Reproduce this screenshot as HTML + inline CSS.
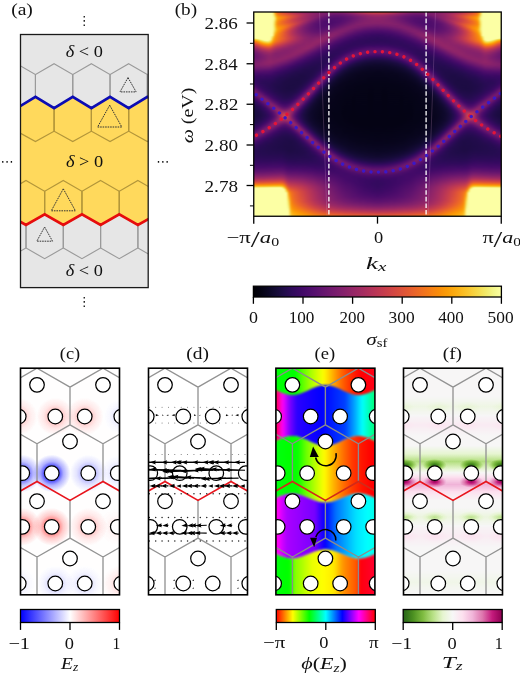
<!DOCTYPE html>
<html><head><meta charset="utf-8"><title>figure</title>
<style>
html,body{margin:0;padding:0;background:#fff;overflow:hidden;}
svg{display:block;}
text{font-family:"Liberation Serif",serif;fill:#111;font-kerning:none;}
</style></head><body>
<svg width="520" height="675" viewBox="0 0 520 675">
<rect width="520" height="675" fill="#fff"/>
<defs>
<radialGradient id="gW"><stop offset="0" stop-color="#fff" stop-opacity="1"/><stop offset="0.36" stop-color="#fff" stop-opacity="1"/><stop offset="0.62" stop-color="#fff" stop-opacity="0.42"/><stop offset="1" stop-color="#fff" stop-opacity="0"/></radialGradient>
<radialGradient id="gK"><stop offset="0" stop-color="#000" stop-opacity="1"/><stop offset="0.36" stop-color="#000" stop-opacity="1"/><stop offset="0.62" stop-color="#000" stop-opacity="0.42"/><stop offset="1" stop-color="#000" stop-opacity="0"/></radialGradient>
<radialGradient id="sW"><stop offset="0" stop-color="#fff" stop-opacity="1"/><stop offset="0.5" stop-color="#fff" stop-opacity="0.5"/><stop offset="1" stop-color="#fff" stop-opacity="0"/></radialGradient>
<radialGradient id="sK"><stop offset="0" stop-color="#000" stop-opacity="1"/><stop offset="0.5" stop-color="#000" stop-opacity="0.5"/><stop offset="1" stop-color="#000" stop-opacity="0"/></radialGradient>
<filter id="fbwr" x="0" y="0" width="1" height="1" color-interpolation-filters="sRGB"><feComponentTransfer><feFuncR type="table" tableValues="0 1 1"/><feFuncG type="table" tableValues="0 1 0"/><feFuncB type="table" tableValues="1 1 0"/></feComponentTransfer></filter>
<filter id="fpiyg" x="0" y="0" width="1" height="1" color-interpolation-filters="sRGB"><feComponentTransfer><feFuncR type="table" tableValues="0.153 0.223 0.299 0.398 0.498 0.612 0.717 0.810 0.902 0.936 0.969 0.980 0.992 0.968 0.944 0.906 0.871 0.821 0.768 0.658 0.557"/><feFuncG type="table" tableValues="0.392 0.477 0.569 0.653 0.737 0.811 0.880 0.921 0.961 0.965 0.967 0.924 0.878 0.794 0.709 0.583 0.467 0.283 0.104 0.052 0.004"/><feFuncB type="table" tableValues="0.098 0.113 0.129 0.191 0.255 0.393 0.520 0.668 0.816 0.894 0.968 0.953 0.937 0.895 0.852 0.764 0.682 0.584 0.487 0.401 0.322"/></feComponentTransfer></filter>
<linearGradient id="h0" x1="0" y1="0" x2="0" y2="1"><stop offset="0.0024" stop-color="#fcffa4"/><stop offset="0.1244" stop-color="#fcffa4"/><stop offset="0.1293" stop-color="#f4f88e"/><stop offset="0.1341" stop-color="#f8cd37"/><stop offset="0.1390" stop-color="#fca50a"/><stop offset="0.1439" stop-color="#f78410"/><stop offset="0.1488" stop-color="#ed6925"/><stop offset="0.1537" stop-color="#e05536"/><stop offset="0.1585" stop-color="#d04545"/><stop offset="0.1683" stop-color="#b1325a"/><stop offset="0.1780" stop-color="#952667"/><stop offset="0.1927" stop-color="#781c6d"/><stop offset="0.2073" stop-color="#6a176e"/><stop offset="0.2220" stop-color="#69166e"/><stop offset="0.2561" stop-color="#7f1e6c"/><stop offset="0.2707" stop-color="#751b6e"/><stop offset="0.2951" stop-color="#4f0d6c"/><stop offset="0.3146" stop-color="#3b0964"/><stop offset="0.3293" stop-color="#360961"/><stop offset="0.3488" stop-color="#390963"/><stop offset="0.3634" stop-color="#490b6a"/><stop offset="0.3732" stop-color="#59106e"/><stop offset="0.3829" stop-color="#6c186e"/><stop offset="0.3878" stop-color="#721a6e"/><stop offset="0.3927" stop-color="#741a6e"/><stop offset="0.3976" stop-color="#71196e"/><stop offset="0.4171" stop-color="#4c0c6b"/><stop offset="0.4268" stop-color="#3b0964"/><stop offset="0.4415" stop-color="#2b0b57"/><stop offset="0.4610" stop-color="#210c4a"/><stop offset="0.4854" stop-color="#1b0c41"/><stop offset="0.5098" stop-color="#190c3e"/><stop offset="0.5390" stop-color="#1f0c48"/><stop offset="0.5683" stop-color="#340a5f"/><stop offset="0.5780" stop-color="#420a68"/><stop offset="0.5927" stop-color="#5f136e"/><stop offset="0.6024" stop-color="#71196e"/><stop offset="0.6122" stop-color="#71196e"/><stop offset="0.6317" stop-color="#4d0d6c"/><stop offset="0.6463" stop-color="#390963"/><stop offset="0.6659" stop-color="#2b0b57"/><stop offset="0.6951" stop-color="#280b53"/><stop offset="0.7244" stop-color="#2f0a5b"/><stop offset="0.7537" stop-color="#400a67"/><stop offset="0.7829" stop-color="#61136e"/><stop offset="0.8024" stop-color="#82206c"/><stop offset="0.8171" stop-color="#a62d60"/><stop offset="0.8268" stop-color="#c33b4f"/><stop offset="0.8366" stop-color="#e15635"/><stop offset="0.8415" stop-color="#ef6c23"/><stop offset="0.8463" stop-color="#f8870e"/><stop offset="0.8512" stop-color="#fca80d"/><stop offset="0.8561" stop-color="#f7d13d"/><stop offset="0.8610" stop-color="#f5f992"/><stop offset="0.8659" stop-color="#fcffa4"/><stop offset="0.9976" stop-color="#fcffa4"/></linearGradient>
<linearGradient id="h1" x1="0" y1="0" x2="0" y2="1"><stop offset="0.0024" stop-color="#fcffa4"/><stop offset="0.1293" stop-color="#fcffa4"/><stop offset="0.1341" stop-color="#f5db4c"/><stop offset="0.1390" stop-color="#fbb61a"/><stop offset="0.1439" stop-color="#fa9407"/><stop offset="0.1488" stop-color="#f47918"/><stop offset="0.1585" stop-color="#db503b"/><stop offset="0.1683" stop-color="#bc3754"/><stop offset="0.1780" stop-color="#9f2a63"/><stop offset="0.1878" stop-color="#88226a"/><stop offset="0.1976" stop-color="#781c6d"/><stop offset="0.2073" stop-color="#6f196e"/><stop offset="0.2220" stop-color="#6c186e"/><stop offset="0.2415" stop-color="#781c6d"/><stop offset="0.2512" stop-color="#7f1e6c"/><stop offset="0.2610" stop-color="#7f1e6c"/><stop offset="0.2707" stop-color="#751b6e"/><stop offset="0.2951" stop-color="#4f0d6c"/><stop offset="0.3146" stop-color="#390963"/><stop offset="0.3341" stop-color="#320a5e"/><stop offset="0.3537" stop-color="#360961"/><stop offset="0.3683" stop-color="#440a68"/><stop offset="0.3878" stop-color="#67166e"/><stop offset="0.3976" stop-color="#741a6e"/><stop offset="0.4024" stop-color="#741a6e"/><stop offset="0.4073" stop-color="#6f196e"/><stop offset="0.4268" stop-color="#490b6a"/><stop offset="0.4415" stop-color="#340a5f"/><stop offset="0.4659" stop-color="#230c4c"/><stop offset="0.4902" stop-color="#1c0c43"/><stop offset="0.5098" stop-color="#1b0c41"/><stop offset="0.5439" stop-color="#240c4f"/><stop offset="0.5634" stop-color="#360961"/><stop offset="0.5732" stop-color="#440a68"/><stop offset="0.5927" stop-color="#6a176e"/><stop offset="0.6024" stop-color="#741a6e"/><stop offset="0.6122" stop-color="#6a176e"/><stop offset="0.6317" stop-color="#450a69"/><stop offset="0.6512" stop-color="#310a5c"/><stop offset="0.6805" stop-color="#260c51"/><stop offset="0.7098" stop-color="#290b55"/><stop offset="0.7439" stop-color="#390963"/><stop offset="0.7683" stop-color="#4f0d6c"/><stop offset="0.7878" stop-color="#69166e"/><stop offset="0.8073" stop-color="#8f2469"/><stop offset="0.8171" stop-color="#a62d60"/><stop offset="0.8268" stop-color="#c43c4e"/><stop offset="0.8317" stop-color="#d34743"/><stop offset="0.8366" stop-color="#e25734"/><stop offset="0.8415" stop-color="#ef6c23"/><stop offset="0.8463" stop-color="#f8870e"/><stop offset="0.8512" stop-color="#fcaa0f"/><stop offset="0.8561" stop-color="#f7d13d"/><stop offset="0.8610" stop-color="#f6fa96"/><stop offset="0.8659" stop-color="#fcffa4"/><stop offset="0.9976" stop-color="#fcffa4"/></linearGradient>
<linearGradient id="h2" x1="0" y1="0" x2="0" y2="1"><stop offset="0.0024" stop-color="#fcffa4"/><stop offset="0.1293" stop-color="#fcffa4"/><stop offset="0.1341" stop-color="#f1ed71"/><stop offset="0.1390" stop-color="#f9cb35"/><stop offset="0.1439" stop-color="#fcaa0f"/><stop offset="0.1488" stop-color="#fa9008"/><stop offset="0.1537" stop-color="#f3761b"/><stop offset="0.1585" stop-color="#e8602d"/><stop offset="0.1683" stop-color="#ca404a"/><stop offset="0.1780" stop-color="#ab2f5e"/><stop offset="0.1878" stop-color="#922568"/><stop offset="0.2024" stop-color="#7a1d6d"/><stop offset="0.2171" stop-color="#71196e"/><stop offset="0.2317" stop-color="#751b6e"/><stop offset="0.2512" stop-color="#82206c"/><stop offset="0.2610" stop-color="#801f6c"/><stop offset="0.2756" stop-color="#6d186e"/><stop offset="0.3000" stop-color="#490b6a"/><stop offset="0.3146" stop-color="#390963"/><stop offset="0.3390" stop-color="#310a5c"/><stop offset="0.3585" stop-color="#340a5f"/><stop offset="0.3732" stop-color="#400a67"/><stop offset="0.3878" stop-color="#59106e"/><stop offset="0.4024" stop-color="#741a6e"/><stop offset="0.4122" stop-color="#741a6e"/><stop offset="0.4317" stop-color="#4f0d6c"/><stop offset="0.4415" stop-color="#3e0966"/><stop offset="0.4610" stop-color="#290b55"/><stop offset="0.4854" stop-color="#1f0c48"/><stop offset="0.5049" stop-color="#1c0c43"/><stop offset="0.5390" stop-color="#260c51"/><stop offset="0.5537" stop-color="#310a5c"/><stop offset="0.5683" stop-color="#450a69"/><stop offset="0.5829" stop-color="#62146e"/><stop offset="0.5927" stop-color="#741a6e"/><stop offset="0.5976" stop-color="#751b6e"/><stop offset="0.6024" stop-color="#721a6e"/><stop offset="0.6220" stop-color="#4d0d6c"/><stop offset="0.6366" stop-color="#390963"/><stop offset="0.6561" stop-color="#2b0b57"/><stop offset="0.6756" stop-color="#260c51"/><stop offset="0.7049" stop-color="#280b53"/><stop offset="0.7390" stop-color="#360961"/><stop offset="0.7634" stop-color="#4a0c6b"/><stop offset="0.7829" stop-color="#61136e"/><stop offset="0.8024" stop-color="#84206b"/><stop offset="0.8171" stop-color="#a82e5f"/><stop offset="0.8268" stop-color="#c63d4d"/><stop offset="0.8317" stop-color="#d44842"/><stop offset="0.8366" stop-color="#e35933"/><stop offset="0.8415" stop-color="#ef6e21"/><stop offset="0.8463" stop-color="#f8890c"/><stop offset="0.8512" stop-color="#fcaa0f"/><stop offset="0.8561" stop-color="#f7d340"/><stop offset="0.8610" stop-color="#f6fa96"/><stop offset="0.8659" stop-color="#fcffa4"/><stop offset="0.9976" stop-color="#fcffa4"/></linearGradient>
<linearGradient id="h3" x1="0" y1="0" x2="0" y2="1"><stop offset="0.0024" stop-color="#fcffa4"/><stop offset="0.1293" stop-color="#fcffa4"/><stop offset="0.1341" stop-color="#f9fc9d"/><stop offset="0.1390" stop-color="#f4e156"/><stop offset="0.1439" stop-color="#fac42a"/><stop offset="0.1488" stop-color="#fca60c"/><stop offset="0.1537" stop-color="#f98c0a"/><stop offset="0.1585" stop-color="#f1731d"/><stop offset="0.1634" stop-color="#e65d2f"/><stop offset="0.1732" stop-color="#c73e4c"/><stop offset="0.1829" stop-color="#a92e5e"/><stop offset="0.1976" stop-color="#88226a"/><stop offset="0.2073" stop-color="#7c1d6d"/><stop offset="0.2220" stop-color="#771c6d"/><stop offset="0.2317" stop-color="#7a1d6d"/><stop offset="0.2512" stop-color="#84206b"/><stop offset="0.2610" stop-color="#82206c"/><stop offset="0.2756" stop-color="#6f196e"/><stop offset="0.2951" stop-color="#4f0d6c"/><stop offset="0.3098" stop-color="#3d0965"/><stop offset="0.3293" stop-color="#310a5c"/><stop offset="0.3488" stop-color="#2d0b59"/><stop offset="0.3683" stop-color="#340a5f"/><stop offset="0.3829" stop-color="#440a68"/><stop offset="0.3976" stop-color="#5d126e"/><stop offset="0.4073" stop-color="#71196e"/><stop offset="0.4122" stop-color="#771c6d"/><stop offset="0.4171" stop-color="#771c6d"/><stop offset="0.4268" stop-color="#6a176e"/><stop offset="0.4463" stop-color="#440a68"/><stop offset="0.4610" stop-color="#310a5c"/><stop offset="0.4902" stop-color="#210c4a"/><stop offset="0.5098" stop-color="#1f0c48"/><stop offset="0.5244" stop-color="#230c4c"/><stop offset="0.5488" stop-color="#320a5e"/><stop offset="0.5634" stop-color="#470b6a"/><stop offset="0.5829" stop-color="#6f196e"/><stop offset="0.5878" stop-color="#751b6e"/><stop offset="0.5927" stop-color="#771c6d"/><stop offset="0.5976" stop-color="#741a6e"/><stop offset="0.6171" stop-color="#4d0d6c"/><stop offset="0.6317" stop-color="#390963"/><stop offset="0.6561" stop-color="#280b53"/><stop offset="0.6854" stop-color="#240c4f"/><stop offset="0.7146" stop-color="#2b0b57"/><stop offset="0.7390" stop-color="#360961"/><stop offset="0.7634" stop-color="#4a0c6b"/><stop offset="0.7829" stop-color="#62146e"/><stop offset="0.7976" stop-color="#7a1d6d"/><stop offset="0.8122" stop-color="#9b2964"/><stop offset="0.8268" stop-color="#c63d4d"/><stop offset="0.8366" stop-color="#e35933"/><stop offset="0.8415" stop-color="#f06f20"/><stop offset="0.8463" stop-color="#f98b0b"/><stop offset="0.8512" stop-color="#fcac11"/><stop offset="0.8561" stop-color="#f7d340"/><stop offset="0.8610" stop-color="#f8fb9a"/><stop offset="0.8659" stop-color="#fcffa4"/><stop offset="0.9976" stop-color="#fcffa4"/></linearGradient>
<linearGradient id="h4" x1="0" y1="0" x2="0" y2="1"><stop offset="0.0024" stop-color="#fcffa4"/><stop offset="0.1341" stop-color="#fcffa4"/><stop offset="0.1390" stop-color="#f2f482"/><stop offset="0.1439" stop-color="#f5d949"/><stop offset="0.1488" stop-color="#fbbc21"/><stop offset="0.1537" stop-color="#fca108"/><stop offset="0.1585" stop-color="#f8850f"/><stop offset="0.1634" stop-color="#ef6c23"/><stop offset="0.1683" stop-color="#e25734"/><stop offset="0.1732" stop-color="#d34743"/><stop offset="0.1829" stop-color="#b3325a"/><stop offset="0.1976" stop-color="#902568"/><stop offset="0.2073" stop-color="#82206c"/><stop offset="0.2171" stop-color="#7c1d6d"/><stop offset="0.2268" stop-color="#7c1d6d"/><stop offset="0.2463" stop-color="#87216b"/><stop offset="0.2561" stop-color="#87216b"/><stop offset="0.2659" stop-color="#7d1e6d"/><stop offset="0.2902" stop-color="#550f6d"/><stop offset="0.3049" stop-color="#420a68"/><stop offset="0.3293" stop-color="#310a5c"/><stop offset="0.3488" stop-color="#2b0b57"/><stop offset="0.3780" stop-color="#360961"/><stop offset="0.3878" stop-color="#400a67"/><stop offset="0.4073" stop-color="#64156e"/><stop offset="0.4122" stop-color="#6f196e"/><stop offset="0.4220" stop-color="#7a1d6d"/><stop offset="0.4317" stop-color="#71196e"/><stop offset="0.4512" stop-color="#490b6a"/><stop offset="0.4707" stop-color="#310a5c"/><stop offset="0.4902" stop-color="#260c51"/><stop offset="0.5049" stop-color="#230c4c"/><stop offset="0.5293" stop-color="#290b55"/><stop offset="0.5488" stop-color="#3b0964"/><stop offset="0.5634" stop-color="#540f6d"/><stop offset="0.5780" stop-color="#721a6e"/><stop offset="0.5829" stop-color="#781c6d"/><stop offset="0.5878" stop-color="#781c6d"/><stop offset="0.5976" stop-color="#6c186e"/><stop offset="0.6171" stop-color="#450a69"/><stop offset="0.6268" stop-color="#380962"/><stop offset="0.6512" stop-color="#280b53"/><stop offset="0.6756" stop-color="#240c4f"/><stop offset="0.7000" stop-color="#260c51"/><stop offset="0.7293" stop-color="#310a5c"/><stop offset="0.7585" stop-color="#450a69"/><stop offset="0.7829" stop-color="#62146e"/><stop offset="0.8024" stop-color="#85216b"/><stop offset="0.8171" stop-color="#a92e5e"/><stop offset="0.8268" stop-color="#c73e4c"/><stop offset="0.8317" stop-color="#d54a41"/><stop offset="0.8366" stop-color="#e45a31"/><stop offset="0.8415" stop-color="#f06f20"/><stop offset="0.8463" stop-color="#f98b0b"/><stop offset="0.8512" stop-color="#fcac11"/><stop offset="0.8561" stop-color="#f6d543"/><stop offset="0.8610" stop-color="#f8fb9a"/><stop offset="0.8659" stop-color="#fcffa4"/><stop offset="0.9976" stop-color="#fcffa4"/></linearGradient>
<linearGradient id="h5" x1="0" y1="0" x2="0" y2="1"><stop offset="0.0024" stop-color="#fcffa4"/><stop offset="0.1341" stop-color="#fcffa4"/><stop offset="0.1390" stop-color="#fafda1"/><stop offset="0.1439" stop-color="#f2e865"/><stop offset="0.1488" stop-color="#f9cb35"/><stop offset="0.1537" stop-color="#fcae12"/><stop offset="0.1585" stop-color="#fa9207"/><stop offset="0.1634" stop-color="#f37819"/><stop offset="0.1683" stop-color="#e8602d"/><stop offset="0.1780" stop-color="#ca404a"/><stop offset="0.1878" stop-color="#ad305d"/><stop offset="0.1976" stop-color="#972766"/><stop offset="0.2122" stop-color="#84206b"/><stop offset="0.2268" stop-color="#801f6c"/><stop offset="0.2463" stop-color="#8a226a"/><stop offset="0.2561" stop-color="#88226a"/><stop offset="0.2707" stop-color="#771c6d"/><stop offset="0.2902" stop-color="#540f6d"/><stop offset="0.3146" stop-color="#380962"/><stop offset="0.3390" stop-color="#2b0b57"/><stop offset="0.3683" stop-color="#2d0b59"/><stop offset="0.3829" stop-color="#340a5f"/><stop offset="0.4024" stop-color="#4c0c6b"/><stop offset="0.4220" stop-color="#741a6e"/><stop offset="0.4268" stop-color="#7a1d6d"/><stop offset="0.4317" stop-color="#7c1d6d"/><stop offset="0.4366" stop-color="#771c6d"/><stop offset="0.4561" stop-color="#4f0d6c"/><stop offset="0.4707" stop-color="#390963"/><stop offset="0.4902" stop-color="#2b0b57"/><stop offset="0.5098" stop-color="#260c51"/><stop offset="0.5293" stop-color="#2f0a5b"/><stop offset="0.5439" stop-color="#3e0966"/><stop offset="0.5585" stop-color="#57106e"/><stop offset="0.5732" stop-color="#751b6e"/><stop offset="0.5780" stop-color="#7a1d6d"/><stop offset="0.5829" stop-color="#7a1d6d"/><stop offset="0.5878" stop-color="#751b6e"/><stop offset="0.6073" stop-color="#4d0d6c"/><stop offset="0.6220" stop-color="#380962"/><stop offset="0.6415" stop-color="#290b55"/><stop offset="0.6659" stop-color="#240c4f"/><stop offset="0.7000" stop-color="#260c51"/><stop offset="0.7293" stop-color="#310a5c"/><stop offset="0.7585" stop-color="#450a69"/><stop offset="0.7829" stop-color="#62146e"/><stop offset="0.7976" stop-color="#7c1d6d"/><stop offset="0.8122" stop-color="#9d2964"/><stop offset="0.8220" stop-color="#b93556"/><stop offset="0.8317" stop-color="#d74b3f"/><stop offset="0.8366" stop-color="#e55c30"/><stop offset="0.8415" stop-color="#f1711f"/><stop offset="0.8463" stop-color="#f98c0a"/><stop offset="0.8512" stop-color="#fcae12"/><stop offset="0.8561" stop-color="#f6d543"/><stop offset="0.8610" stop-color="#f9fc9d"/><stop offset="0.8659" stop-color="#fcffa4"/><stop offset="0.9976" stop-color="#fcffa4"/></linearGradient>
<linearGradient id="h6" x1="0" y1="0" x2="0" y2="1"><stop offset="0.0024" stop-color="#fcffa4"/><stop offset="0.1390" stop-color="#fcffa4"/><stop offset="0.1439" stop-color="#f1f179"/><stop offset="0.1488" stop-color="#f6d543"/><stop offset="0.1537" stop-color="#fbb81d"/><stop offset="0.1585" stop-color="#fb9b06"/><stop offset="0.1634" stop-color="#f68013"/><stop offset="0.1683" stop-color="#ec6726"/><stop offset="0.1732" stop-color="#df5337"/><stop offset="0.1780" stop-color="#cf4446"/><stop offset="0.1878" stop-color="#b3325a"/><stop offset="0.1976" stop-color="#9b2964"/><stop offset="0.2122" stop-color="#88226a"/><stop offset="0.2268" stop-color="#85216b"/><stop offset="0.2463" stop-color="#8d2369"/><stop offset="0.2561" stop-color="#8a226a"/><stop offset="0.2659" stop-color="#7d1e6d"/><stop offset="0.2902" stop-color="#540f6d"/><stop offset="0.3098" stop-color="#3b0964"/><stop offset="0.3293" stop-color="#2f0a5b"/><stop offset="0.3488" stop-color="#290b55"/><stop offset="0.3780" stop-color="#2d0b59"/><stop offset="0.3927" stop-color="#380962"/><stop offset="0.4024" stop-color="#420a68"/><stop offset="0.4171" stop-color="#5c126e"/><stop offset="0.4268" stop-color="#721a6e"/><stop offset="0.4317" stop-color="#7a1d6d"/><stop offset="0.4366" stop-color="#7d1e6d"/><stop offset="0.4415" stop-color="#7c1d6d"/><stop offset="0.4512" stop-color="#6c186e"/><stop offset="0.4707" stop-color="#450a69"/><stop offset="0.4854" stop-color="#360961"/><stop offset="0.5000" stop-color="#2d0b59"/><stop offset="0.5146" stop-color="#2d0b59"/><stop offset="0.5341" stop-color="#3b0964"/><stop offset="0.5488" stop-color="#510e6c"/><stop offset="0.5634" stop-color="#71196e"/><stop offset="0.5732" stop-color="#7d1e6d"/><stop offset="0.5780" stop-color="#7c1d6d"/><stop offset="0.5878" stop-color="#6c186e"/><stop offset="0.6024" stop-color="#4c0c6b"/><stop offset="0.6171" stop-color="#380962"/><stop offset="0.6366" stop-color="#290b55"/><stop offset="0.6561" stop-color="#240c4f"/><stop offset="0.6805" stop-color="#230c4c"/><stop offset="0.7195" stop-color="#2b0b57"/><stop offset="0.7488" stop-color="#3d0965"/><stop offset="0.7732" stop-color="#550f6d"/><stop offset="0.7976" stop-color="#7d1e6d"/><stop offset="0.8122" stop-color="#9f2a63"/><stop offset="0.8268" stop-color="#c83f4b"/><stop offset="0.8317" stop-color="#d84c3e"/><stop offset="0.8366" stop-color="#e65d2f"/><stop offset="0.8415" stop-color="#f1731d"/><stop offset="0.8463" stop-color="#f98e09"/><stop offset="0.8512" stop-color="#fcb014"/><stop offset="0.8561" stop-color="#f6d746"/><stop offset="0.8610" stop-color="#f9fc9d"/><stop offset="0.8659" stop-color="#fcffa4"/><stop offset="0.9976" stop-color="#fcffa4"/></linearGradient>
<linearGradient id="h7" x1="0" y1="0" x2="0" y2="1"><stop offset="0.0024" stop-color="#fcffa4"/><stop offset="0.1390" stop-color="#fcffa4"/><stop offset="0.1439" stop-color="#f1f179"/><stop offset="0.1488" stop-color="#f6d746"/><stop offset="0.1537" stop-color="#fbba1f"/><stop offset="0.1585" stop-color="#fb9d07"/><stop offset="0.1634" stop-color="#f78212"/><stop offset="0.1683" stop-color="#ed6925"/><stop offset="0.1732" stop-color="#e05536"/><stop offset="0.1829" stop-color="#c33b4f"/><stop offset="0.1976" stop-color="#9f2a63"/><stop offset="0.2073" stop-color="#902568"/><stop offset="0.2171" stop-color="#8a226a"/><stop offset="0.2463" stop-color="#8f2469"/><stop offset="0.2561" stop-color="#8a226a"/><stop offset="0.2659" stop-color="#7d1e6d"/><stop offset="0.2902" stop-color="#520e6d"/><stop offset="0.3098" stop-color="#3b0964"/><stop offset="0.3293" stop-color="#2f0a5b"/><stop offset="0.3585" stop-color="#280b53"/><stop offset="0.3780" stop-color="#2b0b57"/><stop offset="0.3976" stop-color="#360961"/><stop offset="0.4073" stop-color="#400a67"/><stop offset="0.4220" stop-color="#59106e"/><stop offset="0.4366" stop-color="#781c6d"/><stop offset="0.4415" stop-color="#7f1e6c"/><stop offset="0.4463" stop-color="#801f6c"/><stop offset="0.4561" stop-color="#741a6e"/><stop offset="0.4756" stop-color="#4d0d6c"/><stop offset="0.4854" stop-color="#400a67"/><stop offset="0.5000" stop-color="#360961"/><stop offset="0.5098" stop-color="#320a5e"/><stop offset="0.5293" stop-color="#400a67"/><stop offset="0.5390" stop-color="#4d0d6c"/><stop offset="0.5585" stop-color="#751b6e"/><stop offset="0.5634" stop-color="#7d1e6d"/><stop offset="0.5683" stop-color="#801f6c"/><stop offset="0.5732" stop-color="#7d1e6d"/><stop offset="0.5829" stop-color="#6a176e"/><stop offset="0.6024" stop-color="#440a68"/><stop offset="0.6220" stop-color="#2f0a5b"/><stop offset="0.6561" stop-color="#230c4c"/><stop offset="0.6951" stop-color="#240c4f"/><stop offset="0.7293" stop-color="#310a5c"/><stop offset="0.7537" stop-color="#420a68"/><stop offset="0.7780" stop-color="#5d126e"/><stop offset="0.7976" stop-color="#7d1e6d"/><stop offset="0.8122" stop-color="#a02a63"/><stop offset="0.8220" stop-color="#bc3754"/><stop offset="0.8268" stop-color="#ca404a"/><stop offset="0.8366" stop-color="#e65d2f"/><stop offset="0.8415" stop-color="#f2741c"/><stop offset="0.8463" stop-color="#f98e09"/><stop offset="0.8512" stop-color="#fcb014"/><stop offset="0.8561" stop-color="#f5d949"/><stop offset="0.8610" stop-color="#fafda1"/><stop offset="0.8707" stop-color="#fcffa4"/><stop offset="0.9976" stop-color="#fcffa4"/></linearGradient>
<linearGradient id="h8" x1="0" y1="0" x2="0" y2="1"><stop offset="0.0024" stop-color="#fcffa4"/><stop offset="0.1293" stop-color="#fcffa4"/><stop offset="0.1341" stop-color="#fafda1"/><stop offset="0.1390" stop-color="#f1ed71"/><stop offset="0.1439" stop-color="#f6d746"/><stop offset="0.1488" stop-color="#fac026"/><stop offset="0.1537" stop-color="#fca60c"/><stop offset="0.1585" stop-color="#f98c0a"/><stop offset="0.1634" stop-color="#f3761b"/><stop offset="0.1683" stop-color="#e8602d"/><stop offset="0.1780" stop-color="#cc4248"/><stop offset="0.1878" stop-color="#b1325a"/><stop offset="0.2024" stop-color="#952667"/><stop offset="0.2171" stop-color="#8c2369"/><stop offset="0.2268" stop-color="#8c2369"/><stop offset="0.2415" stop-color="#902568"/><stop offset="0.2512" stop-color="#8d2369"/><stop offset="0.2659" stop-color="#7a1d6d"/><stop offset="0.2902" stop-color="#4f0d6c"/><stop offset="0.3146" stop-color="#360961"/><stop offset="0.3341" stop-color="#2b0b57"/><stop offset="0.3634" stop-color="#260c51"/><stop offset="0.3927" stop-color="#2d0b59"/><stop offset="0.4122" stop-color="#3d0965"/><stop offset="0.4268" stop-color="#540f6d"/><stop offset="0.4463" stop-color="#7f1e6c"/><stop offset="0.4512" stop-color="#84206b"/><stop offset="0.4561" stop-color="#82206c"/><stop offset="0.4659" stop-color="#721a6e"/><stop offset="0.4805" stop-color="#540f6d"/><stop offset="0.4951" stop-color="#420a68"/><stop offset="0.5098" stop-color="#3d0965"/><stop offset="0.5244" stop-color="#450a69"/><stop offset="0.5390" stop-color="#5c126e"/><stop offset="0.5537" stop-color="#7c1d6d"/><stop offset="0.5585" stop-color="#82206c"/><stop offset="0.5634" stop-color="#82206c"/><stop offset="0.5732" stop-color="#751b6e"/><stop offset="0.5878" stop-color="#540f6d"/><stop offset="0.5976" stop-color="#440a68"/><stop offset="0.6171" stop-color="#2f0a5b"/><stop offset="0.6512" stop-color="#230c4c"/><stop offset="0.6951" stop-color="#240c4f"/><stop offset="0.7293" stop-color="#310a5c"/><stop offset="0.7537" stop-color="#420a68"/><stop offset="0.7780" stop-color="#5d126e"/><stop offset="0.7976" stop-color="#7f1e6c"/><stop offset="0.8122" stop-color="#a22b62"/><stop offset="0.8220" stop-color="#bd3853"/><stop offset="0.8317" stop-color="#d94d3d"/><stop offset="0.8366" stop-color="#e75e2e"/><stop offset="0.8415" stop-color="#f2741c"/><stop offset="0.8463" stop-color="#fa9008"/><stop offset="0.8512" stop-color="#fcb216"/><stop offset="0.8561" stop-color="#f5d949"/><stop offset="0.8610" stop-color="#fcffa4"/><stop offset="0.9976" stop-color="#fcffa4"/></linearGradient>
<linearGradient id="h9" x1="0" y1="0" x2="0" y2="1"><stop offset="0.0024" stop-color="#fcffa4"/><stop offset="0.1098" stop-color="#fcffa4"/><stop offset="0.1146" stop-color="#fafda1"/><stop offset="0.1195" stop-color="#f1ed71"/><stop offset="0.1244" stop-color="#f5db4c"/><stop offset="0.1293" stop-color="#f9c932"/><stop offset="0.1341" stop-color="#fbbc21"/><stop offset="0.1439" stop-color="#fca108"/><stop offset="0.1488" stop-color="#fa9207"/><stop offset="0.1585" stop-color="#ef6e21"/><stop offset="0.1683" stop-color="#d94d3d"/><stop offset="0.1780" stop-color="#bf3952"/><stop offset="0.1878" stop-color="#a62d60"/><stop offset="0.2024" stop-color="#8f2469"/><stop offset="0.2122" stop-color="#88226a"/><stop offset="0.2220" stop-color="#88226a"/><stop offset="0.2463" stop-color="#8d2369"/><stop offset="0.2561" stop-color="#84206b"/><stop offset="0.2805" stop-color="#5a116e"/><stop offset="0.3000" stop-color="#400a67"/><stop offset="0.3146" stop-color="#320a5e"/><stop offset="0.3537" stop-color="#240c4f"/><stop offset="0.3829" stop-color="#260c51"/><stop offset="0.4024" stop-color="#2f0a5b"/><stop offset="0.4220" stop-color="#400a67"/><stop offset="0.4366" stop-color="#5a116e"/><stop offset="0.4512" stop-color="#7c1d6d"/><stop offset="0.4561" stop-color="#84206b"/><stop offset="0.4610" stop-color="#87216b"/><stop offset="0.4659" stop-color="#84206b"/><stop offset="0.4902" stop-color="#550f6d"/><stop offset="0.5000" stop-color="#4c0c6b"/><stop offset="0.5098" stop-color="#490b6a"/><stop offset="0.5195" stop-color="#4d0d6c"/><stop offset="0.5293" stop-color="#5a116e"/><stop offset="0.5488" stop-color="#82206c"/><stop offset="0.5585" stop-color="#85216b"/><stop offset="0.5683" stop-color="#741a6e"/><stop offset="0.5829" stop-color="#520e6d"/><stop offset="0.5976" stop-color="#3b0964"/><stop offset="0.6220" stop-color="#290b55"/><stop offset="0.6463" stop-color="#230c4c"/><stop offset="0.6756" stop-color="#210c4a"/><stop offset="0.7195" stop-color="#2b0b57"/><stop offset="0.7585" stop-color="#470b6a"/><stop offset="0.7780" stop-color="#5d126e"/><stop offset="0.8024" stop-color="#8a226a"/><stop offset="0.8171" stop-color="#b0315b"/><stop offset="0.8268" stop-color="#cc4248"/><stop offset="0.8317" stop-color="#da4e3c"/><stop offset="0.8366" stop-color="#e8602d"/><stop offset="0.8415" stop-color="#f3761b"/><stop offset="0.8463" stop-color="#fa9207"/><stop offset="0.8512" stop-color="#fcb418"/><stop offset="0.8561" stop-color="#f5db4c"/><stop offset="0.8610" stop-color="#fcffa4"/><stop offset="0.9976" stop-color="#fcffa4"/></linearGradient>
<linearGradient id="h10" x1="0" y1="0" x2="0" y2="1"><stop offset="0.0024" stop-color="#fcb216"/><stop offset="0.0073" stop-color="#fbbe23"/><stop offset="0.0171" stop-color="#f5d949"/><stop offset="0.0220" stop-color="#f2e661"/><stop offset="0.0268" stop-color="#f1ef75"/><stop offset="0.0317" stop-color="#f2f482"/><stop offset="0.0366" stop-color="#f2f27d"/><stop offset="0.0463" stop-color="#f2e661"/><stop offset="0.0512" stop-color="#f4e156"/><stop offset="0.0610" stop-color="#f5db4c"/><stop offset="0.0707" stop-color="#f4e156"/><stop offset="0.0805" stop-color="#f2e661"/><stop offset="0.0854" stop-color="#f2e661"/><stop offset="0.0951" stop-color="#f5d949"/><stop offset="0.1049" stop-color="#fac228"/><stop offset="0.1146" stop-color="#fcac11"/><stop offset="0.1195" stop-color="#fca309"/><stop offset="0.1293" stop-color="#fb9606"/><stop offset="0.1390" stop-color="#f8890c"/><stop offset="0.1488" stop-color="#f2741c"/><stop offset="0.1585" stop-color="#e35933"/><stop offset="0.1732" stop-color="#bd3853"/><stop offset="0.1878" stop-color="#9b2964"/><stop offset="0.2024" stop-color="#88226a"/><stop offset="0.2122" stop-color="#85216b"/><stop offset="0.2415" stop-color="#8c2369"/><stop offset="0.2512" stop-color="#85216b"/><stop offset="0.2756" stop-color="#5d126e"/><stop offset="0.2951" stop-color="#400a67"/><stop offset="0.3244" stop-color="#2b0b57"/><stop offset="0.3537" stop-color="#230c4c"/><stop offset="0.3878" stop-color="#240c4f"/><stop offset="0.4073" stop-color="#2d0b59"/><stop offset="0.4220" stop-color="#380962"/><stop offset="0.4366" stop-color="#4c0c6b"/><stop offset="0.4512" stop-color="#6d186e"/><stop offset="0.4610" stop-color="#84206b"/><stop offset="0.4659" stop-color="#8a226a"/><stop offset="0.4707" stop-color="#8a226a"/><stop offset="0.4756" stop-color="#85216b"/><stop offset="0.4951" stop-color="#61136e"/><stop offset="0.5098" stop-color="#57106e"/><stop offset="0.5195" stop-color="#5d126e"/><stop offset="0.5293" stop-color="#6d186e"/><stop offset="0.5390" stop-color="#82206c"/><stop offset="0.5439" stop-color="#88226a"/><stop offset="0.5488" stop-color="#8a226a"/><stop offset="0.5537" stop-color="#87216b"/><stop offset="0.5732" stop-color="#5a116e"/><stop offset="0.5878" stop-color="#400a67"/><stop offset="0.6073" stop-color="#2d0b59"/><stop offset="0.6268" stop-color="#240c4f"/><stop offset="0.6610" stop-color="#210c4a"/><stop offset="0.6951" stop-color="#240c4f"/><stop offset="0.7293" stop-color="#310a5c"/><stop offset="0.7585" stop-color="#470b6a"/><stop offset="0.7878" stop-color="#6d186e"/><stop offset="0.8073" stop-color="#972766"/><stop offset="0.8171" stop-color="#b0315b"/><stop offset="0.8268" stop-color="#cc4248"/><stop offset="0.8317" stop-color="#db503b"/><stop offset="0.8366" stop-color="#e9612b"/><stop offset="0.8415" stop-color="#f37819"/><stop offset="0.8463" stop-color="#fa9407"/><stop offset="0.8512" stop-color="#fbb61a"/><stop offset="0.8561" stop-color="#f4dd4f"/><stop offset="0.8610" stop-color="#fcffa4"/><stop offset="0.9976" stop-color="#fcffa4"/></linearGradient>
<linearGradient id="h11" x1="0" y1="0" x2="0" y2="1"><stop offset="0.0024" stop-color="#f1731d"/><stop offset="0.0122" stop-color="#f8850f"/><stop offset="0.0171" stop-color="#fa9407"/><stop offset="0.0220" stop-color="#fca108"/><stop offset="0.0268" stop-color="#fcaa0f"/><stop offset="0.0317" stop-color="#fcae12"/><stop offset="0.0366" stop-color="#fcac11"/><stop offset="0.0463" stop-color="#fb9d07"/><stop offset="0.0512" stop-color="#fb9606"/><stop offset="0.0610" stop-color="#fa9407"/><stop offset="0.0707" stop-color="#fc9f07"/><stop offset="0.0854" stop-color="#fcb014"/><stop offset="0.1000" stop-color="#fc9f07"/><stop offset="0.1146" stop-color="#f98c0a"/><stop offset="0.1341" stop-color="#f67e14"/><stop offset="0.1439" stop-color="#f1711f"/><stop offset="0.1537" stop-color="#e45a31"/><stop offset="0.1683" stop-color="#c13a50"/><stop offset="0.1780" stop-color="#a82e5f"/><stop offset="0.1878" stop-color="#952667"/><stop offset="0.2024" stop-color="#85216b"/><stop offset="0.2171" stop-color="#85216b"/><stop offset="0.2366" stop-color="#8c2369"/><stop offset="0.2463" stop-color="#87216b"/><stop offset="0.2610" stop-color="#721a6e"/><stop offset="0.2756" stop-color="#57106e"/><stop offset="0.2951" stop-color="#3d0965"/><stop offset="0.3195" stop-color="#2b0b57"/><stop offset="0.3293" stop-color="#260c51"/><stop offset="0.3634" stop-color="#210c4a"/><stop offset="0.3878" stop-color="#230c4c"/><stop offset="0.4171" stop-color="#2f0a5b"/><stop offset="0.4317" stop-color="#3b0964"/><stop offset="0.4512" stop-color="#5c126e"/><stop offset="0.4659" stop-color="#82206c"/><stop offset="0.4707" stop-color="#8c2369"/><stop offset="0.4756" stop-color="#902568"/><stop offset="0.4805" stop-color="#8f2469"/><stop offset="0.5000" stop-color="#721a6e"/><stop offset="0.5049" stop-color="#6d186e"/><stop offset="0.5146" stop-color="#6f196e"/><stop offset="0.5244" stop-color="#7c1d6d"/><stop offset="0.5341" stop-color="#8c2369"/><stop offset="0.5390" stop-color="#902568"/><stop offset="0.5439" stop-color="#8f2469"/><stop offset="0.5537" stop-color="#7c1d6d"/><stop offset="0.5683" stop-color="#59106e"/><stop offset="0.5829" stop-color="#400a67"/><stop offset="0.5976" stop-color="#310a5c"/><stop offset="0.6220" stop-color="#240c4f"/><stop offset="0.6463" stop-color="#210c4a"/><stop offset="0.6805" stop-color="#210c4a"/><stop offset="0.7195" stop-color="#2b0b57"/><stop offset="0.7585" stop-color="#470b6a"/><stop offset="0.7829" stop-color="#67166e"/><stop offset="0.7927" stop-color="#771c6d"/><stop offset="0.8073" stop-color="#972766"/><stop offset="0.8171" stop-color="#b1325a"/><stop offset="0.8268" stop-color="#ce4347"/><stop offset="0.8366" stop-color="#e9612b"/><stop offset="0.8415" stop-color="#f37819"/><stop offset="0.8463" stop-color="#fa9407"/><stop offset="0.8512" stop-color="#fbb61a"/><stop offset="0.8561" stop-color="#f4dd4f"/><stop offset="0.8610" stop-color="#fcffa4"/><stop offset="0.9976" stop-color="#fcffa4"/></linearGradient>
<linearGradient id="h12" x1="0" y1="0" x2="0" y2="1"><stop offset="0.0024" stop-color="#e8602d"/><stop offset="0.0122" stop-color="#f1731d"/><stop offset="0.0220" stop-color="#f98c0a"/><stop offset="0.0268" stop-color="#fb9606"/><stop offset="0.0317" stop-color="#fb9706"/><stop offset="0.0415" stop-color="#f98c0a"/><stop offset="0.0463" stop-color="#f78410"/><stop offset="0.0561" stop-color="#f67e14"/><stop offset="0.0610" stop-color="#f68013"/><stop offset="0.0756" stop-color="#fb9706"/><stop offset="0.0854" stop-color="#fb9b06"/><stop offset="0.0951" stop-color="#fa9008"/><stop offset="0.1049" stop-color="#f78212"/><stop offset="0.1341" stop-color="#f1731d"/><stop offset="0.1439" stop-color="#eb6628"/><stop offset="0.1537" stop-color="#dd513a"/><stop offset="0.1683" stop-color="#b93556"/><stop offset="0.1829" stop-color="#982766"/><stop offset="0.1927" stop-color="#8c2369"/><stop offset="0.2024" stop-color="#85216b"/><stop offset="0.2171" stop-color="#85216b"/><stop offset="0.2317" stop-color="#8c2369"/><stop offset="0.2415" stop-color="#88226a"/><stop offset="0.2561" stop-color="#751b6e"/><stop offset="0.2756" stop-color="#520e6d"/><stop offset="0.2951" stop-color="#390963"/><stop offset="0.3146" stop-color="#2b0b57"/><stop offset="0.3293" stop-color="#240c4f"/><stop offset="0.3683" stop-color="#1f0c48"/><stop offset="0.4024" stop-color="#240c4f"/><stop offset="0.4268" stop-color="#310a5c"/><stop offset="0.4415" stop-color="#400a67"/><stop offset="0.4561" stop-color="#59106e"/><stop offset="0.4707" stop-color="#7f1e6c"/><stop offset="0.4805" stop-color="#952667"/><stop offset="0.4854" stop-color="#9a2865"/><stop offset="0.4951" stop-color="#932667"/><stop offset="0.5049" stop-color="#8a226a"/><stop offset="0.5146" stop-color="#8a226a"/><stop offset="0.5293" stop-color="#982766"/><stop offset="0.5341" stop-color="#982766"/><stop offset="0.5390" stop-color="#932667"/><stop offset="0.5537" stop-color="#6f196e"/><stop offset="0.5683" stop-color="#4d0d6c"/><stop offset="0.5829" stop-color="#390963"/><stop offset="0.6073" stop-color="#280b53"/><stop offset="0.6317" stop-color="#210c4a"/><stop offset="0.6659" stop-color="#1f0c48"/><stop offset="0.7098" stop-color="#280b53"/><stop offset="0.7390" stop-color="#380962"/><stop offset="0.7585" stop-color="#470b6a"/><stop offset="0.7829" stop-color="#67166e"/><stop offset="0.8024" stop-color="#8d2369"/><stop offset="0.8171" stop-color="#b3325a"/><stop offset="0.8268" stop-color="#cf4446"/><stop offset="0.8317" stop-color="#dd513a"/><stop offset="0.8366" stop-color="#ea632a"/><stop offset="0.8415" stop-color="#f47918"/><stop offset="0.8463" stop-color="#fb9606"/><stop offset="0.8512" stop-color="#fbb61a"/><stop offset="0.8561" stop-color="#f4df53"/><stop offset="0.8610" stop-color="#fcffa4"/><stop offset="0.9976" stop-color="#fcffa4"/></linearGradient>
<linearGradient id="h13" x1="0" y1="0" x2="0" y2="1"><stop offset="0.0024" stop-color="#e15635"/><stop offset="0.0122" stop-color="#ed6925"/><stop offset="0.0220" stop-color="#f78212"/><stop offset="0.0268" stop-color="#f98b0b"/><stop offset="0.0317" stop-color="#f98b0b"/><stop offset="0.0463" stop-color="#f3761b"/><stop offset="0.0561" stop-color="#f1731d"/><stop offset="0.0707" stop-color="#f8870e"/><stop offset="0.0756" stop-color="#f98e09"/><stop offset="0.0805" stop-color="#fa9008"/><stop offset="0.0902" stop-color="#f8850f"/><stop offset="0.1049" stop-color="#f1711f"/><stop offset="0.1341" stop-color="#ec6726"/><stop offset="0.1439" stop-color="#e55c30"/><stop offset="0.1585" stop-color="#ca404a"/><stop offset="0.1732" stop-color="#a62d60"/><stop offset="0.1829" stop-color="#932667"/><stop offset="0.1976" stop-color="#85216b"/><stop offset="0.2122" stop-color="#85216b"/><stop offset="0.2317" stop-color="#8c2369"/><stop offset="0.2415" stop-color="#85216b"/><stop offset="0.2659" stop-color="#5d126e"/><stop offset="0.2854" stop-color="#400a67"/><stop offset="0.3098" stop-color="#2b0b57"/><stop offset="0.3244" stop-color="#240c4f"/><stop offset="0.3585" stop-color="#1f0c48"/><stop offset="0.3878" stop-color="#1f0c48"/><stop offset="0.4268" stop-color="#2d0b59"/><stop offset="0.4463" stop-color="#3e0966"/><stop offset="0.4610" stop-color="#57106e"/><stop offset="0.4756" stop-color="#7f1e6c"/><stop offset="0.4854" stop-color="#9b2964"/><stop offset="0.4902" stop-color="#a62d60"/><stop offset="0.5000" stop-color="#ad305d"/><stop offset="0.5244" stop-color="#ab2f5e"/><stop offset="0.5293" stop-color="#a52c60"/><stop offset="0.5390" stop-color="#8c2369"/><stop offset="0.5537" stop-color="#62146e"/><stop offset="0.5683" stop-color="#450a69"/><stop offset="0.5878" stop-color="#310a5c"/><stop offset="0.6171" stop-color="#230c4c"/><stop offset="0.6561" stop-color="#1f0c48"/><stop offset="0.6902" stop-color="#230c4c"/><stop offset="0.7293" stop-color="#310a5c"/><stop offset="0.7537" stop-color="#420a68"/><stop offset="0.7780" stop-color="#5f136e"/><stop offset="0.7976" stop-color="#82206c"/><stop offset="0.8122" stop-color="#a52c60"/><stop offset="0.8220" stop-color="#c03a51"/><stop offset="0.8317" stop-color="#dd513a"/><stop offset="0.8366" stop-color="#ea632a"/><stop offset="0.8415" stop-color="#f47918"/><stop offset="0.8463" stop-color="#fa9407"/><stop offset="0.8512" stop-color="#fbb61a"/><stop offset="0.8561" stop-color="#f5db4c"/><stop offset="0.8610" stop-color="#fcffa4"/><stop offset="0.9976" stop-color="#fcffa4"/></linearGradient>
<linearGradient id="h14" x1="0" y1="0" x2="0" y2="1"><stop offset="0.0024" stop-color="#da4e3c"/><stop offset="0.0122" stop-color="#e9612b"/><stop offset="0.0220" stop-color="#f47918"/><stop offset="0.0268" stop-color="#f68013"/><stop offset="0.0317" stop-color="#f67e14"/><stop offset="0.0463" stop-color="#ee6a24"/><stop offset="0.0561" stop-color="#ee6a24"/><stop offset="0.0659" stop-color="#f37819"/><stop offset="0.0707" stop-color="#f68013"/><stop offset="0.0805" stop-color="#f78410"/><stop offset="0.1000" stop-color="#eb6628"/><stop offset="0.1146" stop-color="#e9612b"/><stop offset="0.1293" stop-color="#e8602d"/><stop offset="0.1390" stop-color="#e35933"/><stop offset="0.1488" stop-color="#d54a41"/><stop offset="0.1634" stop-color="#b63458"/><stop offset="0.1780" stop-color="#972766"/><stop offset="0.1878" stop-color="#8a226a"/><stop offset="0.2024" stop-color="#85216b"/><stop offset="0.2268" stop-color="#8c2369"/><stop offset="0.2366" stop-color="#87216b"/><stop offset="0.2512" stop-color="#721a6e"/><stop offset="0.2707" stop-color="#4f0d6c"/><stop offset="0.2951" stop-color="#320a5e"/><stop offset="0.3244" stop-color="#240c4f"/><stop offset="0.3439" stop-color="#1f0c48"/><stop offset="0.3780" stop-color="#1e0c45"/><stop offset="0.4122" stop-color="#240c4f"/><stop offset="0.4317" stop-color="#2d0b59"/><stop offset="0.4463" stop-color="#390963"/><stop offset="0.4610" stop-color="#4f0d6c"/><stop offset="0.4707" stop-color="#65156e"/><stop offset="0.4805" stop-color="#84206b"/><stop offset="0.4902" stop-color="#a82e5f"/><stop offset="0.4951" stop-color="#b73557"/><stop offset="0.5000" stop-color="#c13a50"/><stop offset="0.5098" stop-color="#ca404a"/><stop offset="0.5195" stop-color="#c13a50"/><stop offset="0.5293" stop-color="#a62d60"/><stop offset="0.5390" stop-color="#84206b"/><stop offset="0.5537" stop-color="#59106e"/><stop offset="0.5683" stop-color="#400a67"/><stop offset="0.5927" stop-color="#2b0b57"/><stop offset="0.6073" stop-color="#240c4f"/><stop offset="0.6415" stop-color="#1f0c48"/><stop offset="0.6756" stop-color="#1f0c48"/><stop offset="0.7146" stop-color="#290b55"/><stop offset="0.7439" stop-color="#390963"/><stop offset="0.7732" stop-color="#57106e"/><stop offset="0.7927" stop-color="#771c6d"/><stop offset="0.8073" stop-color="#972766"/><stop offset="0.8220" stop-color="#bd3853"/><stop offset="0.8317" stop-color="#d94d3d"/><stop offset="0.8366" stop-color="#e65d2f"/><stop offset="0.8415" stop-color="#f1731d"/><stop offset="0.8463" stop-color="#f98c0a"/><stop offset="0.8512" stop-color="#fcaa0f"/><stop offset="0.8561" stop-color="#f8cf3a"/><stop offset="0.8610" stop-color="#f3f586"/><stop offset="0.8659" stop-color="#fcffa4"/><stop offset="0.9976" stop-color="#fcffa4"/></linearGradient>
<linearGradient id="h15" x1="0" y1="0" x2="0" y2="1"><stop offset="0.0024" stop-color="#d34743"/><stop offset="0.0171" stop-color="#eb6628"/><stop offset="0.0220" stop-color="#f1711f"/><stop offset="0.0268" stop-color="#f3761b"/><stop offset="0.0317" stop-color="#f1731d"/><stop offset="0.0463" stop-color="#e8602d"/><stop offset="0.0561" stop-color="#ea632a"/><stop offset="0.0707" stop-color="#f37819"/><stop offset="0.0756" stop-color="#f37819"/><stop offset="0.0902" stop-color="#ea632a"/><stop offset="0.1000" stop-color="#e25734"/><stop offset="0.1146" stop-color="#e05536"/><stop offset="0.1293" stop-color="#e15635"/><stop offset="0.1390" stop-color="#db503b"/><stop offset="0.1488" stop-color="#ce4347"/><stop offset="0.1634" stop-color="#ad305d"/><stop offset="0.1780" stop-color="#922568"/><stop offset="0.1878" stop-color="#88226a"/><stop offset="0.2024" stop-color="#85216b"/><stop offset="0.2220" stop-color="#8c2369"/><stop offset="0.2317" stop-color="#88226a"/><stop offset="0.2415" stop-color="#7c1d6d"/><stop offset="0.2659" stop-color="#510e6c"/><stop offset="0.2902" stop-color="#340a5f"/><stop offset="0.3098" stop-color="#280b53"/><stop offset="0.3439" stop-color="#1e0c45"/><stop offset="0.3878" stop-color="#1e0c45"/><stop offset="0.4220" stop-color="#260c51"/><stop offset="0.4463" stop-color="#380962"/><stop offset="0.4610" stop-color="#4c0c6b"/><stop offset="0.4707" stop-color="#61136e"/><stop offset="0.4805" stop-color="#7f1e6c"/><stop offset="0.4902" stop-color="#a52c60"/><stop offset="0.4951" stop-color="#ba3655"/><stop offset="0.5000" stop-color="#ca404a"/><stop offset="0.5049" stop-color="#d44842"/><stop offset="0.5098" stop-color="#d84c3e"/><stop offset="0.5146" stop-color="#d44842"/><stop offset="0.5195" stop-color="#ca404a"/><stop offset="0.5341" stop-color="#922568"/><stop offset="0.5439" stop-color="#6f196e"/><stop offset="0.5537" stop-color="#550f6d"/><stop offset="0.5683" stop-color="#3e0966"/><stop offset="0.5878" stop-color="#2d0b59"/><stop offset="0.6171" stop-color="#210c4a"/><stop offset="0.6610" stop-color="#1e0c45"/><stop offset="0.7049" stop-color="#240c4f"/><stop offset="0.7341" stop-color="#310a5c"/><stop offset="0.7634" stop-color="#490b6a"/><stop offset="0.7829" stop-color="#62146e"/><stop offset="0.7976" stop-color="#7a1d6d"/><stop offset="0.8122" stop-color="#9a2865"/><stop offset="0.8268" stop-color="#c03a51"/><stop offset="0.8366" stop-color="#da4e3c"/><stop offset="0.8415" stop-color="#e65d2f"/><stop offset="0.8463" stop-color="#f1711f"/><stop offset="0.8512" stop-color="#f8890c"/><stop offset="0.8561" stop-color="#fca50a"/><stop offset="0.8610" stop-color="#fac62d"/><stop offset="0.8659" stop-color="#f2ea69"/><stop offset="0.8707" stop-color="#fcffa4"/><stop offset="0.9976" stop-color="#fcffa4"/></linearGradient>
<linearGradient id="h16" x1="0" y1="0" x2="0" y2="1"><stop offset="0.0024" stop-color="#cc4248"/><stop offset="0.0171" stop-color="#e75e2e"/><stop offset="0.0220" stop-color="#ec6726"/><stop offset="0.0268" stop-color="#ee6a24"/><stop offset="0.0415" stop-color="#e35933"/><stop offset="0.0512" stop-color="#e25734"/><stop offset="0.0659" stop-color="#ee6a24"/><stop offset="0.0756" stop-color="#ee6a24"/><stop offset="0.0902" stop-color="#de5238"/><stop offset="0.1000" stop-color="#d74b3f"/><stop offset="0.1195" stop-color="#d84c3e"/><stop offset="0.1341" stop-color="#d74b3f"/><stop offset="0.1439" stop-color="#cc4248"/><stop offset="0.1634" stop-color="#a62d60"/><stop offset="0.1780" stop-color="#8f2469"/><stop offset="0.1878" stop-color="#87216b"/><stop offset="0.2024" stop-color="#87216b"/><stop offset="0.2171" stop-color="#8c2369"/><stop offset="0.2268" stop-color="#8a226a"/><stop offset="0.2415" stop-color="#771c6d"/><stop offset="0.2659" stop-color="#4c0c6b"/><stop offset="0.2854" stop-color="#340a5f"/><stop offset="0.3049" stop-color="#280b53"/><stop offset="0.3390" stop-color="#1e0c45"/><stop offset="0.3732" stop-color="#1c0c43"/><stop offset="0.3976" stop-color="#1f0c48"/><stop offset="0.4220" stop-color="#260c51"/><stop offset="0.4463" stop-color="#380962"/><stop offset="0.4610" stop-color="#4d0d6c"/><stop offset="0.4707" stop-color="#64156e"/><stop offset="0.4805" stop-color="#82206c"/><stop offset="0.4902" stop-color="#a82e5f"/><stop offset="0.4951" stop-color="#ba3655"/><stop offset="0.5000" stop-color="#c73e4c"/><stop offset="0.5049" stop-color="#ce4347"/><stop offset="0.5098" stop-color="#d04545"/><stop offset="0.5146" stop-color="#ce4347"/><stop offset="0.5195" stop-color="#c73e4c"/><stop offset="0.5293" stop-color="#a92e5e"/><stop offset="0.5390" stop-color="#84206b"/><stop offset="0.5537" stop-color="#59106e"/><stop offset="0.5683" stop-color="#400a67"/><stop offset="0.5829" stop-color="#310a5c"/><stop offset="0.6024" stop-color="#240c4f"/><stop offset="0.6268" stop-color="#1f0c48"/><stop offset="0.6756" stop-color="#1e0c45"/><stop offset="0.7098" stop-color="#240c4f"/><stop offset="0.7390" stop-color="#310a5c"/><stop offset="0.7683" stop-color="#490b6a"/><stop offset="0.7927" stop-color="#69166e"/><stop offset="0.8171" stop-color="#972766"/><stop offset="0.8317" stop-color="#b73557"/><stop offset="0.8463" stop-color="#da4e3c"/><stop offset="0.8512" stop-color="#e45a31"/><stop offset="0.8610" stop-color="#f57d15"/><stop offset="0.8659" stop-color="#fa9207"/><stop offset="0.8707" stop-color="#fcaa0f"/><stop offset="0.8756" stop-color="#fac62d"/><stop offset="0.8805" stop-color="#f3e35a"/><stop offset="0.8854" stop-color="#f8fb9a"/><stop offset="0.8902" stop-color="#fcffa4"/><stop offset="0.9976" stop-color="#fcffa4"/></linearGradient>
<linearGradient id="h17" x1="0" y1="0" x2="0" y2="1"><stop offset="0.0024" stop-color="#c63d4d"/><stop offset="0.0171" stop-color="#e25734"/><stop offset="0.0220" stop-color="#e75e2e"/><stop offset="0.0268" stop-color="#e8602d"/><stop offset="0.0415" stop-color="#db503b"/><stop offset="0.0512" stop-color="#de5238"/><stop offset="0.0659" stop-color="#e9612b"/><stop offset="0.0707" stop-color="#e8602d"/><stop offset="0.0854" stop-color="#d74b3f"/><stop offset="0.0951" stop-color="#cc4248"/><stop offset="0.1098" stop-color="#cb4149"/><stop offset="0.1293" stop-color="#d04545"/><stop offset="0.1439" stop-color="#c43c4e"/><stop offset="0.1634" stop-color="#9f2a63"/><stop offset="0.1780" stop-color="#8c2369"/><stop offset="0.1927" stop-color="#87216b"/><stop offset="0.2171" stop-color="#8d2369"/><stop offset="0.2268" stop-color="#87216b"/><stop offset="0.2415" stop-color="#6f196e"/><stop offset="0.2659" stop-color="#470b6a"/><stop offset="0.2854" stop-color="#320a5e"/><stop offset="0.3049" stop-color="#260c51"/><stop offset="0.3341" stop-color="#1e0c45"/><stop offset="0.3780" stop-color="#1c0c43"/><stop offset="0.4171" stop-color="#240c4f"/><stop offset="0.4415" stop-color="#360961"/><stop offset="0.4561" stop-color="#4c0c6b"/><stop offset="0.4659" stop-color="#61136e"/><stop offset="0.4805" stop-color="#8f2469"/><stop offset="0.4902" stop-color="#ab2f5e"/><stop offset="0.4951" stop-color="#b3325a"/><stop offset="0.5049" stop-color="#b63458"/><stop offset="0.5195" stop-color="#b63458"/><stop offset="0.5293" stop-color="#ad305d"/><stop offset="0.5390" stop-color="#902568"/><stop offset="0.5537" stop-color="#62146e"/><stop offset="0.5683" stop-color="#450a69"/><stop offset="0.5780" stop-color="#380962"/><stop offset="0.6024" stop-color="#260c51"/><stop offset="0.6268" stop-color="#1f0c48"/><stop offset="0.6805" stop-color="#1e0c45"/><stop offset="0.7195" stop-color="#260c51"/><stop offset="0.7488" stop-color="#360961"/><stop offset="0.7732" stop-color="#4c0c6b"/><stop offset="0.7976" stop-color="#6c186e"/><stop offset="0.8220" stop-color="#972766"/><stop offset="0.8415" stop-color="#bf3952"/><stop offset="0.8561" stop-color="#da4e3c"/><stop offset="0.8707" stop-color="#f06f20"/><stop offset="0.8805" stop-color="#f98b0b"/><stop offset="0.8854" stop-color="#fb9706"/><stop offset="0.8951" stop-color="#fcaa0f"/><stop offset="0.9146" stop-color="#f9cb35"/><stop offset="0.9293" stop-color="#f4e156"/><stop offset="0.9439" stop-color="#f1ec6d"/><stop offset="0.9488" stop-color="#f1f179"/><stop offset="0.9585" stop-color="#f3f68a"/><stop offset="0.9634" stop-color="#f6fa96"/><stop offset="0.9732" stop-color="#fcffa4"/><stop offset="0.9976" stop-color="#fcffa4"/></linearGradient>
<linearGradient id="h18" x1="0" y1="0" x2="0" y2="1"><stop offset="0.0024" stop-color="#bf3952"/><stop offset="0.0171" stop-color="#dd513a"/><stop offset="0.0220" stop-color="#e15635"/><stop offset="0.0317" stop-color="#db503b"/><stop offset="0.0415" stop-color="#d44842"/><stop offset="0.0512" stop-color="#d84c3e"/><stop offset="0.0610" stop-color="#e15635"/><stop offset="0.0659" stop-color="#e25734"/><stop offset="0.0756" stop-color="#d84c3e"/><stop offset="0.0902" stop-color="#c33b4f"/><stop offset="0.1049" stop-color="#bf3952"/><stop offset="0.1244" stop-color="#c73e4c"/><stop offset="0.1341" stop-color="#c63d4d"/><stop offset="0.1439" stop-color="#ba3655"/><stop offset="0.1683" stop-color="#922568"/><stop offset="0.1829" stop-color="#88226a"/><stop offset="0.2122" stop-color="#8d2369"/><stop offset="0.2220" stop-color="#88226a"/><stop offset="0.2415" stop-color="#69166e"/><stop offset="0.2610" stop-color="#490b6a"/><stop offset="0.2707" stop-color="#3b0964"/><stop offset="0.3000" stop-color="#260c51"/><stop offset="0.3293" stop-color="#1e0c45"/><stop offset="0.3780" stop-color="#1c0c43"/><stop offset="0.4122" stop-color="#240c4f"/><stop offset="0.4366" stop-color="#360961"/><stop offset="0.4463" stop-color="#440a68"/><stop offset="0.4610" stop-color="#64156e"/><stop offset="0.4756" stop-color="#8f2469"/><stop offset="0.4805" stop-color="#9b2964"/><stop offset="0.4902" stop-color="#a22b62"/><stop offset="0.5049" stop-color="#932667"/><stop offset="0.5146" stop-color="#932667"/><stop offset="0.5293" stop-color="#a22b62"/><stop offset="0.5341" stop-color="#a22b62"/><stop offset="0.5390" stop-color="#9b2964"/><stop offset="0.5488" stop-color="#82206c"/><stop offset="0.5634" stop-color="#59106e"/><stop offset="0.5732" stop-color="#450a69"/><stop offset="0.5878" stop-color="#320a5e"/><stop offset="0.6073" stop-color="#260c51"/><stop offset="0.6366" stop-color="#1e0c45"/><stop offset="0.6805" stop-color="#1e0c45"/><stop offset="0.7146" stop-color="#240c4f"/><stop offset="0.7390" stop-color="#2f0a5b"/><stop offset="0.7634" stop-color="#400a67"/><stop offset="0.7878" stop-color="#5c126e"/><stop offset="0.8122" stop-color="#82206c"/><stop offset="0.8317" stop-color="#a62d60"/><stop offset="0.8512" stop-color="#ca404a"/><stop offset="0.8707" stop-color="#e75e2e"/><stop offset="0.8854" stop-color="#f3761b"/><stop offset="0.9390" stop-color="#fb9606"/><stop offset="0.9537" stop-color="#fca309"/><stop offset="0.9683" stop-color="#fcb216"/><stop offset="0.9878" stop-color="#fac62d"/><stop offset="0.9976" stop-color="#f9cb35"/></linearGradient>
<linearGradient id="h19" x1="0" y1="0" x2="0" y2="1"><stop offset="0.0024" stop-color="#b73557"/><stop offset="0.0171" stop-color="#d74b3f"/><stop offset="0.0268" stop-color="#d84c3e"/><stop offset="0.0366" stop-color="#ce4347"/><stop offset="0.0463" stop-color="#cf4446"/><stop offset="0.0610" stop-color="#da4e3c"/><stop offset="0.0707" stop-color="#d24644"/><stop offset="0.0805" stop-color="#c03a51"/><stop offset="0.0951" stop-color="#b3325a"/><stop offset="0.1049" stop-color="#b3325a"/><stop offset="0.1244" stop-color="#bd3853"/><stop offset="0.1341" stop-color="#bc3754"/><stop offset="0.1488" stop-color="#a92e5e"/><stop offset="0.1683" stop-color="#8f2469"/><stop offset="0.1829" stop-color="#88226a"/><stop offset="0.2073" stop-color="#8f2469"/><stop offset="0.2171" stop-color="#88226a"/><stop offset="0.2268" stop-color="#7c1d6d"/><stop offset="0.2512" stop-color="#510e6c"/><stop offset="0.2659" stop-color="#3d0965"/><stop offset="0.2854" stop-color="#2b0b57"/><stop offset="0.3146" stop-color="#1f0c48"/><stop offset="0.3537" stop-color="#1c0c43"/><stop offset="0.3829" stop-color="#1e0c45"/><stop offset="0.4073" stop-color="#240c4f"/><stop offset="0.4268" stop-color="#320a5e"/><stop offset="0.4415" stop-color="#490b6a"/><stop offset="0.4561" stop-color="#6a176e"/><stop offset="0.4659" stop-color="#87216b"/><stop offset="0.4707" stop-color="#922568"/><stop offset="0.4756" stop-color="#982766"/><stop offset="0.4854" stop-color="#922568"/><stop offset="0.5000" stop-color="#771c6d"/><stop offset="0.5098" stop-color="#71196e"/><stop offset="0.5195" stop-color="#771c6d"/><stop offset="0.5390" stop-color="#972766"/><stop offset="0.5439" stop-color="#982766"/><stop offset="0.5488" stop-color="#932667"/><stop offset="0.5585" stop-color="#7a1d6d"/><stop offset="0.5732" stop-color="#540f6d"/><stop offset="0.5878" stop-color="#3b0964"/><stop offset="0.6024" stop-color="#2b0b57"/><stop offset="0.6317" stop-color="#1f0c48"/><stop offset="0.6805" stop-color="#1e0c45"/><stop offset="0.7146" stop-color="#240c4f"/><stop offset="0.7439" stop-color="#310a5c"/><stop offset="0.7732" stop-color="#4a0c6b"/><stop offset="0.8024" stop-color="#71196e"/><stop offset="0.8268" stop-color="#9b2964"/><stop offset="0.8463" stop-color="#bf3952"/><stop offset="0.8659" stop-color="#dd513a"/><stop offset="0.8805" stop-color="#eb6429"/><stop offset="0.8902" stop-color="#ee6a24"/><stop offset="0.9293" stop-color="#f37819"/><stop offset="0.9537" stop-color="#f98b0b"/><stop offset="0.9683" stop-color="#fb9b06"/><stop offset="0.9829" stop-color="#fcac11"/><stop offset="0.9976" stop-color="#fbba1f"/></linearGradient>
<linearGradient id="h20" x1="0" y1="0" x2="0" y2="1"><stop offset="0.0024" stop-color="#b1325a"/><stop offset="0.0171" stop-color="#cf4446"/><stop offset="0.0220" stop-color="#d24644"/><stop offset="0.0366" stop-color="#c63d4d"/><stop offset="0.0463" stop-color="#c83f4b"/><stop offset="0.0561" stop-color="#d04545"/><stop offset="0.0610" stop-color="#d04545"/><stop offset="0.0707" stop-color="#c33b4f"/><stop offset="0.0805" stop-color="#b1325a"/><stop offset="0.0902" stop-color="#a82e5f"/><stop offset="0.1049" stop-color="#a82e5f"/><stop offset="0.1244" stop-color="#b43359"/><stop offset="0.1341" stop-color="#b3325a"/><stop offset="0.1439" stop-color="#a92e5e"/><stop offset="0.1634" stop-color="#902568"/><stop offset="0.1732" stop-color="#8a226a"/><stop offset="0.2024" stop-color="#8f2469"/><stop offset="0.2122" stop-color="#8a226a"/><stop offset="0.2220" stop-color="#7d1e6d"/><stop offset="0.2463" stop-color="#510e6c"/><stop offset="0.2659" stop-color="#380962"/><stop offset="0.2951" stop-color="#240c4f"/><stop offset="0.3244" stop-color="#1e0c45"/><stop offset="0.3683" stop-color="#1c0c43"/><stop offset="0.3927" stop-color="#210c4a"/><stop offset="0.4220" stop-color="#360961"/><stop offset="0.4366" stop-color="#4f0d6c"/><stop offset="0.4415" stop-color="#59106e"/><stop offset="0.4561" stop-color="#82206c"/><stop offset="0.4610" stop-color="#8d2369"/><stop offset="0.4659" stop-color="#932667"/><stop offset="0.4707" stop-color="#922568"/><stop offset="0.4756" stop-color="#8c2369"/><stop offset="0.4902" stop-color="#6a176e"/><stop offset="0.5049" stop-color="#57106e"/><stop offset="0.5146" stop-color="#57106e"/><stop offset="0.5293" stop-color="#6a176e"/><stop offset="0.5439" stop-color="#8c2369"/><stop offset="0.5488" stop-color="#922568"/><stop offset="0.5537" stop-color="#932667"/><stop offset="0.5585" stop-color="#8d2369"/><stop offset="0.5732" stop-color="#67166e"/><stop offset="0.5829" stop-color="#4f0d6c"/><stop offset="0.5976" stop-color="#380962"/><stop offset="0.6122" stop-color="#290b55"/><stop offset="0.6317" stop-color="#210c4a"/><stop offset="0.6707" stop-color="#1e0c45"/><stop offset="0.7146" stop-color="#240c4f"/><stop offset="0.7439" stop-color="#310a5c"/><stop offset="0.7732" stop-color="#4a0c6b"/><stop offset="0.8024" stop-color="#71196e"/><stop offset="0.8268" stop-color="#9a2865"/><stop offset="0.8561" stop-color="#cb4149"/><stop offset="0.8707" stop-color="#de5238"/><stop offset="0.8854" stop-color="#e8602d"/><stop offset="0.9146" stop-color="#eb6628"/><stop offset="0.9390" stop-color="#f1731d"/><stop offset="0.9634" stop-color="#f98b0b"/><stop offset="0.9732" stop-color="#fb9706"/><stop offset="0.9829" stop-color="#fca50a"/><stop offset="0.9976" stop-color="#fcb216"/></linearGradient>
<linearGradient id="h21" x1="0" y1="0" x2="0" y2="1"><stop offset="0.0024" stop-color="#ab2f5e"/><stop offset="0.0122" stop-color="#c13a50"/><stop offset="0.0171" stop-color="#c83f4b"/><stop offset="0.0220" stop-color="#c83f4b"/><stop offset="0.0366" stop-color="#bf3952"/><stop offset="0.0415" stop-color="#bf3952"/><stop offset="0.0561" stop-color="#c83f4b"/><stop offset="0.0610" stop-color="#c43c4e"/><stop offset="0.0756" stop-color="#a92e5e"/><stop offset="0.0902" stop-color="#9b2964"/><stop offset="0.1000" stop-color="#9b2964"/><stop offset="0.1244" stop-color="#ab2f5e"/><stop offset="0.1390" stop-color="#a62d60"/><stop offset="0.1585" stop-color="#902568"/><stop offset="0.1732" stop-color="#8a226a"/><stop offset="0.1976" stop-color="#902568"/><stop offset="0.2073" stop-color="#8c2369"/><stop offset="0.2171" stop-color="#7f1e6c"/><stop offset="0.2415" stop-color="#520e6d"/><stop offset="0.2561" stop-color="#3e0966"/><stop offset="0.2756" stop-color="#2d0b59"/><stop offset="0.2951" stop-color="#230c4c"/><stop offset="0.3341" stop-color="#1c0c43"/><stop offset="0.3683" stop-color="#1e0c45"/><stop offset="0.3927" stop-color="#240c4f"/><stop offset="0.4122" stop-color="#340a5f"/><stop offset="0.4220" stop-color="#420a68"/><stop offset="0.4366" stop-color="#64156e"/><stop offset="0.4512" stop-color="#8a226a"/><stop offset="0.4561" stop-color="#902568"/><stop offset="0.4610" stop-color="#902568"/><stop offset="0.4707" stop-color="#7d1e6d"/><stop offset="0.4854" stop-color="#5a116e"/><stop offset="0.4951" stop-color="#4a0c6b"/><stop offset="0.5098" stop-color="#420a68"/><stop offset="0.5244" stop-color="#4a0c6b"/><stop offset="0.5341" stop-color="#5a116e"/><stop offset="0.5488" stop-color="#7f1e6c"/><stop offset="0.5537" stop-color="#8a226a"/><stop offset="0.5585" stop-color="#902568"/><stop offset="0.5634" stop-color="#902568"/><stop offset="0.5683" stop-color="#8a226a"/><stop offset="0.5829" stop-color="#64156e"/><stop offset="0.5927" stop-color="#4c0c6b"/><stop offset="0.6024" stop-color="#3b0964"/><stop offset="0.6220" stop-color="#290b55"/><stop offset="0.6415" stop-color="#210c4a"/><stop offset="0.6902" stop-color="#1f0c48"/><stop offset="0.7293" stop-color="#290b55"/><stop offset="0.7585" stop-color="#3b0964"/><stop offset="0.7878" stop-color="#5c126e"/><stop offset="0.8171" stop-color="#87216b"/><stop offset="0.8415" stop-color="#b1325a"/><stop offset="0.8610" stop-color="#cf4446"/><stop offset="0.8805" stop-color="#e15635"/><stop offset="0.9293" stop-color="#eb6429"/><stop offset="0.9537" stop-color="#f37819"/><stop offset="0.9732" stop-color="#fa9008"/><stop offset="0.9829" stop-color="#fc9f07"/><stop offset="0.9976" stop-color="#fcae12"/></linearGradient>
<linearGradient id="h22" x1="0" y1="0" x2="0" y2="1"><stop offset="0.0024" stop-color="#a62d60"/><stop offset="0.0122" stop-color="#ba3655"/><stop offset="0.0171" stop-color="#c03a51"/><stop offset="0.0220" stop-color="#c03a51"/><stop offset="0.0317" stop-color="#b73557"/><stop offset="0.0415" stop-color="#b93556"/><stop offset="0.0512" stop-color="#bf3952"/><stop offset="0.0561" stop-color="#bd3853"/><stop offset="0.0756" stop-color="#9b2964"/><stop offset="0.0854" stop-color="#922568"/><stop offset="0.1000" stop-color="#922568"/><stop offset="0.1244" stop-color="#a22b62"/><stop offset="0.1341" stop-color="#a22b62"/><stop offset="0.1634" stop-color="#8c2369"/><stop offset="0.1927" stop-color="#902568"/><stop offset="0.2073" stop-color="#87216b"/><stop offset="0.2317" stop-color="#5c126e"/><stop offset="0.2512" stop-color="#3e0966"/><stop offset="0.2707" stop-color="#2d0b59"/><stop offset="0.3049" stop-color="#1f0c48"/><stop offset="0.3439" stop-color="#1c0c43"/><stop offset="0.3683" stop-color="#1f0c48"/><stop offset="0.3927" stop-color="#290b55"/><stop offset="0.4073" stop-color="#390963"/><stop offset="0.4220" stop-color="#550f6d"/><stop offset="0.4317" stop-color="#6f196e"/><stop offset="0.4415" stop-color="#88226a"/><stop offset="0.4463" stop-color="#8f2469"/><stop offset="0.4512" stop-color="#8f2469"/><stop offset="0.4561" stop-color="#88226a"/><stop offset="0.4707" stop-color="#62146e"/><stop offset="0.4805" stop-color="#4c0c6b"/><stop offset="0.4902" stop-color="#3e0966"/><stop offset="0.5049" stop-color="#340a5f"/><stop offset="0.5195" stop-color="#360961"/><stop offset="0.5341" stop-color="#450a69"/><stop offset="0.5439" stop-color="#57106e"/><stop offset="0.5585" stop-color="#7f1e6c"/><stop offset="0.5634" stop-color="#8a226a"/><stop offset="0.5683" stop-color="#8f2469"/><stop offset="0.5732" stop-color="#8f2469"/><stop offset="0.5829" stop-color="#7c1d6d"/><stop offset="0.5976" stop-color="#540f6d"/><stop offset="0.6122" stop-color="#390963"/><stop offset="0.6317" stop-color="#280b53"/><stop offset="0.6561" stop-color="#210c4a"/><stop offset="0.6854" stop-color="#1f0c48"/><stop offset="0.7195" stop-color="#260c51"/><stop offset="0.7488" stop-color="#340a5f"/><stop offset="0.7732" stop-color="#4a0c6b"/><stop offset="0.7976" stop-color="#67166e"/><stop offset="0.8220" stop-color="#8f2469"/><stop offset="0.8512" stop-color="#bd3853"/><stop offset="0.8707" stop-color="#d44842"/><stop offset="0.8854" stop-color="#de5238"/><stop offset="0.9244" stop-color="#e45a31"/><stop offset="0.9439" stop-color="#ec6726"/><stop offset="0.9634" stop-color="#f57d15"/><stop offset="0.9780" stop-color="#fa9207"/><stop offset="0.9878" stop-color="#fc9f07"/><stop offset="0.9976" stop-color="#fcaa0f"/></linearGradient>
<linearGradient id="h23" x1="0" y1="0" x2="0" y2="1"><stop offset="0.0024" stop-color="#a02a63"/><stop offset="0.0122" stop-color="#b43359"/><stop offset="0.0171" stop-color="#b93556"/><stop offset="0.0317" stop-color="#b0315b"/><stop offset="0.0415" stop-color="#b3325a"/><stop offset="0.0463" stop-color="#b63458"/><stop offset="0.0561" stop-color="#b0315b"/><stop offset="0.0707" stop-color="#952667"/><stop offset="0.0805" stop-color="#8a226a"/><stop offset="0.0902" stop-color="#87216b"/><stop offset="0.1098" stop-color="#902568"/><stop offset="0.1244" stop-color="#9a2865"/><stop offset="0.1341" stop-color="#9a2865"/><stop offset="0.1634" stop-color="#8c2369"/><stop offset="0.1927" stop-color="#902568"/><stop offset="0.2024" stop-color="#87216b"/><stop offset="0.2122" stop-color="#771c6d"/><stop offset="0.2366" stop-color="#4c0c6b"/><stop offset="0.2610" stop-color="#320a5e"/><stop offset="0.2805" stop-color="#260c51"/><stop offset="0.3098" stop-color="#1e0c45"/><stop offset="0.3537" stop-color="#1e0c45"/><stop offset="0.3829" stop-color="#290b55"/><stop offset="0.3976" stop-color="#390963"/><stop offset="0.4073" stop-color="#490b6a"/><stop offset="0.4220" stop-color="#6d186e"/><stop offset="0.4317" stop-color="#87216b"/><stop offset="0.4366" stop-color="#8d2369"/><stop offset="0.4415" stop-color="#8d2369"/><stop offset="0.4463" stop-color="#87216b"/><stop offset="0.4610" stop-color="#5f136e"/><stop offset="0.4756" stop-color="#400a67"/><stop offset="0.4854" stop-color="#320a5e"/><stop offset="0.5049" stop-color="#280b53"/><stop offset="0.5244" stop-color="#2b0b57"/><stop offset="0.5390" stop-color="#3b0964"/><stop offset="0.5488" stop-color="#4c0c6b"/><stop offset="0.5537" stop-color="#550f6d"/><stop offset="0.5683" stop-color="#7f1e6c"/><stop offset="0.5732" stop-color="#8a226a"/><stop offset="0.5780" stop-color="#8f2469"/><stop offset="0.5829" stop-color="#8d2369"/><stop offset="0.5878" stop-color="#85216b"/><stop offset="0.6024" stop-color="#5d126e"/><stop offset="0.6171" stop-color="#400a67"/><stop offset="0.6268" stop-color="#320a5e"/><stop offset="0.6463" stop-color="#260c51"/><stop offset="0.6707" stop-color="#210c4a"/><stop offset="0.7049" stop-color="#230c4c"/><stop offset="0.7439" stop-color="#310a5c"/><stop offset="0.7780" stop-color="#4d0d6c"/><stop offset="0.8073" stop-color="#751b6e"/><stop offset="0.8317" stop-color="#9b2964"/><stop offset="0.8561" stop-color="#c03a51"/><stop offset="0.8756" stop-color="#d34743"/><stop offset="0.8951" stop-color="#d94d3d"/><stop offset="0.9293" stop-color="#e15635"/><stop offset="0.9488" stop-color="#eb6429"/><stop offset="0.9732" stop-color="#f78410"/><stop offset="0.9829" stop-color="#fa9407"/><stop offset="0.9927" stop-color="#fca108"/><stop offset="0.9976" stop-color="#fca60c"/></linearGradient>
<linearGradient id="h24" x1="0" y1="0" x2="0" y2="1"><stop offset="0.0024" stop-color="#9b2964"/><stop offset="0.0122" stop-color="#ae305c"/><stop offset="0.0220" stop-color="#ae305c"/><stop offset="0.0317" stop-color="#a82e5f"/><stop offset="0.0463" stop-color="#ad305d"/><stop offset="0.0561" stop-color="#a02a63"/><stop offset="0.0707" stop-color="#88226a"/><stop offset="0.0854" stop-color="#7f1e6c"/><stop offset="0.1049" stop-color="#85216b"/><stop offset="0.1293" stop-color="#952667"/><stop offset="0.1585" stop-color="#8c2369"/><stop offset="0.1829" stop-color="#922568"/><stop offset="0.1976" stop-color="#88226a"/><stop offset="0.2220" stop-color="#5d126e"/><stop offset="0.2317" stop-color="#4d0d6c"/><stop offset="0.2512" stop-color="#360961"/><stop offset="0.2805" stop-color="#240c4f"/><stop offset="0.3146" stop-color="#1e0c45"/><stop offset="0.3488" stop-color="#1f0c48"/><stop offset="0.3732" stop-color="#290b55"/><stop offset="0.3878" stop-color="#380962"/><stop offset="0.4024" stop-color="#520e6d"/><stop offset="0.4171" stop-color="#7a1d6d"/><stop offset="0.4220" stop-color="#87216b"/><stop offset="0.4268" stop-color="#8d2369"/><stop offset="0.4317" stop-color="#8d2369"/><stop offset="0.4415" stop-color="#7a1d6d"/><stop offset="0.4561" stop-color="#510e6c"/><stop offset="0.4659" stop-color="#3d0965"/><stop offset="0.4805" stop-color="#290b55"/><stop offset="0.5000" stop-color="#1f0c48"/><stop offset="0.5195" stop-color="#210c4a"/><stop offset="0.5390" stop-color="#2b0b57"/><stop offset="0.5537" stop-color="#400a67"/><stop offset="0.5683" stop-color="#64156e"/><stop offset="0.5829" stop-color="#8a226a"/><stop offset="0.5878" stop-color="#8f2469"/><stop offset="0.5927" stop-color="#8c2369"/><stop offset="0.6024" stop-color="#751b6e"/><stop offset="0.6171" stop-color="#510e6c"/><stop offset="0.6317" stop-color="#380962"/><stop offset="0.6415" stop-color="#2d0b59"/><stop offset="0.6659" stop-color="#230c4c"/><stop offset="0.6902" stop-color="#210c4a"/><stop offset="0.7341" stop-color="#2b0b57"/><stop offset="0.7683" stop-color="#440a68"/><stop offset="0.7927" stop-color="#5f136e"/><stop offset="0.8220" stop-color="#8a226a"/><stop offset="0.8561" stop-color="#bc3754"/><stop offset="0.8805" stop-color="#d04545"/><stop offset="0.9293" stop-color="#db503b"/><stop offset="0.9488" stop-color="#e65d2f"/><stop offset="0.9732" stop-color="#f67e14"/><stop offset="0.9829" stop-color="#f98e09"/><stop offset="0.9927" stop-color="#fb9d07"/><stop offset="0.9976" stop-color="#fca309"/></linearGradient>
<linearGradient id="h25" x1="0" y1="0" x2="0" y2="1"><stop offset="0.0024" stop-color="#982766"/><stop offset="0.0122" stop-color="#a62d60"/><stop offset="0.0171" stop-color="#a82e5f"/><stop offset="0.0317" stop-color="#a22b62"/><stop offset="0.0415" stop-color="#a52c60"/><stop offset="0.0512" stop-color="#9b2964"/><stop offset="0.0659" stop-color="#82206c"/><stop offset="0.0756" stop-color="#781c6d"/><stop offset="0.0951" stop-color="#781c6d"/><stop offset="0.1244" stop-color="#8d2369"/><stop offset="0.1439" stop-color="#8d2369"/><stop offset="0.1585" stop-color="#8d2369"/><stop offset="0.1780" stop-color="#922568"/><stop offset="0.1927" stop-color="#88226a"/><stop offset="0.2171" stop-color="#5d126e"/><stop offset="0.2366" stop-color="#400a67"/><stop offset="0.2610" stop-color="#2b0b57"/><stop offset="0.2805" stop-color="#230c4c"/><stop offset="0.3146" stop-color="#1e0c45"/><stop offset="0.3390" stop-color="#1f0c48"/><stop offset="0.3634" stop-color="#290b55"/><stop offset="0.3829" stop-color="#3e0966"/><stop offset="0.3976" stop-color="#5f136e"/><stop offset="0.4122" stop-color="#85216b"/><stop offset="0.4171" stop-color="#8c2369"/><stop offset="0.4220" stop-color="#8c2369"/><stop offset="0.4317" stop-color="#781c6d"/><stop offset="0.4463" stop-color="#4f0d6c"/><stop offset="0.4610" stop-color="#320a5e"/><stop offset="0.4805" stop-color="#1f0c48"/><stop offset="0.5049" stop-color="#190c3e"/><stop offset="0.5244" stop-color="#1b0c41"/><stop offset="0.5439" stop-color="#240c4f"/><stop offset="0.5634" stop-color="#400a67"/><stop offset="0.5780" stop-color="#65156e"/><stop offset="0.5878" stop-color="#801f6c"/><stop offset="0.5927" stop-color="#8a226a"/><stop offset="0.5976" stop-color="#8d2369"/><stop offset="0.6024" stop-color="#8a226a"/><stop offset="0.6171" stop-color="#65156e"/><stop offset="0.6268" stop-color="#4d0d6c"/><stop offset="0.6415" stop-color="#360961"/><stop offset="0.6610" stop-color="#280b53"/><stop offset="0.6854" stop-color="#230c4c"/><stop offset="0.7098" stop-color="#240c4f"/><stop offset="0.7439" stop-color="#310a5c"/><stop offset="0.7780" stop-color="#4c0c6b"/><stop offset="0.8073" stop-color="#721a6e"/><stop offset="0.8366" stop-color="#9d2964"/><stop offset="0.8610" stop-color="#bc3754"/><stop offset="0.8805" stop-color="#ca404a"/><stop offset="0.9293" stop-color="#d54a41"/><stop offset="0.9537" stop-color="#e55c30"/><stop offset="0.9732" stop-color="#f37819"/><stop offset="0.9878" stop-color="#fa9008"/><stop offset="0.9976" stop-color="#fc9f07"/></linearGradient>
<linearGradient id="h26" x1="0" y1="0" x2="0" y2="1"><stop offset="0.0024" stop-color="#932667"/><stop offset="0.0122" stop-color="#a02a63"/><stop offset="0.0415" stop-color="#9b2964"/><stop offset="0.0512" stop-color="#8f2469"/><stop offset="0.0659" stop-color="#771c6d"/><stop offset="0.0805" stop-color="#6f196e"/><stop offset="0.1000" stop-color="#751b6e"/><stop offset="0.1244" stop-color="#88226a"/><stop offset="0.1634" stop-color="#902568"/><stop offset="0.1780" stop-color="#922568"/><stop offset="0.1878" stop-color="#88226a"/><stop offset="0.2122" stop-color="#5d126e"/><stop offset="0.2268" stop-color="#470b6a"/><stop offset="0.2512" stop-color="#2f0a5b"/><stop offset="0.2854" stop-color="#210c4a"/><stop offset="0.3293" stop-color="#1f0c48"/><stop offset="0.3537" stop-color="#290b55"/><stop offset="0.3732" stop-color="#3e0966"/><stop offset="0.3878" stop-color="#5f136e"/><stop offset="0.4024" stop-color="#85216b"/><stop offset="0.4073" stop-color="#8c2369"/><stop offset="0.4122" stop-color="#8a226a"/><stop offset="0.4220" stop-color="#771c6d"/><stop offset="0.4366" stop-color="#4d0d6c"/><stop offset="0.4512" stop-color="#310a5c"/><stop offset="0.4659" stop-color="#210c4a"/><stop offset="0.4805" stop-color="#190c3e"/><stop offset="0.5000" stop-color="#150b37"/><stop offset="0.5244" stop-color="#160b39"/><stop offset="0.5488" stop-color="#1f0c48"/><stop offset="0.5634" stop-color="#2f0a5b"/><stop offset="0.5780" stop-color="#4c0c6b"/><stop offset="0.5927" stop-color="#751b6e"/><stop offset="0.5976" stop-color="#82206c"/><stop offset="0.6024" stop-color="#8a226a"/><stop offset="0.6073" stop-color="#8c2369"/><stop offset="0.6122" stop-color="#87216b"/><stop offset="0.6171" stop-color="#7d1e6d"/><stop offset="0.6317" stop-color="#57106e"/><stop offset="0.6463" stop-color="#3b0964"/><stop offset="0.6659" stop-color="#290b55"/><stop offset="0.6902" stop-color="#240c4f"/><stop offset="0.7146" stop-color="#260c51"/><stop offset="0.7439" stop-color="#310a5c"/><stop offset="0.7683" stop-color="#420a68"/><stop offset="0.8024" stop-color="#69166e"/><stop offset="0.8366" stop-color="#982766"/><stop offset="0.8561" stop-color="#b1325a"/><stop offset="0.8756" stop-color="#c13a50"/><stop offset="0.9293" stop-color="#cf4446"/><stop offset="0.9537" stop-color="#e15635"/><stop offset="0.9683" stop-color="#ed6925"/><stop offset="0.9927" stop-color="#fa9407"/><stop offset="0.9976" stop-color="#fb9b06"/></linearGradient>
<linearGradient id="h27" x1="0" y1="0" x2="0" y2="1"><stop offset="0.0024" stop-color="#902568"/><stop offset="0.0122" stop-color="#9b2964"/><stop offset="0.0415" stop-color="#922568"/><stop offset="0.0610" stop-color="#721a6e"/><stop offset="0.0805" stop-color="#69166e"/><stop offset="0.0951" stop-color="#6d186e"/><stop offset="0.1244" stop-color="#85216b"/><stop offset="0.1683" stop-color="#922568"/><stop offset="0.1780" stop-color="#8f2469"/><stop offset="0.2024" stop-color="#67166e"/><stop offset="0.2220" stop-color="#470b6a"/><stop offset="0.2463" stop-color="#310a5c"/><stop offset="0.2659" stop-color="#260c51"/><stop offset="0.3000" stop-color="#1f0c48"/><stop offset="0.3244" stop-color="#210c4a"/><stop offset="0.3439" stop-color="#290b55"/><stop offset="0.3634" stop-color="#3e0966"/><stop offset="0.3780" stop-color="#5f136e"/><stop offset="0.3878" stop-color="#7a1d6d"/><stop offset="0.3976" stop-color="#8a226a"/><stop offset="0.4024" stop-color="#88226a"/><stop offset="0.4122" stop-color="#751b6e"/><stop offset="0.4268" stop-color="#4c0c6b"/><stop offset="0.4415" stop-color="#2f0a5b"/><stop offset="0.4561" stop-color="#1f0c48"/><stop offset="0.4756" stop-color="#150b37"/><stop offset="0.5049" stop-color="#110a30"/><stop offset="0.5341" stop-color="#140b34"/><stop offset="0.5585" stop-color="#1f0c48"/><stop offset="0.5732" stop-color="#2f0a5b"/><stop offset="0.5878" stop-color="#4d0d6c"/><stop offset="0.6024" stop-color="#771c6d"/><stop offset="0.6073" stop-color="#84206b"/><stop offset="0.6122" stop-color="#8a226a"/><stop offset="0.6171" stop-color="#8c2369"/><stop offset="0.6220" stop-color="#85216b"/><stop offset="0.6366" stop-color="#5f136e"/><stop offset="0.6512" stop-color="#420a68"/><stop offset="0.6610" stop-color="#340a5f"/><stop offset="0.6805" stop-color="#280b53"/><stop offset="0.7146" stop-color="#260c51"/><stop offset="0.7488" stop-color="#320a5e"/><stop offset="0.7829" stop-color="#4f0d6c"/><stop offset="0.8171" stop-color="#7a1d6d"/><stop offset="0.8512" stop-color="#a62d60"/><stop offset="0.8756" stop-color="#ba3655"/><stop offset="0.8951" stop-color="#c03a51"/><stop offset="0.9195" stop-color="#c43c4e"/><stop offset="0.9439" stop-color="#d34743"/><stop offset="0.9634" stop-color="#e55c30"/><stop offset="0.9829" stop-color="#f57d15"/><stop offset="0.9927" stop-color="#f98e09"/><stop offset="0.9976" stop-color="#fb9606"/></linearGradient>
<linearGradient id="h28" x1="0" y1="0" x2="0" y2="1"><stop offset="0.0024" stop-color="#8d2369"/><stop offset="0.0073" stop-color="#932667"/><stop offset="0.0171" stop-color="#932667"/><stop offset="0.0366" stop-color="#8d2369"/><stop offset="0.0561" stop-color="#6f196e"/><stop offset="0.0707" stop-color="#64156e"/><stop offset="0.0902" stop-color="#65156e"/><stop offset="0.1146" stop-color="#7a1d6d"/><stop offset="0.1390" stop-color="#8a226a"/><stop offset="0.1634" stop-color="#922568"/><stop offset="0.1683" stop-color="#922568"/><stop offset="0.1780" stop-color="#88226a"/><stop offset="0.2024" stop-color="#5d126e"/><stop offset="0.2171" stop-color="#470b6a"/><stop offset="0.2415" stop-color="#310a5c"/><stop offset="0.2659" stop-color="#240c4f"/><stop offset="0.2902" stop-color="#210c4a"/><stop offset="0.3195" stop-color="#230c4c"/><stop offset="0.3390" stop-color="#2d0b59"/><stop offset="0.3537" stop-color="#3e0966"/><stop offset="0.3683" stop-color="#5f136e"/><stop offset="0.3829" stop-color="#84206b"/><stop offset="0.3878" stop-color="#88226a"/><stop offset="0.3927" stop-color="#87216b"/><stop offset="0.3976" stop-color="#7f1e6c"/><stop offset="0.4122" stop-color="#550f6d"/><stop offset="0.4220" stop-color="#3e0966"/><stop offset="0.4317" stop-color="#2d0b59"/><stop offset="0.4463" stop-color="#1e0c45"/><stop offset="0.4659" stop-color="#140b34"/><stop offset="0.4951" stop-color="#0e092b"/><stop offset="0.5293" stop-color="#10092d"/><stop offset="0.5537" stop-color="#160b39"/><stop offset="0.5634" stop-color="#1b0c41"/><stop offset="0.5780" stop-color="#290b55"/><stop offset="0.5927" stop-color="#440a68"/><stop offset="0.6073" stop-color="#6a176e"/><stop offset="0.6171" stop-color="#84206b"/><stop offset="0.6220" stop-color="#8a226a"/><stop offset="0.6268" stop-color="#8a226a"/><stop offset="0.6366" stop-color="#771c6d"/><stop offset="0.6512" stop-color="#510e6c"/><stop offset="0.6659" stop-color="#390963"/><stop offset="0.6854" stop-color="#2b0b57"/><stop offset="0.7049" stop-color="#280b53"/><stop offset="0.7244" stop-color="#290b55"/><stop offset="0.7537" stop-color="#360961"/><stop offset="0.7780" stop-color="#4a0c6b"/><stop offset="0.8122" stop-color="#71196e"/><stop offset="0.8512" stop-color="#a22b62"/><stop offset="0.8756" stop-color="#b43359"/><stop offset="0.9195" stop-color="#bf3952"/><stop offset="0.9390" stop-color="#ca404a"/><stop offset="0.9585" stop-color="#db503b"/><stop offset="0.9780" stop-color="#ef6e21"/><stop offset="0.9976" stop-color="#fa9207"/></linearGradient>
<linearGradient id="h29" x1="0" y1="0" x2="0" y2="1"><stop offset="0.0024" stop-color="#8a226a"/><stop offset="0.0122" stop-color="#902568"/><stop offset="0.0317" stop-color="#88226a"/><stop offset="0.0415" stop-color="#7c1d6d"/><stop offset="0.0512" stop-color="#6c186e"/><stop offset="0.0610" stop-color="#62146e"/><stop offset="0.0805" stop-color="#5f136e"/><stop offset="0.1000" stop-color="#69166e"/><stop offset="0.1293" stop-color="#85216b"/><stop offset="0.1537" stop-color="#922568"/><stop offset="0.1634" stop-color="#922568"/><stop offset="0.1732" stop-color="#88226a"/><stop offset="0.1976" stop-color="#5d126e"/><stop offset="0.2073" stop-color="#4d0d6c"/><stop offset="0.2317" stop-color="#340a5f"/><stop offset="0.2512" stop-color="#290b55"/><stop offset="0.2805" stop-color="#210c4a"/><stop offset="0.3098" stop-color="#230c4c"/><stop offset="0.3293" stop-color="#2d0b59"/><stop offset="0.3390" stop-color="#380962"/><stop offset="0.3537" stop-color="#520e6d"/><stop offset="0.3683" stop-color="#781c6d"/><stop offset="0.3732" stop-color="#84206b"/><stop offset="0.3780" stop-color="#88226a"/><stop offset="0.3829" stop-color="#85216b"/><stop offset="0.3927" stop-color="#6f196e"/><stop offset="0.4073" stop-color="#470b6a"/><stop offset="0.4171" stop-color="#320a5e"/><stop offset="0.4317" stop-color="#1f0c48"/><stop offset="0.4561" stop-color="#120a32"/><stop offset="0.4854" stop-color="#0d0829"/><stop offset="0.5244" stop-color="#0d0829"/><stop offset="0.5537" stop-color="#120a32"/><stop offset="0.5732" stop-color="#1b0c41"/><stop offset="0.5927" stop-color="#310a5c"/><stop offset="0.6024" stop-color="#450a69"/><stop offset="0.6171" stop-color="#6c186e"/><stop offset="0.6268" stop-color="#85216b"/><stop offset="0.6317" stop-color="#8a226a"/><stop offset="0.6366" stop-color="#87216b"/><stop offset="0.6415" stop-color="#7f1e6c"/><stop offset="0.6561" stop-color="#5a116e"/><stop offset="0.6659" stop-color="#450a69"/><stop offset="0.6854" stop-color="#310a5c"/><stop offset="0.7049" stop-color="#290b55"/><stop offset="0.7293" stop-color="#2b0b57"/><stop offset="0.7537" stop-color="#360961"/><stop offset="0.7780" stop-color="#490b6a"/><stop offset="0.8122" stop-color="#6f196e"/><stop offset="0.8463" stop-color="#972766"/><stop offset="0.8707" stop-color="#ab2f5e"/><stop offset="0.8902" stop-color="#b1325a"/><stop offset="0.9195" stop-color="#b73557"/><stop offset="0.9439" stop-color="#c73e4c"/><stop offset="0.9634" stop-color="#dd513a"/><stop offset="0.9780" stop-color="#ec6726"/><stop offset="0.9976" stop-color="#f98c0a"/></linearGradient>
<linearGradient id="h30" x1="0" y1="0" x2="0" y2="1"><stop offset="0.0024" stop-color="#88226a"/><stop offset="0.0122" stop-color="#8c2369"/><stop offset="0.0268" stop-color="#85216b"/><stop offset="0.0415" stop-color="#721a6e"/><stop offset="0.0561" stop-color="#5f136e"/><stop offset="0.0707" stop-color="#5a116e"/><stop offset="0.0951" stop-color="#62146e"/><stop offset="0.1293" stop-color="#87216b"/><stop offset="0.1488" stop-color="#922568"/><stop offset="0.1634" stop-color="#8d2369"/><stop offset="0.1732" stop-color="#801f6c"/><stop offset="0.1976" stop-color="#550f6d"/><stop offset="0.2171" stop-color="#3d0965"/><stop offset="0.2415" stop-color="#2b0b57"/><stop offset="0.2707" stop-color="#230c4c"/><stop offset="0.3000" stop-color="#240c4f"/><stop offset="0.3195" stop-color="#2d0b59"/><stop offset="0.3390" stop-color="#490b6a"/><stop offset="0.3537" stop-color="#6c186e"/><stop offset="0.3634" stop-color="#82206c"/><stop offset="0.3683" stop-color="#87216b"/><stop offset="0.3732" stop-color="#84206b"/><stop offset="0.3829" stop-color="#6d186e"/><stop offset="0.3976" stop-color="#450a69"/><stop offset="0.4073" stop-color="#310a5c"/><stop offset="0.4220" stop-color="#1e0c45"/><stop offset="0.4463" stop-color="#110a30"/><stop offset="0.4805" stop-color="#0c0826"/><stop offset="0.5146" stop-color="#0b0724"/><stop offset="0.5488" stop-color="#0e092b"/><stop offset="0.5780" stop-color="#180c3c"/><stop offset="0.5927" stop-color="#240c4f"/><stop offset="0.6073" stop-color="#3b0964"/><stop offset="0.6171" stop-color="#520e6d"/><stop offset="0.6317" stop-color="#7c1d6d"/><stop offset="0.6366" stop-color="#85216b"/><stop offset="0.6415" stop-color="#88226a"/><stop offset="0.6463" stop-color="#84206b"/><stop offset="0.6610" stop-color="#62146e"/><stop offset="0.6707" stop-color="#4c0c6b"/><stop offset="0.6854" stop-color="#380962"/><stop offset="0.7049" stop-color="#2b0b57"/><stop offset="0.7341" stop-color="#2d0b59"/><stop offset="0.7634" stop-color="#3b0964"/><stop offset="0.7976" stop-color="#5a116e"/><stop offset="0.8366" stop-color="#88226a"/><stop offset="0.8610" stop-color="#9f2a63"/><stop offset="0.8854" stop-color="#a92e5e"/><stop offset="0.9244" stop-color="#b3325a"/><stop offset="0.9439" stop-color="#c13a50"/><stop offset="0.9585" stop-color="#d24644"/><stop offset="0.9780" stop-color="#e9612b"/><stop offset="0.9976" stop-color="#f8890c"/></linearGradient>
<linearGradient id="h31" x1="0" y1="0" x2="0" y2="1"><stop offset="0.0024" stop-color="#85216b"/><stop offset="0.0073" stop-color="#88226a"/><stop offset="0.0268" stop-color="#7f1e6c"/><stop offset="0.0463" stop-color="#62146e"/><stop offset="0.0610" stop-color="#57106e"/><stop offset="0.0854" stop-color="#5a116e"/><stop offset="0.1000" stop-color="#65156e"/><stop offset="0.1293" stop-color="#88226a"/><stop offset="0.1439" stop-color="#922568"/><stop offset="0.1585" stop-color="#8d2369"/><stop offset="0.1878" stop-color="#5d126e"/><stop offset="0.2024" stop-color="#470b6a"/><stop offset="0.2268" stop-color="#310a5c"/><stop offset="0.2610" stop-color="#240c4f"/><stop offset="0.2805" stop-color="#230c4c"/><stop offset="0.3049" stop-color="#2b0b57"/><stop offset="0.3146" stop-color="#320a5e"/><stop offset="0.3293" stop-color="#490b6a"/><stop offset="0.3390" stop-color="#5f136e"/><stop offset="0.3488" stop-color="#781c6d"/><stop offset="0.3537" stop-color="#82206c"/><stop offset="0.3585" stop-color="#85216b"/><stop offset="0.3634" stop-color="#801f6c"/><stop offset="0.3732" stop-color="#6a176e"/><stop offset="0.3829" stop-color="#4f0d6c"/><stop offset="0.3927" stop-color="#380962"/><stop offset="0.4073" stop-color="#210c4a"/><stop offset="0.4268" stop-color="#140b34"/><stop offset="0.4610" stop-color="#0c0826"/><stop offset="0.5000" stop-color="#0a0722"/><stop offset="0.5341" stop-color="#0b0724"/><stop offset="0.5585" stop-color="#0e092b"/><stop offset="0.5878" stop-color="#180c3c"/><stop offset="0.6024" stop-color="#240c4f"/><stop offset="0.6171" stop-color="#3d0965"/><stop offset="0.6268" stop-color="#550f6d"/><stop offset="0.6366" stop-color="#721a6e"/><stop offset="0.6463" stop-color="#85216b"/><stop offset="0.6512" stop-color="#87216b"/><stop offset="0.6610" stop-color="#771c6d"/><stop offset="0.6756" stop-color="#520e6d"/><stop offset="0.6902" stop-color="#3b0964"/><stop offset="0.7049" stop-color="#310a5c"/><stop offset="0.7244" stop-color="#2d0b59"/><stop offset="0.7439" stop-color="#310a5c"/><stop offset="0.7634" stop-color="#3b0964"/><stop offset="0.7878" stop-color="#4f0d6c"/><stop offset="0.8268" stop-color="#781c6d"/><stop offset="0.8561" stop-color="#952667"/><stop offset="0.8805" stop-color="#a22b62"/><stop offset="0.9146" stop-color="#a82e5f"/><stop offset="0.9390" stop-color="#b73557"/><stop offset="0.9585" stop-color="#cc4248"/><stop offset="0.9732" stop-color="#e05536"/><stop offset="0.9927" stop-color="#f47918"/><stop offset="0.9976" stop-color="#f78410"/></linearGradient>
<linearGradient id="h32" x1="0" y1="0" x2="0" y2="1"><stop offset="0.0024" stop-color="#84206b"/><stop offset="0.0122" stop-color="#84206b"/><stop offset="0.0220" stop-color="#7d1e6d"/><stop offset="0.0463" stop-color="#5c126e"/><stop offset="0.0610" stop-color="#540f6d"/><stop offset="0.0756" stop-color="#540f6d"/><stop offset="0.0951" stop-color="#61136e"/><stop offset="0.1341" stop-color="#8f2469"/><stop offset="0.1439" stop-color="#922568"/><stop offset="0.1537" stop-color="#8c2369"/><stop offset="0.1634" stop-color="#7f1e6c"/><stop offset="0.1878" stop-color="#540f6d"/><stop offset="0.2073" stop-color="#3d0965"/><stop offset="0.2268" stop-color="#2f0a5b"/><stop offset="0.2561" stop-color="#240c4f"/><stop offset="0.2854" stop-color="#260c51"/><stop offset="0.3049" stop-color="#340a5f"/><stop offset="0.3146" stop-color="#400a67"/><stop offset="0.3293" stop-color="#61136e"/><stop offset="0.3390" stop-color="#781c6d"/><stop offset="0.3439" stop-color="#801f6c"/><stop offset="0.3488" stop-color="#82206c"/><stop offset="0.3537" stop-color="#7d1e6d"/><stop offset="0.3634" stop-color="#67166e"/><stop offset="0.3780" stop-color="#400a67"/><stop offset="0.3927" stop-color="#260c51"/><stop offset="0.4122" stop-color="#150b37"/><stop offset="0.4366" stop-color="#0d0829"/><stop offset="0.4707" stop-color="#0a0722"/><stop offset="0.5195" stop-color="#09061f"/><stop offset="0.5634" stop-color="#0d0829"/><stop offset="0.5878" stop-color="#140b34"/><stop offset="0.6073" stop-color="#210c4a"/><stop offset="0.6220" stop-color="#360961"/><stop offset="0.6317" stop-color="#4c0c6b"/><stop offset="0.6463" stop-color="#741a6e"/><stop offset="0.6512" stop-color="#7f1e6c"/><stop offset="0.6561" stop-color="#85216b"/><stop offset="0.6610" stop-color="#84206b"/><stop offset="0.6659" stop-color="#7d1e6d"/><stop offset="0.6805" stop-color="#5a116e"/><stop offset="0.6902" stop-color="#470b6a"/><stop offset="0.7098" stop-color="#320a5e"/><stop offset="0.7293" stop-color="#2f0a5b"/><stop offset="0.7488" stop-color="#320a5e"/><stop offset="0.7732" stop-color="#400a67"/><stop offset="0.8073" stop-color="#61136e"/><stop offset="0.8561" stop-color="#902568"/><stop offset="0.8854" stop-color="#9d2964"/><stop offset="0.9146" stop-color="#a22b62"/><stop offset="0.9390" stop-color="#b1325a"/><stop offset="0.9634" stop-color="#ce4347"/><stop offset="0.9780" stop-color="#e35933"/><stop offset="0.9976" stop-color="#f68013"/></linearGradient>
<linearGradient id="h33" x1="0" y1="0" x2="0" y2="1"><stop offset="0.0024" stop-color="#84206b"/><stop offset="0.0171" stop-color="#7d1e6d"/><stop offset="0.0415" stop-color="#5a116e"/><stop offset="0.0610" stop-color="#510e6c"/><stop offset="0.0756" stop-color="#520e6d"/><stop offset="0.0951" stop-color="#61136e"/><stop offset="0.1293" stop-color="#8d2369"/><stop offset="0.1390" stop-color="#902568"/><stop offset="0.1488" stop-color="#8c2369"/><stop offset="0.1585" stop-color="#7f1e6c"/><stop offset="0.1829" stop-color="#540f6d"/><stop offset="0.2024" stop-color="#3d0965"/><stop offset="0.2268" stop-color="#2d0b59"/><stop offset="0.2512" stop-color="#260c51"/><stop offset="0.2756" stop-color="#280b53"/><stop offset="0.2902" stop-color="#2f0a5b"/><stop offset="0.3049" stop-color="#400a67"/><stop offset="0.3195" stop-color="#61136e"/><stop offset="0.3293" stop-color="#781c6d"/><stop offset="0.3341" stop-color="#7f1e6c"/><stop offset="0.3390" stop-color="#801f6c"/><stop offset="0.3439" stop-color="#7c1d6d"/><stop offset="0.3585" stop-color="#550f6d"/><stop offset="0.3683" stop-color="#3e0966"/><stop offset="0.3829" stop-color="#240c4f"/><stop offset="0.3976" stop-color="#180c3c"/><stop offset="0.4122" stop-color="#110a30"/><stop offset="0.4463" stop-color="#0a0722"/><stop offset="0.5098" stop-color="#08051d"/><stop offset="0.5585" stop-color="#0b0724"/><stop offset="0.5976" stop-color="#140b34"/><stop offset="0.6122" stop-color="#1e0c45"/><stop offset="0.6268" stop-color="#2f0a5b"/><stop offset="0.6366" stop-color="#440a68"/><stop offset="0.6512" stop-color="#6a176e"/><stop offset="0.6610" stop-color="#801f6c"/><stop offset="0.6659" stop-color="#84206b"/><stop offset="0.6707" stop-color="#801f6c"/><stop offset="0.6805" stop-color="#6d186e"/><stop offset="0.6951" stop-color="#4c0c6b"/><stop offset="0.7098" stop-color="#390963"/><stop offset="0.7341" stop-color="#310a5c"/><stop offset="0.7537" stop-color="#340a5f"/><stop offset="0.7878" stop-color="#4c0c6b"/><stop offset="0.8317" stop-color="#771c6d"/><stop offset="0.8659" stop-color="#902568"/><stop offset="0.9195" stop-color="#9f2a63"/><stop offset="0.9390" stop-color="#ab2f5e"/><stop offset="0.9585" stop-color="#c33b4f"/><stop offset="0.9732" stop-color="#d84c3e"/><stop offset="0.9927" stop-color="#f1711f"/><stop offset="0.9976" stop-color="#f57d15"/></linearGradient>
<linearGradient id="h34" x1="0" y1="0" x2="0" y2="1"><stop offset="0.0024" stop-color="#82206c"/><stop offset="0.0171" stop-color="#781c6d"/><stop offset="0.0366" stop-color="#5a116e"/><stop offset="0.0512" stop-color="#510e6c"/><stop offset="0.0707" stop-color="#510e6c"/><stop offset="0.0902" stop-color="#5d126e"/><stop offset="0.1098" stop-color="#771c6d"/><stop offset="0.1244" stop-color="#8c2369"/><stop offset="0.1341" stop-color="#902568"/><stop offset="0.1439" stop-color="#8c2369"/><stop offset="0.1732" stop-color="#5c126e"/><stop offset="0.1927" stop-color="#420a68"/><stop offset="0.2220" stop-color="#2d0b59"/><stop offset="0.2512" stop-color="#260c51"/><stop offset="0.2707" stop-color="#290b55"/><stop offset="0.2854" stop-color="#340a5f"/><stop offset="0.2951" stop-color="#420a68"/><stop offset="0.3098" stop-color="#5f136e"/><stop offset="0.3195" stop-color="#771c6d"/><stop offset="0.3244" stop-color="#7d1e6d"/><stop offset="0.3293" stop-color="#7f1e6c"/><stop offset="0.3390" stop-color="#6f196e"/><stop offset="0.3537" stop-color="#470b6a"/><stop offset="0.3634" stop-color="#320a5e"/><stop offset="0.3780" stop-color="#1e0c45"/><stop offset="0.3927" stop-color="#140b34"/><stop offset="0.4171" stop-color="#0c0826"/><stop offset="0.4512" stop-color="#09061f"/><stop offset="0.5341" stop-color="#08051d"/><stop offset="0.5780" stop-color="#0c0826"/><stop offset="0.6024" stop-color="#120a32"/><stop offset="0.6268" stop-color="#230c4c"/><stop offset="0.6415" stop-color="#3b0964"/><stop offset="0.6512" stop-color="#520e6d"/><stop offset="0.6659" stop-color="#7a1d6d"/><stop offset="0.6707" stop-color="#801f6c"/><stop offset="0.6756" stop-color="#82206c"/><stop offset="0.6854" stop-color="#721a6e"/><stop offset="0.7049" stop-color="#490b6a"/><stop offset="0.7195" stop-color="#390963"/><stop offset="0.7390" stop-color="#320a5e"/><stop offset="0.7732" stop-color="#3e0966"/><stop offset="0.8073" stop-color="#5c126e"/><stop offset="0.8512" stop-color="#82206c"/><stop offset="0.8756" stop-color="#8f2469"/><stop offset="0.9146" stop-color="#972766"/><stop offset="0.9390" stop-color="#a62d60"/><stop offset="0.9585" stop-color="#bf3952"/><stop offset="0.9732" stop-color="#d44842"/><stop offset="0.9878" stop-color="#ea632a"/><stop offset="0.9976" stop-color="#f47918"/></linearGradient>
<linearGradient id="h35" x1="0" y1="0" x2="0" y2="1"><stop offset="0.0024" stop-color="#82206c"/><stop offset="0.0122" stop-color="#7a1d6d"/><stop offset="0.0317" stop-color="#5c126e"/><stop offset="0.0463" stop-color="#4f0d6c"/><stop offset="0.0707" stop-color="#4f0d6c"/><stop offset="0.0902" stop-color="#5f136e"/><stop offset="0.1146" stop-color="#84206b"/><stop offset="0.1244" stop-color="#8d2369"/><stop offset="0.1341" stop-color="#8d2369"/><stop offset="0.1439" stop-color="#84206b"/><stop offset="0.1683" stop-color="#5a116e"/><stop offset="0.1927" stop-color="#3d0965"/><stop offset="0.2171" stop-color="#2d0b59"/><stop offset="0.2463" stop-color="#280b53"/><stop offset="0.2707" stop-color="#310a5c"/><stop offset="0.2854" stop-color="#400a67"/><stop offset="0.3000" stop-color="#5f136e"/><stop offset="0.3098" stop-color="#751b6e"/><stop offset="0.3146" stop-color="#7c1d6d"/><stop offset="0.3195" stop-color="#7d1e6d"/><stop offset="0.3244" stop-color="#771c6d"/><stop offset="0.3390" stop-color="#520e6d"/><stop offset="0.3488" stop-color="#390963"/><stop offset="0.3585" stop-color="#280b53"/><stop offset="0.3780" stop-color="#160b39"/><stop offset="0.3927" stop-color="#10092d"/><stop offset="0.4220" stop-color="#0a0722"/><stop offset="0.4805" stop-color="#07051b"/><stop offset="0.5488" stop-color="#08051d"/><stop offset="0.5927" stop-color="#0d0829"/><stop offset="0.6171" stop-color="#150b37"/><stop offset="0.6317" stop-color="#1f0c48"/><stop offset="0.6463" stop-color="#340a5f"/><stop offset="0.6561" stop-color="#4a0c6b"/><stop offset="0.6707" stop-color="#721a6e"/><stop offset="0.6756" stop-color="#7c1d6d"/><stop offset="0.6805" stop-color="#801f6c"/><stop offset="0.6854" stop-color="#7f1e6c"/><stop offset="0.7000" stop-color="#62146e"/><stop offset="0.7098" stop-color="#4d0d6c"/><stop offset="0.7195" stop-color="#400a67"/><stop offset="0.7341" stop-color="#360961"/><stop offset="0.7537" stop-color="#360961"/><stop offset="0.7780" stop-color="#420a68"/><stop offset="0.8220" stop-color="#65156e"/><stop offset="0.8561" stop-color="#801f6c"/><stop offset="0.8902" stop-color="#8c2369"/><stop offset="0.9244" stop-color="#972766"/><stop offset="0.9439" stop-color="#a62d60"/><stop offset="0.9634" stop-color="#c13a50"/><stop offset="0.9780" stop-color="#d94d3d"/><stop offset="0.9976" stop-color="#f3761b"/></linearGradient>
<linearGradient id="h36" x1="0" y1="0" x2="0" y2="1"><stop offset="0.0024" stop-color="#82206c"/><stop offset="0.0122" stop-color="#751b6e"/><stop offset="0.0317" stop-color="#57106e"/><stop offset="0.0463" stop-color="#4d0d6c"/><stop offset="0.0659" stop-color="#4d0d6c"/><stop offset="0.0854" stop-color="#5c126e"/><stop offset="0.1146" stop-color="#87216b"/><stop offset="0.1244" stop-color="#8d2369"/><stop offset="0.1341" stop-color="#8a226a"/><stop offset="0.1634" stop-color="#5a116e"/><stop offset="0.1780" stop-color="#470b6a"/><stop offset="0.2024" stop-color="#320a5e"/><stop offset="0.2268" stop-color="#290b55"/><stop offset="0.2512" stop-color="#2b0b57"/><stop offset="0.2707" stop-color="#390963"/><stop offset="0.2854" stop-color="#520e6d"/><stop offset="0.3000" stop-color="#741a6e"/><stop offset="0.3049" stop-color="#7a1d6d"/><stop offset="0.3098" stop-color="#7a1d6d"/><stop offset="0.3146" stop-color="#751b6e"/><stop offset="0.3293" stop-color="#510e6c"/><stop offset="0.3390" stop-color="#390963"/><stop offset="0.3488" stop-color="#280b53"/><stop offset="0.3585" stop-color="#1c0c43"/><stop offset="0.3683" stop-color="#150b37"/><stop offset="0.4073" stop-color="#0a0722"/><stop offset="0.4610" stop-color="#07051b"/><stop offset="0.5390" stop-color="#07051b"/><stop offset="0.5878" stop-color="#0b0724"/><stop offset="0.6122" stop-color="#10092d"/><stop offset="0.6317" stop-color="#190c3e"/><stop offset="0.6512" stop-color="#2f0a5b"/><stop offset="0.6610" stop-color="#440a68"/><stop offset="0.6756" stop-color="#6a176e"/><stop offset="0.6854" stop-color="#7d1e6d"/><stop offset="0.6902" stop-color="#7f1e6c"/><stop offset="0.7000" stop-color="#721a6e"/><stop offset="0.7146" stop-color="#520e6d"/><stop offset="0.7293" stop-color="#3e0966"/><stop offset="0.7488" stop-color="#380962"/><stop offset="0.7683" stop-color="#3b0964"/><stop offset="0.8073" stop-color="#550f6d"/><stop offset="0.8512" stop-color="#781c6d"/><stop offset="0.8756" stop-color="#82206c"/><stop offset="0.9146" stop-color="#8d2369"/><stop offset="0.9390" stop-color="#9d2964"/><stop offset="0.9585" stop-color="#b63458"/><stop offset="0.9732" stop-color="#cf4446"/><stop offset="0.9829" stop-color="#df5337"/><stop offset="0.9976" stop-color="#f1731d"/></linearGradient>
<linearGradient id="h37" x1="0" y1="0" x2="0" y2="1"><stop offset="0.0024" stop-color="#82206c"/><stop offset="0.0268" stop-color="#5a116e"/><stop offset="0.0366" stop-color="#510e6c"/><stop offset="0.0512" stop-color="#4c0c6b"/><stop offset="0.0707" stop-color="#520e6d"/><stop offset="0.0902" stop-color="#65156e"/><stop offset="0.1098" stop-color="#84206b"/><stop offset="0.1195" stop-color="#8c2369"/><stop offset="0.1293" stop-color="#88226a"/><stop offset="0.1390" stop-color="#7c1d6d"/><stop offset="0.1634" stop-color="#520e6d"/><stop offset="0.1878" stop-color="#390963"/><stop offset="0.2073" stop-color="#2f0a5b"/><stop offset="0.2268" stop-color="#290b55"/><stop offset="0.2463" stop-color="#2d0b59"/><stop offset="0.2610" stop-color="#390963"/><stop offset="0.2756" stop-color="#510e6c"/><stop offset="0.2902" stop-color="#721a6e"/><stop offset="0.2951" stop-color="#781c6d"/><stop offset="0.3000" stop-color="#781c6d"/><stop offset="0.3049" stop-color="#741a6e"/><stop offset="0.3195" stop-color="#4f0d6c"/><stop offset="0.3293" stop-color="#380962"/><stop offset="0.3439" stop-color="#210c4a"/><stop offset="0.3585" stop-color="#150b37"/><stop offset="0.3829" stop-color="#0c0826"/><stop offset="0.4220" stop-color="#08051d"/><stop offset="0.4902" stop-color="#060419"/><stop offset="0.5488" stop-color="#07051b"/><stop offset="0.6024" stop-color="#0c0826"/><stop offset="0.6268" stop-color="#120a32"/><stop offset="0.6463" stop-color="#1f0c48"/><stop offset="0.6610" stop-color="#340a5f"/><stop offset="0.6707" stop-color="#490b6a"/><stop offset="0.6854" stop-color="#6f196e"/><stop offset="0.6902" stop-color="#781c6d"/><stop offset="0.6951" stop-color="#7d1e6d"/><stop offset="0.7000" stop-color="#7c1d6d"/><stop offset="0.7049" stop-color="#751b6e"/><stop offset="0.7244" stop-color="#4d0d6c"/><stop offset="0.7390" stop-color="#3e0966"/><stop offset="0.7537" stop-color="#390963"/><stop offset="0.7732" stop-color="#3d0965"/><stop offset="0.8122" stop-color="#57106e"/><stop offset="0.8512" stop-color="#741a6e"/><stop offset="0.8951" stop-color="#82206c"/><stop offset="0.9195" stop-color="#8a226a"/><stop offset="0.9439" stop-color="#9f2a63"/><stop offset="0.9585" stop-color="#b3325a"/><stop offset="0.9732" stop-color="#cc4248"/><stop offset="0.9927" stop-color="#eb6628"/><stop offset="0.9976" stop-color="#f1711f"/></linearGradient>
<linearGradient id="h38" x1="0" y1="0" x2="0" y2="1"><stop offset="0.0024" stop-color="#82206c"/><stop offset="0.0220" stop-color="#5d126e"/><stop offset="0.0366" stop-color="#4f0d6c"/><stop offset="0.0561" stop-color="#4c0c6b"/><stop offset="0.0756" stop-color="#59106e"/><stop offset="0.0951" stop-color="#721a6e"/><stop offset="0.1098" stop-color="#87216b"/><stop offset="0.1195" stop-color="#8a226a"/><stop offset="0.1293" stop-color="#82206c"/><stop offset="0.1537" stop-color="#5a116e"/><stop offset="0.1683" stop-color="#470b6a"/><stop offset="0.1927" stop-color="#320a5e"/><stop offset="0.2171" stop-color="#2b0b57"/><stop offset="0.2366" stop-color="#2d0b59"/><stop offset="0.2561" stop-color="#3e0966"/><stop offset="0.2707" stop-color="#5a116e"/><stop offset="0.2805" stop-color="#6f196e"/><stop offset="0.2854" stop-color="#751b6e"/><stop offset="0.2902" stop-color="#771c6d"/><stop offset="0.2951" stop-color="#721a6e"/><stop offset="0.3049" stop-color="#5c126e"/><stop offset="0.3146" stop-color="#440a68"/><stop offset="0.3244" stop-color="#2f0a5b"/><stop offset="0.3390" stop-color="#1c0c43"/><stop offset="0.3537" stop-color="#120a32"/><stop offset="0.3732" stop-color="#0c0826"/><stop offset="0.4122" stop-color="#08051d"/><stop offset="0.4610" stop-color="#060419"/><stop offset="0.5341" stop-color="#060419"/><stop offset="0.5878" stop-color="#09061f"/><stop offset="0.6268" stop-color="#10092d"/><stop offset="0.6512" stop-color="#1c0c43"/><stop offset="0.6659" stop-color="#2f0a5b"/><stop offset="0.6756" stop-color="#440a68"/><stop offset="0.6902" stop-color="#69166e"/><stop offset="0.6951" stop-color="#741a6e"/><stop offset="0.7000" stop-color="#7a1d6d"/><stop offset="0.7049" stop-color="#7c1d6d"/><stop offset="0.7146" stop-color="#6f196e"/><stop offset="0.7293" stop-color="#510e6c"/><stop offset="0.7390" stop-color="#440a68"/><stop offset="0.7537" stop-color="#3b0964"/><stop offset="0.7732" stop-color="#3d0965"/><stop offset="0.8122" stop-color="#540f6d"/><stop offset="0.8610" stop-color="#741a6e"/><stop offset="0.9195" stop-color="#85216b"/><stop offset="0.9390" stop-color="#952667"/><stop offset="0.9634" stop-color="#b73557"/><stop offset="0.9780" stop-color="#d34743"/><stop offset="0.9927" stop-color="#eb6429"/><stop offset="0.9976" stop-color="#f06f20"/></linearGradient>
<linearGradient id="h39" x1="0" y1="0" x2="0" y2="1"><stop offset="0.0024" stop-color="#801f6c"/><stop offset="0.0171" stop-color="#62146e"/><stop offset="0.0317" stop-color="#510e6c"/><stop offset="0.0512" stop-color="#4c0c6b"/><stop offset="0.0659" stop-color="#520e6d"/><stop offset="0.0902" stop-color="#6f196e"/><stop offset="0.1049" stop-color="#84206b"/><stop offset="0.1146" stop-color="#88226a"/><stop offset="0.1195" stop-color="#87216b"/><stop offset="0.1390" stop-color="#6a176e"/><stop offset="0.1537" stop-color="#520e6d"/><stop offset="0.1683" stop-color="#400a67"/><stop offset="0.1927" stop-color="#310a5c"/><stop offset="0.2171" stop-color="#2b0b57"/><stop offset="0.2366" stop-color="#340a5f"/><stop offset="0.2512" stop-color="#440a68"/><stop offset="0.2659" stop-color="#62146e"/><stop offset="0.2756" stop-color="#741a6e"/><stop offset="0.2805" stop-color="#751b6e"/><stop offset="0.2854" stop-color="#721a6e"/><stop offset="0.3000" stop-color="#510e6c"/><stop offset="0.3098" stop-color="#390963"/><stop offset="0.3195" stop-color="#280b53"/><stop offset="0.3341" stop-color="#180c3c"/><stop offset="0.3488" stop-color="#110a30"/><stop offset="0.3683" stop-color="#0b0724"/><stop offset="0.4171" stop-color="#07051b"/><stop offset="0.4951" stop-color="#050417"/><stop offset="0.5683" stop-color="#07051b"/><stop offset="0.6171" stop-color="#0c0826"/><stop offset="0.6415" stop-color="#120a32"/><stop offset="0.6610" stop-color="#1f0c48"/><stop offset="0.6756" stop-color="#340a5f"/><stop offset="0.6854" stop-color="#490b6a"/><stop offset="0.7000" stop-color="#6f196e"/><stop offset="0.7049" stop-color="#771c6d"/><stop offset="0.7098" stop-color="#7a1d6d"/><stop offset="0.7146" stop-color="#781c6d"/><stop offset="0.7341" stop-color="#540f6d"/><stop offset="0.7439" stop-color="#470b6a"/><stop offset="0.7585" stop-color="#3d0965"/><stop offset="0.7780" stop-color="#3e0966"/><stop offset="0.8171" stop-color="#550f6d"/><stop offset="0.8610" stop-color="#6f196e"/><stop offset="0.9195" stop-color="#82206c"/><stop offset="0.9439" stop-color="#972766"/><stop offset="0.9634" stop-color="#b63458"/><stop offset="0.9780" stop-color="#d04545"/><stop offset="0.9927" stop-color="#ea632a"/><stop offset="0.9976" stop-color="#ef6e21"/></linearGradient>
<linearGradient id="h40" x1="0" y1="0" x2="0" y2="1"><stop offset="0.0024" stop-color="#801f6c"/><stop offset="0.0171" stop-color="#61136e"/><stop offset="0.0317" stop-color="#510e6c"/><stop offset="0.0512" stop-color="#4d0d6c"/><stop offset="0.0707" stop-color="#5a116e"/><stop offset="0.1000" stop-color="#82206c"/><stop offset="0.1098" stop-color="#87216b"/><stop offset="0.1195" stop-color="#801f6c"/><stop offset="0.1439" stop-color="#59106e"/><stop offset="0.1634" stop-color="#400a67"/><stop offset="0.1878" stop-color="#310a5c"/><stop offset="0.2073" stop-color="#2d0b59"/><stop offset="0.2317" stop-color="#360961"/><stop offset="0.2463" stop-color="#4a0c6b"/><stop offset="0.2659" stop-color="#71196e"/><stop offset="0.2707" stop-color="#741a6e"/><stop offset="0.2805" stop-color="#6a176e"/><stop offset="0.2951" stop-color="#450a69"/><stop offset="0.3049" stop-color="#310a5c"/><stop offset="0.3195" stop-color="#1c0c43"/><stop offset="0.3488" stop-color="#0d0829"/><stop offset="0.3829" stop-color="#08051d"/><stop offset="0.4415" stop-color="#060419"/><stop offset="0.5195" stop-color="#050417"/><stop offset="0.5927" stop-color="#08051d"/><stop offset="0.6220" stop-color="#0c0826"/><stop offset="0.6366" stop-color="#0e092b"/><stop offset="0.6561" stop-color="#160b39"/><stop offset="0.6707" stop-color="#230c4c"/><stop offset="0.6805" stop-color="#310a5c"/><stop offset="0.6902" stop-color="#450a69"/><stop offset="0.7049" stop-color="#6a176e"/><stop offset="0.7098" stop-color="#741a6e"/><stop offset="0.7146" stop-color="#781c6d"/><stop offset="0.7195" stop-color="#781c6d"/><stop offset="0.7293" stop-color="#69166e"/><stop offset="0.7390" stop-color="#550f6d"/><stop offset="0.7537" stop-color="#440a68"/><stop offset="0.7683" stop-color="#3e0966"/><stop offset="0.7878" stop-color="#420a68"/><stop offset="0.8268" stop-color="#59106e"/><stop offset="0.8659" stop-color="#6c186e"/><stop offset="0.9195" stop-color="#7d1e6d"/><stop offset="0.9488" stop-color="#9a2865"/><stop offset="0.9683" stop-color="#bc3754"/><stop offset="0.9829" stop-color="#d84c3e"/><stop offset="0.9976" stop-color="#ef6c23"/></linearGradient>
<linearGradient id="h41" x1="0" y1="0" x2="0" y2="1"><stop offset="0.0024" stop-color="#82206c"/><stop offset="0.0171" stop-color="#61136e"/><stop offset="0.0317" stop-color="#510e6c"/><stop offset="0.0512" stop-color="#510e6c"/><stop offset="0.0659" stop-color="#5a116e"/><stop offset="0.0951" stop-color="#7f1e6c"/><stop offset="0.1049" stop-color="#85216b"/><stop offset="0.1146" stop-color="#7f1e6c"/><stop offset="0.1293" stop-color="#6a176e"/><stop offset="0.1439" stop-color="#520e6d"/><stop offset="0.1585" stop-color="#400a67"/><stop offset="0.1829" stop-color="#310a5c"/><stop offset="0.2024" stop-color="#2d0b59"/><stop offset="0.2220" stop-color="#340a5f"/><stop offset="0.2317" stop-color="#3e0966"/><stop offset="0.2463" stop-color="#59106e"/><stop offset="0.2561" stop-color="#6c186e"/><stop offset="0.2610" stop-color="#721a6e"/><stop offset="0.2659" stop-color="#71196e"/><stop offset="0.2756" stop-color="#61136e"/><stop offset="0.2854" stop-color="#490b6a"/><stop offset="0.2951" stop-color="#320a5e"/><stop offset="0.3146" stop-color="#190c3e"/><stop offset="0.3341" stop-color="#10092d"/><stop offset="0.3683" stop-color="#09061f"/><stop offset="0.4171" stop-color="#060419"/><stop offset="0.5293" stop-color="#050417"/><stop offset="0.5976" stop-color="#08051d"/><stop offset="0.6415" stop-color="#0e092b"/><stop offset="0.6610" stop-color="#160b39"/><stop offset="0.6756" stop-color="#210c4a"/><stop offset="0.6902" stop-color="#380962"/><stop offset="0.7000" stop-color="#4d0d6c"/><stop offset="0.7146" stop-color="#71196e"/><stop offset="0.7195" stop-color="#771c6d"/><stop offset="0.7244" stop-color="#771c6d"/><stop offset="0.7341" stop-color="#6a176e"/><stop offset="0.7537" stop-color="#4a0c6b"/><stop offset="0.7683" stop-color="#400a67"/><stop offset="0.7878" stop-color="#420a68"/><stop offset="0.8171" stop-color="#4f0d6c"/><stop offset="0.8561" stop-color="#64156e"/><stop offset="0.9146" stop-color="#771c6d"/><stop offset="0.9390" stop-color="#8c2369"/><stop offset="0.9585" stop-color="#a62d60"/><stop offset="0.9732" stop-color="#c33b4f"/><stop offset="0.9878" stop-color="#e05536"/><stop offset="0.9976" stop-color="#ee6a24"/></linearGradient>
<linearGradient id="h42" x1="0" y1="0" x2="0" y2="1"><stop offset="0.0024" stop-color="#82206c"/><stop offset="0.0171" stop-color="#61136e"/><stop offset="0.0317" stop-color="#520e6d"/><stop offset="0.0512" stop-color="#520e6d"/><stop offset="0.0659" stop-color="#5d126e"/><stop offset="0.0902" stop-color="#7d1e6d"/><stop offset="0.1049" stop-color="#82206c"/><stop offset="0.1146" stop-color="#781c6d"/><stop offset="0.1390" stop-color="#520e6d"/><stop offset="0.1634" stop-color="#390963"/><stop offset="0.1829" stop-color="#2f0a5b"/><stop offset="0.2073" stop-color="#310a5c"/><stop offset="0.2268" stop-color="#420a68"/><stop offset="0.2463" stop-color="#67166e"/><stop offset="0.2512" stop-color="#6f196e"/><stop offset="0.2561" stop-color="#71196e"/><stop offset="0.2659" stop-color="#64156e"/><stop offset="0.2805" stop-color="#400a67"/><stop offset="0.2951" stop-color="#260c51"/><stop offset="0.3049" stop-color="#1b0c41"/><stop offset="0.3293" stop-color="#0e092b"/><stop offset="0.3585" stop-color="#09061f"/><stop offset="0.4073" stop-color="#060419"/><stop offset="0.5390" stop-color="#050417"/><stop offset="0.6122" stop-color="#09061f"/><stop offset="0.6415" stop-color="#0d0829"/><stop offset="0.6610" stop-color="#140b34"/><stop offset="0.6805" stop-color="#210c4a"/><stop offset="0.6951" stop-color="#360961"/><stop offset="0.7049" stop-color="#4a0c6b"/><stop offset="0.7195" stop-color="#6d186e"/><stop offset="0.7244" stop-color="#751b6e"/><stop offset="0.7293" stop-color="#771c6d"/><stop offset="0.7390" stop-color="#6a176e"/><stop offset="0.7537" stop-color="#510e6c"/><stop offset="0.7683" stop-color="#440a68"/><stop offset="0.7878" stop-color="#400a67"/><stop offset="0.8366" stop-color="#57106e"/><stop offset="0.8805" stop-color="#69166e"/><stop offset="0.9146" stop-color="#741a6e"/><stop offset="0.9390" stop-color="#88226a"/><stop offset="0.9537" stop-color="#9b2964"/><stop offset="0.9683" stop-color="#b73557"/><stop offset="0.9829" stop-color="#d54a41"/><stop offset="0.9976" stop-color="#ed6925"/></linearGradient>
<linearGradient id="h43" x1="0" y1="0" x2="0" y2="1"><stop offset="0.0024" stop-color="#85216b"/><stop offset="0.0122" stop-color="#6a176e"/><stop offset="0.0268" stop-color="#57106e"/><stop offset="0.0415" stop-color="#520e6d"/><stop offset="0.0561" stop-color="#59106e"/><stop offset="0.0854" stop-color="#7c1d6d"/><stop offset="0.0951" stop-color="#82206c"/><stop offset="0.1098" stop-color="#781c6d"/><stop offset="0.1341" stop-color="#520e6d"/><stop offset="0.1585" stop-color="#390963"/><stop offset="0.1732" stop-color="#310a5c"/><stop offset="0.1976" stop-color="#310a5c"/><stop offset="0.2073" stop-color="#340a5f"/><stop offset="0.2220" stop-color="#450a69"/><stop offset="0.2415" stop-color="#6a176e"/><stop offset="0.2463" stop-color="#6f196e"/><stop offset="0.2512" stop-color="#6d186e"/><stop offset="0.2610" stop-color="#5d126e"/><stop offset="0.2756" stop-color="#3b0964"/><stop offset="0.2854" stop-color="#290b55"/><stop offset="0.3000" stop-color="#190c3e"/><stop offset="0.3244" stop-color="#0d0829"/><stop offset="0.3585" stop-color="#08051d"/><stop offset="0.4317" stop-color="#050417"/><stop offset="0.5488" stop-color="#050417"/><stop offset="0.6171" stop-color="#09061f"/><stop offset="0.6463" stop-color="#0d0829"/><stop offset="0.6707" stop-color="#150b37"/><stop offset="0.6854" stop-color="#1f0c48"/><stop offset="0.7000" stop-color="#340a5f"/><stop offset="0.7098" stop-color="#490b6a"/><stop offset="0.7244" stop-color="#6c186e"/><stop offset="0.7293" stop-color="#741a6e"/><stop offset="0.7341" stop-color="#751b6e"/><stop offset="0.7390" stop-color="#721a6e"/><stop offset="0.7585" stop-color="#520e6d"/><stop offset="0.7732" stop-color="#440a68"/><stop offset="0.8024" stop-color="#440a68"/><stop offset="0.8610" stop-color="#5d126e"/><stop offset="0.9146" stop-color="#71196e"/><stop offset="0.9390" stop-color="#85216b"/><stop offset="0.9585" stop-color="#a22b62"/><stop offset="0.9732" stop-color="#bf3952"/><stop offset="0.9878" stop-color="#de5238"/><stop offset="0.9976" stop-color="#ec6726"/></linearGradient>
<linearGradient id="h44" x1="0" y1="0" x2="0" y2="1"><stop offset="0.0024" stop-color="#87216b"/><stop offset="0.0122" stop-color="#6d186e"/><stop offset="0.0220" stop-color="#5d126e"/><stop offset="0.0317" stop-color="#57106e"/><stop offset="0.0463" stop-color="#57106e"/><stop offset="0.0610" stop-color="#62146e"/><stop offset="0.0854" stop-color="#7f1e6c"/><stop offset="0.0951" stop-color="#801f6c"/><stop offset="0.1098" stop-color="#721a6e"/><stop offset="0.1341" stop-color="#4d0d6c"/><stop offset="0.1537" stop-color="#390963"/><stop offset="0.1829" stop-color="#2f0a5b"/><stop offset="0.2024" stop-color="#360961"/><stop offset="0.2122" stop-color="#400a67"/><stop offset="0.2317" stop-color="#64156e"/><stop offset="0.2415" stop-color="#6d186e"/><stop offset="0.2463" stop-color="#6a176e"/><stop offset="0.2561" stop-color="#59106e"/><stop offset="0.2659" stop-color="#400a67"/><stop offset="0.2805" stop-color="#260c51"/><stop offset="0.2902" stop-color="#1b0c41"/><stop offset="0.3146" stop-color="#0e092b"/><stop offset="0.3439" stop-color="#09061f"/><stop offset="0.3927" stop-color="#060419"/><stop offset="0.4951" stop-color="#040314"/><stop offset="0.6024" stop-color="#07051b"/><stop offset="0.6463" stop-color="#0c0826"/><stop offset="0.6756" stop-color="#150b37"/><stop offset="0.6902" stop-color="#1f0c48"/><stop offset="0.7049" stop-color="#340a5f"/><stop offset="0.7195" stop-color="#540f6d"/><stop offset="0.7293" stop-color="#6a176e"/><stop offset="0.7341" stop-color="#721a6e"/><stop offset="0.7390" stop-color="#741a6e"/><stop offset="0.7488" stop-color="#6a176e"/><stop offset="0.7634" stop-color="#520e6d"/><stop offset="0.7732" stop-color="#470b6a"/><stop offset="0.7878" stop-color="#420a68"/><stop offset="0.8073" stop-color="#450a69"/><stop offset="0.8951" stop-color="#65156e"/><stop offset="0.9195" stop-color="#71196e"/><stop offset="0.9439" stop-color="#88226a"/><stop offset="0.9585" stop-color="#a02a63"/><stop offset="0.9732" stop-color="#bd3853"/><stop offset="0.9878" stop-color="#dd513a"/><stop offset="0.9976" stop-color="#eb6628"/></linearGradient>
<linearGradient id="h45" x1="0" y1="0" x2="0" y2="1"><stop offset="0.0024" stop-color="#8c2369"/><stop offset="0.0122" stop-color="#6f196e"/><stop offset="0.0268" stop-color="#5c126e"/><stop offset="0.0366" stop-color="#59106e"/><stop offset="0.0512" stop-color="#5d126e"/><stop offset="0.0805" stop-color="#7d1e6d"/><stop offset="0.0951" stop-color="#7d1e6d"/><stop offset="0.1146" stop-color="#64156e"/><stop offset="0.1293" stop-color="#4d0d6c"/><stop offset="0.1488" stop-color="#390963"/><stop offset="0.1780" stop-color="#2f0a5b"/><stop offset="0.1927" stop-color="#340a5f"/><stop offset="0.2024" stop-color="#3b0964"/><stop offset="0.2122" stop-color="#490b6a"/><stop offset="0.2268" stop-color="#64156e"/><stop offset="0.2317" stop-color="#6a176e"/><stop offset="0.2366" stop-color="#6c186e"/><stop offset="0.2463" stop-color="#5f136e"/><stop offset="0.2561" stop-color="#490b6a"/><stop offset="0.2707" stop-color="#2b0b57"/><stop offset="0.2854" stop-color="#190c3e"/><stop offset="0.3049" stop-color="#10092d"/><stop offset="0.3439" stop-color="#08051d"/><stop offset="0.4122" stop-color="#050417"/><stop offset="0.5098" stop-color="#040314"/><stop offset="0.5878" stop-color="#060419"/><stop offset="0.6512" stop-color="#0c0826"/><stop offset="0.6805" stop-color="#150b37"/><stop offset="0.6951" stop-color="#1f0c48"/><stop offset="0.7098" stop-color="#340a5f"/><stop offset="0.7244" stop-color="#540f6d"/><stop offset="0.7341" stop-color="#6a176e"/><stop offset="0.7439" stop-color="#741a6e"/><stop offset="0.7488" stop-color="#71196e"/><stop offset="0.7683" stop-color="#510e6c"/><stop offset="0.7780" stop-color="#470b6a"/><stop offset="0.7927" stop-color="#420a68"/><stop offset="0.8171" stop-color="#450a69"/><stop offset="0.8854" stop-color="#5f136e"/><stop offset="0.9049" stop-color="#65156e"/><stop offset="0.9293" stop-color="#751b6e"/><stop offset="0.9537" stop-color="#952667"/><stop offset="0.9683" stop-color="#b1325a"/><stop offset="0.9829" stop-color="#d04545"/><stop offset="0.9927" stop-color="#e45a31"/><stop offset="0.9976" stop-color="#eb6628"/></linearGradient>
<linearGradient id="h46" x1="0" y1="0" x2="0" y2="1"><stop offset="0.0024" stop-color="#902568"/><stop offset="0.0122" stop-color="#741a6e"/><stop offset="0.0220" stop-color="#64156e"/><stop offset="0.0317" stop-color="#5d126e"/><stop offset="0.0415" stop-color="#5d126e"/><stop offset="0.0561" stop-color="#67166e"/><stop offset="0.0756" stop-color="#7c1d6d"/><stop offset="0.0854" stop-color="#7f1e6c"/><stop offset="0.0951" stop-color="#781c6d"/><stop offset="0.1244" stop-color="#4f0d6c"/><stop offset="0.1439" stop-color="#3b0964"/><stop offset="0.1634" stop-color="#310a5c"/><stop offset="0.1829" stop-color="#310a5c"/><stop offset="0.1976" stop-color="#3b0964"/><stop offset="0.2171" stop-color="#5c126e"/><stop offset="0.2268" stop-color="#6a176e"/><stop offset="0.2317" stop-color="#6a176e"/><stop offset="0.2366" stop-color="#65156e"/><stop offset="0.2512" stop-color="#450a69"/><stop offset="0.2610" stop-color="#310a5c"/><stop offset="0.2756" stop-color="#1e0c45"/><stop offset="0.2951" stop-color="#110a30"/><stop offset="0.3146" stop-color="#0b0724"/><stop offset="0.3683" stop-color="#060419"/><stop offset="0.4756" stop-color="#040314"/><stop offset="0.5927" stop-color="#060419"/><stop offset="0.6561" stop-color="#0c0826"/><stop offset="0.6854" stop-color="#150b37"/><stop offset="0.7000" stop-color="#1f0c48"/><stop offset="0.7146" stop-color="#340a5f"/><stop offset="0.7293" stop-color="#540f6d"/><stop offset="0.7390" stop-color="#6a176e"/><stop offset="0.7439" stop-color="#71196e"/><stop offset="0.7488" stop-color="#721a6e"/><stop offset="0.7537" stop-color="#6f196e"/><stop offset="0.7780" stop-color="#4a0c6b"/><stop offset="0.7927" stop-color="#420a68"/><stop offset="0.8220" stop-color="#450a69"/><stop offset="0.9049" stop-color="#62146e"/><stop offset="0.9293" stop-color="#741a6e"/><stop offset="0.9439" stop-color="#84206b"/><stop offset="0.9634" stop-color="#a52c60"/><stop offset="0.9780" stop-color="#c43c4e"/><stop offset="0.9927" stop-color="#e35933"/><stop offset="0.9976" stop-color="#eb6429"/></linearGradient>
<linearGradient id="h47" x1="0" y1="0" x2="0" y2="1"><stop offset="0.0024" stop-color="#972766"/><stop offset="0.0122" stop-color="#771c6d"/><stop offset="0.0220" stop-color="#67166e"/><stop offset="0.0317" stop-color="#61136e"/><stop offset="0.0415" stop-color="#61136e"/><stop offset="0.0561" stop-color="#6c186e"/><stop offset="0.0756" stop-color="#7f1e6c"/><stop offset="0.0854" stop-color="#7d1e6d"/><stop offset="0.1000" stop-color="#6d186e"/><stop offset="0.1244" stop-color="#4a0c6b"/><stop offset="0.1439" stop-color="#380962"/><stop offset="0.1683" stop-color="#2f0a5b"/><stop offset="0.1829" stop-color="#340a5f"/><stop offset="0.1927" stop-color="#3b0964"/><stop offset="0.2024" stop-color="#490b6a"/><stop offset="0.2171" stop-color="#64156e"/><stop offset="0.2220" stop-color="#69166e"/><stop offset="0.2268" stop-color="#69166e"/><stop offset="0.2317" stop-color="#64156e"/><stop offset="0.2463" stop-color="#450a69"/><stop offset="0.2561" stop-color="#310a5c"/><stop offset="0.2659" stop-color="#210c4a"/><stop offset="0.2805" stop-color="#150b37"/><stop offset="0.3049" stop-color="#0c0826"/><stop offset="0.3439" stop-color="#07051b"/><stop offset="0.4024" stop-color="#050417"/><stop offset="0.5293" stop-color="#040314"/><stop offset="0.6122" stop-color="#07051b"/><stop offset="0.6512" stop-color="#0b0724"/><stop offset="0.6756" stop-color="#10092d"/><stop offset="0.7000" stop-color="#1c0c43"/><stop offset="0.7146" stop-color="#2d0b59"/><stop offset="0.7293" stop-color="#4a0c6b"/><stop offset="0.7439" stop-color="#6a176e"/><stop offset="0.7488" stop-color="#71196e"/><stop offset="0.7537" stop-color="#71196e"/><stop offset="0.7683" stop-color="#5d126e"/><stop offset="0.7829" stop-color="#4a0c6b"/><stop offset="0.7927" stop-color="#440a68"/><stop offset="0.8220" stop-color="#440a68"/><stop offset="0.9098" stop-color="#62146e"/><stop offset="0.9341" stop-color="#751b6e"/><stop offset="0.9537" stop-color="#902568"/><stop offset="0.9683" stop-color="#ae305c"/><stop offset="0.9829" stop-color="#cf4446"/><stop offset="0.9976" stop-color="#ea632a"/></linearGradient>
<linearGradient id="h48" x1="0" y1="0" x2="0" y2="1"><stop offset="0.0024" stop-color="#9d2964"/><stop offset="0.0073" stop-color="#8a226a"/><stop offset="0.0122" stop-color="#7c1d6d"/><stop offset="0.0220" stop-color="#6a176e"/><stop offset="0.0317" stop-color="#64156e"/><stop offset="0.0463" stop-color="#69166e"/><stop offset="0.0707" stop-color="#7d1e6d"/><stop offset="0.0805" stop-color="#7d1e6d"/><stop offset="0.0951" stop-color="#6f196e"/><stop offset="0.1195" stop-color="#4c0c6b"/><stop offset="0.1390" stop-color="#380962"/><stop offset="0.1634" stop-color="#2f0a5b"/><stop offset="0.1829" stop-color="#360961"/><stop offset="0.1927" stop-color="#400a67"/><stop offset="0.2122" stop-color="#62146e"/><stop offset="0.2171" stop-color="#67166e"/><stop offset="0.2268" stop-color="#64156e"/><stop offset="0.2415" stop-color="#440a68"/><stop offset="0.2512" stop-color="#310a5c"/><stop offset="0.2610" stop-color="#210c4a"/><stop offset="0.2756" stop-color="#150b37"/><stop offset="0.3000" stop-color="#0c0826"/><stop offset="0.3390" stop-color="#07051b"/><stop offset="0.3976" stop-color="#050417"/><stop offset="0.5244" stop-color="#040314"/><stop offset="0.6171" stop-color="#07051b"/><stop offset="0.6561" stop-color="#0b0724"/><stop offset="0.6756" stop-color="#0e092b"/><stop offset="0.6951" stop-color="#160b39"/><stop offset="0.7098" stop-color="#210c4a"/><stop offset="0.7244" stop-color="#380962"/><stop offset="0.7390" stop-color="#57106e"/><stop offset="0.7488" stop-color="#6c186e"/><stop offset="0.7585" stop-color="#6f196e"/><stop offset="0.7683" stop-color="#62146e"/><stop offset="0.7878" stop-color="#490b6a"/><stop offset="0.7976" stop-color="#420a68"/><stop offset="0.8220" stop-color="#420a68"/><stop offset="0.9049" stop-color="#5d126e"/><stop offset="0.9244" stop-color="#6a176e"/><stop offset="0.9488" stop-color="#87216b"/><stop offset="0.9683" stop-color="#ad305d"/><stop offset="0.9829" stop-color="#ce4347"/><stop offset="0.9976" stop-color="#ea632a"/></linearGradient>
<linearGradient id="h49" x1="0" y1="0" x2="0" y2="1"><stop offset="0.0024" stop-color="#a32c61"/><stop offset="0.0122" stop-color="#801f6c"/><stop offset="0.0220" stop-color="#6f196e"/><stop offset="0.0317" stop-color="#69166e"/><stop offset="0.0463" stop-color="#6d186e"/><stop offset="0.0659" stop-color="#7d1e6d"/><stop offset="0.0756" stop-color="#7f1e6c"/><stop offset="0.0902" stop-color="#71196e"/><stop offset="0.1146" stop-color="#4d0d6c"/><stop offset="0.1341" stop-color="#390963"/><stop offset="0.1488" stop-color="#310a5c"/><stop offset="0.1683" stop-color="#310a5c"/><stop offset="0.1878" stop-color="#3e0966"/><stop offset="0.2073" stop-color="#5f136e"/><stop offset="0.2122" stop-color="#65156e"/><stop offset="0.2171" stop-color="#67166e"/><stop offset="0.2268" stop-color="#5a116e"/><stop offset="0.2415" stop-color="#3b0964"/><stop offset="0.2561" stop-color="#210c4a"/><stop offset="0.2756" stop-color="#120a32"/><stop offset="0.3049" stop-color="#0a0722"/><stop offset="0.3585" stop-color="#060419"/><stop offset="0.4366" stop-color="#040314"/><stop offset="0.5390" stop-color="#040314"/><stop offset="0.6317" stop-color="#08051d"/><stop offset="0.6659" stop-color="#0c0826"/><stop offset="0.6902" stop-color="#120a32"/><stop offset="0.7146" stop-color="#230c4c"/><stop offset="0.7293" stop-color="#390963"/><stop offset="0.7439" stop-color="#5a116e"/><stop offset="0.7537" stop-color="#6c186e"/><stop offset="0.7585" stop-color="#6f196e"/><stop offset="0.7634" stop-color="#6d186e"/><stop offset="0.7878" stop-color="#4a0c6b"/><stop offset="0.8073" stop-color="#400a67"/><stop offset="0.8366" stop-color="#440a68"/><stop offset="0.9049" stop-color="#5a116e"/><stop offset="0.9293" stop-color="#6d186e"/><stop offset="0.9390" stop-color="#771c6d"/><stop offset="0.9585" stop-color="#972766"/><stop offset="0.9732" stop-color="#b63458"/><stop offset="0.9878" stop-color="#d74b3f"/><stop offset="0.9976" stop-color="#e9612b"/></linearGradient>
<linearGradient id="h50" x1="0" y1="0" x2="0" y2="1"><stop offset="0.0024" stop-color="#a92e5e"/><stop offset="0.0073" stop-color="#952667"/><stop offset="0.0171" stop-color="#7c1d6d"/><stop offset="0.0268" stop-color="#6f196e"/><stop offset="0.0415" stop-color="#6f196e"/><stop offset="0.0659" stop-color="#7f1e6c"/><stop offset="0.0756" stop-color="#7d1e6d"/><stop offset="0.1000" stop-color="#5d126e"/><stop offset="0.1195" stop-color="#440a68"/><stop offset="0.1439" stop-color="#320a5e"/><stop offset="0.1585" stop-color="#2f0a5b"/><stop offset="0.1780" stop-color="#380962"/><stop offset="0.1927" stop-color="#4c0c6b"/><stop offset="0.2073" stop-color="#64156e"/><stop offset="0.2171" stop-color="#64156e"/><stop offset="0.2317" stop-color="#470b6a"/><stop offset="0.2415" stop-color="#320a5e"/><stop offset="0.2561" stop-color="#1e0c45"/><stop offset="0.2756" stop-color="#110a30"/><stop offset="0.2951" stop-color="#0b0724"/><stop offset="0.3488" stop-color="#060419"/><stop offset="0.4366" stop-color="#040314"/><stop offset="0.5439" stop-color="#040314"/><stop offset="0.6220" stop-color="#07051b"/><stop offset="0.6707" stop-color="#0c0826"/><stop offset="0.7000" stop-color="#150b37"/><stop offset="0.7146" stop-color="#1f0c48"/><stop offset="0.7293" stop-color="#320a5e"/><stop offset="0.7390" stop-color="#470b6a"/><stop offset="0.7537" stop-color="#67166e"/><stop offset="0.7585" stop-color="#6d186e"/><stop offset="0.7683" stop-color="#6a176e"/><stop offset="0.7878" stop-color="#4d0d6c"/><stop offset="0.8073" stop-color="#400a67"/><stop offset="0.8317" stop-color="#400a67"/><stop offset="0.9049" stop-color="#59106e"/><stop offset="0.9293" stop-color="#6a176e"/><stop offset="0.9488" stop-color="#84206b"/><stop offset="0.9683" stop-color="#a92e5e"/><stop offset="0.9829" stop-color="#cb4149"/><stop offset="0.9976" stop-color="#e9612b"/></linearGradient>
<linearGradient id="h51" x1="0" y1="0" x2="0" y2="1"><stop offset="0.0024" stop-color="#b1325a"/><stop offset="0.0073" stop-color="#9b2964"/><stop offset="0.0122" stop-color="#8c2369"/><stop offset="0.0220" stop-color="#781c6d"/><stop offset="0.0317" stop-color="#71196e"/><stop offset="0.0415" stop-color="#741a6e"/><stop offset="0.0610" stop-color="#801f6c"/><stop offset="0.0756" stop-color="#7c1d6d"/><stop offset="0.1049" stop-color="#520e6d"/><stop offset="0.1244" stop-color="#3b0964"/><stop offset="0.1439" stop-color="#310a5c"/><stop offset="0.1634" stop-color="#310a5c"/><stop offset="0.1780" stop-color="#3b0964"/><stop offset="0.1927" stop-color="#510e6c"/><stop offset="0.2024" stop-color="#61136e"/><stop offset="0.2073" stop-color="#65156e"/><stop offset="0.2122" stop-color="#64156e"/><stop offset="0.2220" stop-color="#540f6d"/><stop offset="0.2317" stop-color="#3e0966"/><stop offset="0.2463" stop-color="#240c4f"/><stop offset="0.2512" stop-color="#1e0c45"/><stop offset="0.2707" stop-color="#110a30"/><stop offset="0.3049" stop-color="#09061f"/><stop offset="0.3683" stop-color="#050417"/><stop offset="0.5439" stop-color="#040314"/><stop offset="0.6415" stop-color="#08051d"/><stop offset="0.6707" stop-color="#0c0826"/><stop offset="0.6854" stop-color="#0e092b"/><stop offset="0.7049" stop-color="#160b39"/><stop offset="0.7195" stop-color="#210c4a"/><stop offset="0.7341" stop-color="#360961"/><stop offset="0.7439" stop-color="#4a0c6b"/><stop offset="0.7537" stop-color="#61136e"/><stop offset="0.7634" stop-color="#6d186e"/><stop offset="0.7732" stop-color="#67166e"/><stop offset="0.7927" stop-color="#4a0c6b"/><stop offset="0.8073" stop-color="#400a67"/><stop offset="0.8415" stop-color="#400a67"/><stop offset="0.9000" stop-color="#540f6d"/><stop offset="0.9293" stop-color="#69166e"/><stop offset="0.9488" stop-color="#82206c"/><stop offset="0.9683" stop-color="#a82e5f"/><stop offset="0.9829" stop-color="#cb4149"/><stop offset="0.9976" stop-color="#e8602d"/></linearGradient>
<linearGradient id="h52" x1="0" y1="0" x2="0" y2="1"><stop offset="0.0024" stop-color="#b73557"/><stop offset="0.0073" stop-color="#a22b62"/><stop offset="0.0122" stop-color="#902568"/><stop offset="0.0220" stop-color="#7d1e6d"/><stop offset="0.0268" stop-color="#771c6d"/><stop offset="0.0415" stop-color="#771c6d"/><stop offset="0.0610" stop-color="#82206c"/><stop offset="0.0756" stop-color="#781c6d"/><stop offset="0.1000" stop-color="#540f6d"/><stop offset="0.1195" stop-color="#3e0966"/><stop offset="0.1390" stop-color="#310a5c"/><stop offset="0.1585" stop-color="#310a5c"/><stop offset="0.1683" stop-color="#340a5f"/><stop offset="0.1829" stop-color="#450a69"/><stop offset="0.2024" stop-color="#64156e"/><stop offset="0.2073" stop-color="#64156e"/><stop offset="0.2171" stop-color="#57106e"/><stop offset="0.2268" stop-color="#420a68"/><stop offset="0.2366" stop-color="#2f0a5b"/><stop offset="0.2463" stop-color="#210c4a"/><stop offset="0.2512" stop-color="#1b0c41"/><stop offset="0.2756" stop-color="#0e092b"/><stop offset="0.3098" stop-color="#08051d"/><stop offset="0.3683" stop-color="#050417"/><stop offset="0.5488" stop-color="#040314"/><stop offset="0.6268" stop-color="#07051b"/><stop offset="0.6756" stop-color="#0c0826"/><stop offset="0.7049" stop-color="#150b37"/><stop offset="0.7195" stop-color="#1f0c48"/><stop offset="0.7293" stop-color="#290b55"/><stop offset="0.7390" stop-color="#3b0964"/><stop offset="0.7537" stop-color="#5a116e"/><stop offset="0.7634" stop-color="#6a176e"/><stop offset="0.7732" stop-color="#6a176e"/><stop offset="0.7976" stop-color="#470b6a"/><stop offset="0.8171" stop-color="#3d0965"/><stop offset="0.8561" stop-color="#420a68"/><stop offset="0.9000" stop-color="#520e6d"/><stop offset="0.9244" stop-color="#62146e"/><stop offset="0.9439" stop-color="#7a1d6d"/><stop offset="0.9585" stop-color="#922568"/><stop offset="0.9732" stop-color="#b3325a"/><stop offset="0.9878" stop-color="#d54a41"/><stop offset="0.9976" stop-color="#e8602d"/></linearGradient>
<linearGradient id="h53" x1="0" y1="0" x2="0" y2="1"><stop offset="0.0024" stop-color="#bf3952"/><stop offset="0.0073" stop-color="#a82e5f"/><stop offset="0.0122" stop-color="#972766"/><stop offset="0.0220" stop-color="#801f6c"/><stop offset="0.0317" stop-color="#7a1d6d"/><stop offset="0.0610" stop-color="#82206c"/><stop offset="0.0707" stop-color="#7c1d6d"/><stop offset="0.0805" stop-color="#6f196e"/><stop offset="0.1049" stop-color="#4a0c6b"/><stop offset="0.1293" stop-color="#340a5f"/><stop offset="0.1488" stop-color="#2f0a5b"/><stop offset="0.1683" stop-color="#360961"/><stop offset="0.1829" stop-color="#490b6a"/><stop offset="0.1976" stop-color="#61136e"/><stop offset="0.2024" stop-color="#64156e"/><stop offset="0.2073" stop-color="#62146e"/><stop offset="0.2220" stop-color="#470b6a"/><stop offset="0.2317" stop-color="#320a5e"/><stop offset="0.2463" stop-color="#1e0c45"/><stop offset="0.2707" stop-color="#0e092b"/><stop offset="0.3000" stop-color="#09061f"/><stop offset="0.3634" stop-color="#050417"/><stop offset="0.5537" stop-color="#040314"/><stop offset="0.6463" stop-color="#08051d"/><stop offset="0.6756" stop-color="#0c0826"/><stop offset="0.6902" stop-color="#0e092b"/><stop offset="0.7098" stop-color="#160b39"/><stop offset="0.7244" stop-color="#210c4a"/><stop offset="0.7390" stop-color="#360961"/><stop offset="0.7488" stop-color="#4a0c6b"/><stop offset="0.7634" stop-color="#67166e"/><stop offset="0.7683" stop-color="#6c186e"/><stop offset="0.7780" stop-color="#65156e"/><stop offset="0.7976" stop-color="#490b6a"/><stop offset="0.8122" stop-color="#3e0966"/><stop offset="0.8317" stop-color="#3b0964"/><stop offset="0.8805" stop-color="#490b6a"/><stop offset="0.9098" stop-color="#550f6d"/><stop offset="0.9293" stop-color="#65156e"/><stop offset="0.9488" stop-color="#7f1e6c"/><stop offset="0.9683" stop-color="#a52c60"/><stop offset="0.9829" stop-color="#c83f4b"/><stop offset="0.9927" stop-color="#df5337"/><stop offset="0.9976" stop-color="#e75e2e"/></linearGradient>
<linearGradient id="h54" x1="0" y1="0" x2="0" y2="1"><stop offset="0.0024" stop-color="#c43c4e"/><stop offset="0.0073" stop-color="#ae305c"/><stop offset="0.0122" stop-color="#9b2964"/><stop offset="0.0171" stop-color="#8d2369"/><stop offset="0.0268" stop-color="#801f6c"/><stop offset="0.0366" stop-color="#7d1e6d"/><stop offset="0.0561" stop-color="#84206b"/><stop offset="0.0707" stop-color="#7a1d6d"/><stop offset="0.0951" stop-color="#550f6d"/><stop offset="0.1098" stop-color="#420a68"/><stop offset="0.1341" stop-color="#310a5c"/><stop offset="0.1585" stop-color="#310a5c"/><stop offset="0.1732" stop-color="#3d0965"/><stop offset="0.1927" stop-color="#5d126e"/><stop offset="0.1976" stop-color="#62146e"/><stop offset="0.2073" stop-color="#5f136e"/><stop offset="0.2220" stop-color="#400a67"/><stop offset="0.2366" stop-color="#260c51"/><stop offset="0.2463" stop-color="#1b0c41"/><stop offset="0.2561" stop-color="#140b34"/><stop offset="0.2951" stop-color="#09061f"/><stop offset="0.3585" stop-color="#050417"/><stop offset="0.5537" stop-color="#040314"/><stop offset="0.6317" stop-color="#07051b"/><stop offset="0.6805" stop-color="#0c0826"/><stop offset="0.7098" stop-color="#150b37"/><stop offset="0.7244" stop-color="#1f0c48"/><stop offset="0.7341" stop-color="#290b55"/><stop offset="0.7439" stop-color="#3b0964"/><stop offset="0.7585" stop-color="#5a116e"/><stop offset="0.7683" stop-color="#6a176e"/><stop offset="0.7780" stop-color="#67166e"/><stop offset="0.7976" stop-color="#4a0c6b"/><stop offset="0.8171" stop-color="#3d0965"/><stop offset="0.8512" stop-color="#3d0965"/><stop offset="0.8951" stop-color="#4c0c6b"/><stop offset="0.9195" stop-color="#5c126e"/><stop offset="0.9439" stop-color="#771c6d"/><stop offset="0.9634" stop-color="#9a2865"/><stop offset="0.9780" stop-color="#bc3754"/><stop offset="0.9927" stop-color="#de5238"/><stop offset="0.9976" stop-color="#e75e2e"/></linearGradient>
<linearGradient id="h55" x1="0" y1="0" x2="0" y2="1"><stop offset="0.0024" stop-color="#c83f4b"/><stop offset="0.0073" stop-color="#b3325a"/><stop offset="0.0122" stop-color="#a02a63"/><stop offset="0.0171" stop-color="#922568"/><stop offset="0.0220" stop-color="#88226a"/><stop offset="0.0317" stop-color="#801f6c"/><stop offset="0.0561" stop-color="#85216b"/><stop offset="0.0659" stop-color="#7f1e6c"/><stop offset="0.0951" stop-color="#520e6d"/><stop offset="0.1146" stop-color="#3b0964"/><stop offset="0.1341" stop-color="#310a5c"/><stop offset="0.1537" stop-color="#2f0a5b"/><stop offset="0.1683" stop-color="#390963"/><stop offset="0.1829" stop-color="#4f0d6c"/><stop offset="0.1927" stop-color="#5f136e"/><stop offset="0.1976" stop-color="#62146e"/><stop offset="0.2024" stop-color="#61136e"/><stop offset="0.2122" stop-color="#510e6c"/><stop offset="0.2220" stop-color="#3b0964"/><stop offset="0.2366" stop-color="#230c4c"/><stop offset="0.2512" stop-color="#160b39"/><stop offset="0.2707" stop-color="#0d0829"/><stop offset="0.2951" stop-color="#09061f"/><stop offset="0.3585" stop-color="#050417"/><stop offset="0.5585" stop-color="#040314"/><stop offset="0.6463" stop-color="#08051d"/><stop offset="0.6805" stop-color="#0c0826"/><stop offset="0.7049" stop-color="#120a32"/><stop offset="0.7195" stop-color="#190c3e"/><stop offset="0.7390" stop-color="#2f0a5b"/><stop offset="0.7537" stop-color="#4c0c6b"/><stop offset="0.7634" stop-color="#61136e"/><stop offset="0.7732" stop-color="#6a176e"/><stop offset="0.7780" stop-color="#69166e"/><stop offset="0.7976" stop-color="#4c0c6b"/><stop offset="0.8122" stop-color="#3e0966"/><stop offset="0.8317" stop-color="#390963"/><stop offset="0.8707" stop-color="#400a67"/><stop offset="0.9098" stop-color="#520e6d"/><stop offset="0.9390" stop-color="#6f196e"/><stop offset="0.9585" stop-color="#8f2469"/><stop offset="0.9732" stop-color="#b0315b"/><stop offset="0.9878" stop-color="#d34743"/><stop offset="0.9976" stop-color="#e65d2f"/></linearGradient>
<linearGradient id="h56" x1="0" y1="0" x2="0" y2="1"><stop offset="0.0024" stop-color="#ce4347"/><stop offset="0.0073" stop-color="#b73557"/><stop offset="0.0122" stop-color="#a32c61"/><stop offset="0.0171" stop-color="#952667"/><stop offset="0.0220" stop-color="#8c2369"/><stop offset="0.0317" stop-color="#84206b"/><stop offset="0.0561" stop-color="#85216b"/><stop offset="0.0707" stop-color="#771c6d"/><stop offset="0.0951" stop-color="#4f0d6c"/><stop offset="0.1195" stop-color="#360961"/><stop offset="0.1439" stop-color="#2d0b59"/><stop offset="0.1634" stop-color="#360961"/><stop offset="0.1780" stop-color="#4a0c6b"/><stop offset="0.1927" stop-color="#61136e"/><stop offset="0.1976" stop-color="#62146e"/><stop offset="0.2024" stop-color="#5f136e"/><stop offset="0.2171" stop-color="#420a68"/><stop offset="0.2268" stop-color="#2f0a5b"/><stop offset="0.2366" stop-color="#210c4a"/><stop offset="0.2415" stop-color="#1b0c41"/><stop offset="0.2659" stop-color="#0e092b"/><stop offset="0.3000" stop-color="#08051d"/><stop offset="0.3585" stop-color="#050417"/><stop offset="0.5488" stop-color="#040314"/><stop offset="0.6366" stop-color="#07051b"/><stop offset="0.6756" stop-color="#0b0724"/><stop offset="0.7000" stop-color="#10092d"/><stop offset="0.7244" stop-color="#1c0c43"/><stop offset="0.7390" stop-color="#2d0b59"/><stop offset="0.7488" stop-color="#3e0966"/><stop offset="0.7634" stop-color="#5d126e"/><stop offset="0.7732" stop-color="#6a176e"/><stop offset="0.7829" stop-color="#64156e"/><stop offset="0.8024" stop-color="#470b6a"/><stop offset="0.8220" stop-color="#390963"/><stop offset="0.8512" stop-color="#390963"/><stop offset="0.8951" stop-color="#490b6a"/><stop offset="0.9244" stop-color="#5d126e"/><stop offset="0.9439" stop-color="#741a6e"/><stop offset="0.9585" stop-color="#8d2369"/><stop offset="0.9732" stop-color="#ae305c"/><stop offset="0.9878" stop-color="#d34743"/><stop offset="0.9976" stop-color="#e65d2f"/></linearGradient>
<linearGradient id="h57" x1="0" y1="0" x2="0" y2="1"><stop offset="0.0024" stop-color="#d24644"/><stop offset="0.0073" stop-color="#ba3655"/><stop offset="0.0171" stop-color="#982766"/><stop offset="0.0220" stop-color="#8f2469"/><stop offset="0.0366" stop-color="#85216b"/><stop offset="0.0561" stop-color="#85216b"/><stop offset="0.0659" stop-color="#7c1d6d"/><stop offset="0.0902" stop-color="#550f6d"/><stop offset="0.1049" stop-color="#420a68"/><stop offset="0.1293" stop-color="#310a5c"/><stop offset="0.1439" stop-color="#2d0b59"/><stop offset="0.1585" stop-color="#320a5e"/><stop offset="0.1732" stop-color="#440a68"/><stop offset="0.1878" stop-color="#5c126e"/><stop offset="0.1927" stop-color="#61136e"/><stop offset="0.1976" stop-color="#61136e"/><stop offset="0.2073" stop-color="#540f6d"/><stop offset="0.2171" stop-color="#3e0966"/><stop offset="0.2317" stop-color="#240c4f"/><stop offset="0.2512" stop-color="#140b34"/><stop offset="0.2756" stop-color="#0b0724"/><stop offset="0.3293" stop-color="#060419"/><stop offset="0.4073" stop-color="#040314"/><stop offset="0.5585" stop-color="#040314"/><stop offset="0.6366" stop-color="#07051b"/><stop offset="0.6854" stop-color="#0c0826"/><stop offset="0.7146" stop-color="#150b37"/><stop offset="0.7293" stop-color="#1f0c48"/><stop offset="0.7390" stop-color="#290b55"/><stop offset="0.7488" stop-color="#3b0964"/><stop offset="0.7634" stop-color="#5a116e"/><stop offset="0.7683" stop-color="#64156e"/><stop offset="0.7732" stop-color="#69166e"/><stop offset="0.7780" stop-color="#69166e"/><stop offset="0.7927" stop-color="#550f6d"/><stop offset="0.8073" stop-color="#420a68"/><stop offset="0.8268" stop-color="#380962"/><stop offset="0.8610" stop-color="#3b0964"/><stop offset="0.9000" stop-color="#4a0c6b"/><stop offset="0.9293" stop-color="#61136e"/><stop offset="0.9537" stop-color="#84206b"/><stop offset="0.9683" stop-color="#a22b62"/><stop offset="0.9829" stop-color="#c63d4d"/><stop offset="0.9976" stop-color="#e65d2f"/></linearGradient>
<linearGradient id="h58" x1="0" y1="0" x2="0" y2="1"><stop offset="0.0024" stop-color="#d44842"/><stop offset="0.0073" stop-color="#bd3853"/><stop offset="0.0122" stop-color="#a92e5e"/><stop offset="0.0171" stop-color="#9b2964"/><stop offset="0.0268" stop-color="#8c2369"/><stop offset="0.0366" stop-color="#88226a"/><stop offset="0.0561" stop-color="#85216b"/><stop offset="0.0659" stop-color="#7c1d6d"/><stop offset="0.0902" stop-color="#540f6d"/><stop offset="0.1098" stop-color="#3b0964"/><stop offset="0.1293" stop-color="#2f0a5b"/><stop offset="0.1488" stop-color="#2f0a5b"/><stop offset="0.1634" stop-color="#380962"/><stop offset="0.1829" stop-color="#550f6d"/><stop offset="0.1878" stop-color="#5d126e"/><stop offset="0.1976" stop-color="#61136e"/><stop offset="0.2073" stop-color="#520e6d"/><stop offset="0.2171" stop-color="#3d0965"/><stop offset="0.2317" stop-color="#230c4c"/><stop offset="0.2463" stop-color="#160b39"/><stop offset="0.2659" stop-color="#0d0829"/><stop offset="0.2902" stop-color="#09061f"/><stop offset="0.3293" stop-color="#060419"/><stop offset="0.4073" stop-color="#040314"/><stop offset="0.5585" stop-color="#040314"/><stop offset="0.6366" stop-color="#07051b"/><stop offset="0.6854" stop-color="#0c0826"/><stop offset="0.7098" stop-color="#120a32"/><stop offset="0.7341" stop-color="#230c4c"/><stop offset="0.7439" stop-color="#310a5c"/><stop offset="0.7585" stop-color="#4d0d6c"/><stop offset="0.7683" stop-color="#61136e"/><stop offset="0.7732" stop-color="#67166e"/><stop offset="0.7780" stop-color="#69166e"/><stop offset="0.7829" stop-color="#65156e"/><stop offset="0.8024" stop-color="#470b6a"/><stop offset="0.8220" stop-color="#390963"/><stop offset="0.8415" stop-color="#360961"/><stop offset="0.8756" stop-color="#3e0966"/><stop offset="0.9049" stop-color="#4c0c6b"/><stop offset="0.9293" stop-color="#61136e"/><stop offset="0.9488" stop-color="#7a1d6d"/><stop offset="0.9634" stop-color="#972766"/><stop offset="0.9780" stop-color="#b93556"/><stop offset="0.9927" stop-color="#dd513a"/><stop offset="0.9976" stop-color="#e55c30"/></linearGradient>
<linearGradient id="h59" x1="0" y1="0" x2="0" y2="1"><stop offset="0.0024" stop-color="#d54a41"/><stop offset="0.0073" stop-color="#c03a51"/><stop offset="0.0122" stop-color="#ad305d"/><stop offset="0.0171" stop-color="#9d2964"/><stop offset="0.0268" stop-color="#8d2369"/><stop offset="0.0415" stop-color="#88226a"/><stop offset="0.0512" stop-color="#88226a"/><stop offset="0.0659" stop-color="#7a1d6d"/><stop offset="0.0902" stop-color="#520e6d"/><stop offset="0.1000" stop-color="#450a69"/><stop offset="0.1146" stop-color="#360961"/><stop offset="0.1390" stop-color="#2d0b59"/><stop offset="0.1585" stop-color="#340a5f"/><stop offset="0.1683" stop-color="#3e0966"/><stop offset="0.1878" stop-color="#5d126e"/><stop offset="0.1927" stop-color="#61136e"/><stop offset="0.1976" stop-color="#5f136e"/><stop offset="0.2073" stop-color="#4f0d6c"/><stop offset="0.2171" stop-color="#3b0964"/><stop offset="0.2317" stop-color="#210c4a"/><stop offset="0.2463" stop-color="#150b37"/><stop offset="0.2707" stop-color="#0c0826"/><stop offset="0.3049" stop-color="#07051b"/><stop offset="0.3927" stop-color="#040314"/><stop offset="0.5634" stop-color="#040314"/><stop offset="0.6512" stop-color="#08051d"/><stop offset="0.6854" stop-color="#0c0826"/><stop offset="0.7146" stop-color="#140b34"/><stop offset="0.7341" stop-color="#210c4a"/><stop offset="0.7488" stop-color="#380962"/><stop offset="0.7634" stop-color="#550f6d"/><stop offset="0.7732" stop-color="#65156e"/><stop offset="0.7829" stop-color="#65156e"/><stop offset="0.8024" stop-color="#470b6a"/><stop offset="0.8171" stop-color="#390963"/><stop offset="0.8415" stop-color="#340a5f"/><stop offset="0.8854" stop-color="#400a67"/><stop offset="0.9098" stop-color="#4f0d6c"/><stop offset="0.9293" stop-color="#5f136e"/><stop offset="0.9488" stop-color="#781c6d"/><stop offset="0.9683" stop-color="#a02a63"/><stop offset="0.9829" stop-color="#c63d4d"/><stop offset="0.9976" stop-color="#e55c30"/></linearGradient>
<linearGradient id="h60" x1="0" y1="0" x2="0" y2="1"><stop offset="0.0024" stop-color="#d84c3e"/><stop offset="0.0073" stop-color="#c13a50"/><stop offset="0.0122" stop-color="#ae305c"/><stop offset="0.0171" stop-color="#9f2a63"/><stop offset="0.0268" stop-color="#8f2469"/><stop offset="0.0415" stop-color="#8a226a"/><stop offset="0.0561" stop-color="#85216b"/><stop offset="0.0707" stop-color="#721a6e"/><stop offset="0.0951" stop-color="#4a0c6b"/><stop offset="0.1146" stop-color="#360961"/><stop offset="0.1390" stop-color="#2d0b59"/><stop offset="0.1585" stop-color="#340a5f"/><stop offset="0.1683" stop-color="#3e0966"/><stop offset="0.1878" stop-color="#5d126e"/><stop offset="0.1927" stop-color="#61136e"/><stop offset="0.1976" stop-color="#5f136e"/><stop offset="0.2122" stop-color="#440a68"/><stop offset="0.2220" stop-color="#2f0a5b"/><stop offset="0.2366" stop-color="#1c0c43"/><stop offset="0.2561" stop-color="#10092d"/><stop offset="0.2951" stop-color="#08051d"/><stop offset="0.3537" stop-color="#050417"/><stop offset="0.5439" stop-color="#040314"/><stop offset="0.6220" stop-color="#060419"/><stop offset="0.6756" stop-color="#0a0722"/><stop offset="0.7049" stop-color="#10092d"/><stop offset="0.7293" stop-color="#1c0c43"/><stop offset="0.7439" stop-color="#2d0b59"/><stop offset="0.7537" stop-color="#400a67"/><stop offset="0.7683" stop-color="#5f136e"/><stop offset="0.7732" stop-color="#65156e"/><stop offset="0.7780" stop-color="#67166e"/><stop offset="0.7878" stop-color="#5d126e"/><stop offset="0.8073" stop-color="#420a68"/><stop offset="0.8220" stop-color="#380962"/><stop offset="0.8415" stop-color="#340a5f"/><stop offset="0.8756" stop-color="#3b0964"/><stop offset="0.9049" stop-color="#4a0c6b"/><stop offset="0.9244" stop-color="#59106e"/><stop offset="0.9488" stop-color="#781c6d"/><stop offset="0.9634" stop-color="#952667"/><stop offset="0.9780" stop-color="#b93556"/><stop offset="0.9927" stop-color="#db503b"/><stop offset="0.9976" stop-color="#e55c30"/></linearGradient>
<linearGradient id="h61" x1="0" y1="0" x2="0" y2="1"><stop offset="0.0024" stop-color="#d84c3e"/><stop offset="0.0073" stop-color="#c13a50"/><stop offset="0.0122" stop-color="#ae305c"/><stop offset="0.0171" stop-color="#9f2a63"/><stop offset="0.0268" stop-color="#8f2469"/><stop offset="0.0415" stop-color="#8a226a"/><stop offset="0.0561" stop-color="#85216b"/><stop offset="0.0659" stop-color="#781c6d"/><stop offset="0.0902" stop-color="#510e6c"/><stop offset="0.1098" stop-color="#390963"/><stop offset="0.1293" stop-color="#2d0b59"/><stop offset="0.1488" stop-color="#2f0a5b"/><stop offset="0.1634" stop-color="#390963"/><stop offset="0.1732" stop-color="#470b6a"/><stop offset="0.1878" stop-color="#5d126e"/><stop offset="0.1927" stop-color="#61136e"/><stop offset="0.2024" stop-color="#57106e"/><stop offset="0.2122" stop-color="#420a68"/><stop offset="0.2220" stop-color="#2f0a5b"/><stop offset="0.2317" stop-color="#210c4a"/><stop offset="0.2366" stop-color="#1b0c41"/><stop offset="0.2610" stop-color="#0e092b"/><stop offset="0.2951" stop-color="#08051d"/><stop offset="0.3537" stop-color="#050417"/><stop offset="0.5439" stop-color="#040314"/><stop offset="0.6220" stop-color="#060419"/><stop offset="0.6756" stop-color="#0a0722"/><stop offset="0.7049" stop-color="#10092d"/><stop offset="0.7293" stop-color="#1c0c43"/><stop offset="0.7439" stop-color="#2d0b59"/><stop offset="0.7585" stop-color="#4a0c6b"/><stop offset="0.7683" stop-color="#5d126e"/><stop offset="0.7780" stop-color="#67166e"/><stop offset="0.7878" stop-color="#5d126e"/><stop offset="0.8073" stop-color="#400a67"/><stop offset="0.8268" stop-color="#340a5f"/><stop offset="0.8561" stop-color="#340a5f"/><stop offset="0.9000" stop-color="#450a69"/><stop offset="0.9341" stop-color="#62146e"/><stop offset="0.9537" stop-color="#801f6c"/><stop offset="0.9683" stop-color="#9f2a63"/><stop offset="0.9829" stop-color="#c43c4e"/><stop offset="0.9976" stop-color="#e45a31"/></linearGradient>
<filter id="fh" x="-0.05" y="-0.05" width="1.1" height="1.1" color-interpolation-filters="sRGB"><feGaussianBlur stdDeviation="1.1 0"/></filter>
<linearGradient id="cbi" x1="0" y1="0" x2="1" y2="0"><stop offset="0.000" stop-color="#000004"/><stop offset="0.031" stop-color="#040312"/><stop offset="0.062" stop-color="#0b0724"/><stop offset="0.094" stop-color="#150b37"/><stop offset="0.125" stop-color="#210c4a"/><stop offset="0.156" stop-color="#2f0a5b"/><stop offset="0.188" stop-color="#3d0965"/><stop offset="0.219" stop-color="#4a0c6b"/><stop offset="0.250" stop-color="#57106e"/><stop offset="0.281" stop-color="#64156e"/><stop offset="0.312" stop-color="#71196e"/><stop offset="0.344" stop-color="#7d1e6d"/><stop offset="0.375" stop-color="#8a226a"/><stop offset="0.406" stop-color="#972766"/><stop offset="0.438" stop-color="#a32c61"/><stop offset="0.469" stop-color="#b0315b"/><stop offset="0.500" stop-color="#bc3754"/><stop offset="0.531" stop-color="#c73e4c"/><stop offset="0.562" stop-color="#d24644"/><stop offset="0.594" stop-color="#db503b"/><stop offset="0.625" stop-color="#e45a31"/><stop offset="0.656" stop-color="#eb6628"/><stop offset="0.688" stop-color="#f1731d"/><stop offset="0.719" stop-color="#f68013"/><stop offset="0.750" stop-color="#f98e09"/><stop offset="0.781" stop-color="#fb9d07"/><stop offset="0.812" stop-color="#fcac11"/><stop offset="0.844" stop-color="#fbbc21"/><stop offset="0.875" stop-color="#f9cb35"/><stop offset="0.906" stop-color="#f5db4c"/><stop offset="0.938" stop-color="#f2ea69"/><stop offset="0.969" stop-color="#f3f68a"/><stop offset="1.000" stop-color="#fcffa4"/></linearGradient>
<linearGradient id="cbc" x1="0" y1="0" x2="1" y2="0"><stop offset="0" stop-color="#0000ff"/><stop offset="0.5" stop-color="#fff"/><stop offset="1" stop-color="#ff0000"/></linearGradient>
<linearGradient id="he1" gradientUnits="userSpaceOnUse" x1="269.9" y1="0" x2="380.9" y2="0"><stop offset="0.0000" stop-color="#00ff08"/><stop offset="0.0225" stop-color="#00ff08"/><stop offset="0.0450" stop-color="#00ff07"/><stop offset="0.0676" stop-color="#00ff06"/><stop offset="0.0901" stop-color="#00ff05"/><stop offset="0.1126" stop-color="#00ff04"/><stop offset="0.1351" stop-color="#00ff04"/><stop offset="0.1577" stop-color="#00ff03"/><stop offset="0.1802" stop-color="#00ff02"/><stop offset="0.2027" stop-color="#00ff01"/><stop offset="0.2252" stop-color="#00ff00"/><stop offset="0.2477" stop-color="#14ff00"/><stop offset="0.2703" stop-color="#37ff00"/><stop offset="0.2928" stop-color="#59ff00"/><stop offset="0.3153" stop-color="#70ff00"/><stop offset="0.3378" stop-color="#88ff00"/><stop offset="0.3604" stop-color="#a0ff00"/><stop offset="0.3829" stop-color="#b3ff00"/><stop offset="0.4054" stop-color="#c4ff00"/><stop offset="0.4279" stop-color="#d5ff00"/><stop offset="0.4505" stop-color="#e6ff00"/><stop offset="0.4730" stop-color="#f7ff00"/><stop offset="0.4955" stop-color="#fff300"/><stop offset="0.5180" stop-color="#ffde00"/><stop offset="0.5405" stop-color="#ffc900"/><stop offset="0.5631" stop-color="#ffb300"/><stop offset="0.5856" stop-color="#ff9e00"/><stop offset="0.6081" stop-color="#ff8900"/><stop offset="0.6306" stop-color="#ff7400"/><stop offset="0.6532" stop-color="#ff6200"/><stop offset="0.6757" stop-color="#ff5300"/><stop offset="0.6982" stop-color="#ff4400"/><stop offset="0.7207" stop-color="#ff3500"/><stop offset="0.7432" stop-color="#ff2600"/><stop offset="0.7658" stop-color="#ff1a00"/><stop offset="0.7883" stop-color="#ff0f00"/><stop offset="0.8108" stop-color="#ff0500"/><stop offset="0.8333" stop-color="#ff0003"/><stop offset="0.8559" stop-color="#ff0007"/><stop offset="0.8784" stop-color="#ff000b"/><stop offset="0.9009" stop-color="#ff0010"/><stop offset="0.9234" stop-color="#ff0014"/><stop offset="0.9459" stop-color="#ff0019"/><stop offset="0.9685" stop-color="#ff001d"/><stop offset="0.9910" stop-color="#ff0022"/></linearGradient>
<linearGradient id="he2" gradientUnits="userSpaceOnUse" x1="269.9" y1="0" x2="380.9" y2="0"><stop offset="0.0000" stop-color="#ff0022"/><stop offset="0.0225" stop-color="#ff002e"/><stop offset="0.0450" stop-color="#ff003a"/><stop offset="0.0676" stop-color="#ff006d"/><stop offset="0.0901" stop-color="#ff00b7"/><stop offset="0.1126" stop-color="#ff00f1"/><stop offset="0.1351" stop-color="#d900ff"/><stop offset="0.1577" stop-color="#a800ff"/><stop offset="0.1802" stop-color="#7d00ff"/><stop offset="0.2027" stop-color="#6000ff"/><stop offset="0.2252" stop-color="#4300ff"/><stop offset="0.2477" stop-color="#2a00ff"/><stop offset="0.2703" stop-color="#2600ff"/><stop offset="0.2928" stop-color="#2100ff"/><stop offset="0.3153" stop-color="#1d00ff"/><stop offset="0.3378" stop-color="#1900ff"/><stop offset="0.3604" stop-color="#1500ff"/><stop offset="0.3829" stop-color="#1000ff"/><stop offset="0.4054" stop-color="#0c00ff"/><stop offset="0.4279" stop-color="#0800ff"/><stop offset="0.4505" stop-color="#0400ff"/><stop offset="0.4730" stop-color="#0001ff"/><stop offset="0.4955" stop-color="#0008ff"/><stop offset="0.5180" stop-color="#000fff"/><stop offset="0.5405" stop-color="#0016ff"/><stop offset="0.5631" stop-color="#001dff"/><stop offset="0.5856" stop-color="#0024ff"/><stop offset="0.6081" stop-color="#002bff"/><stop offset="0.6306" stop-color="#0032ff"/><stop offset="0.6532" stop-color="#0039ff"/><stop offset="0.6757" stop-color="#003fff"/><stop offset="0.6982" stop-color="#0059ff"/><stop offset="0.7207" stop-color="#0074ff"/><stop offset="0.7432" stop-color="#008eff"/><stop offset="0.7658" stop-color="#00a9ff"/><stop offset="0.7883" stop-color="#00c7ff"/><stop offset="0.8108" stop-color="#00e5ff"/><stop offset="0.8333" stop-color="#00fffb"/><stop offset="0.8559" stop-color="#00ffe0"/><stop offset="0.8784" stop-color="#00ffc6"/><stop offset="0.9009" stop-color="#00ffab"/><stop offset="0.9234" stop-color="#00ff91"/><stop offset="0.9459" stop-color="#00ff79"/><stop offset="0.9685" stop-color="#00ff67"/><stop offset="0.9910" stop-color="#00ff56"/></linearGradient>
<linearGradient id="he3" gradientUnits="userSpaceOnUse" x1="269.9" y1="0" x2="380.9" y2="0"><stop offset="0.0000" stop-color="#00ff15"/><stop offset="0.0225" stop-color="#00ff13"/><stop offset="0.0450" stop-color="#00ff10"/><stop offset="0.0676" stop-color="#00ff0d"/><stop offset="0.0901" stop-color="#00ff0b"/><stop offset="0.1126" stop-color="#00ff08"/><stop offset="0.1351" stop-color="#00ff05"/><stop offset="0.1577" stop-color="#00ff03"/><stop offset="0.1802" stop-color="#00ff00"/><stop offset="0.2027" stop-color="#03ff00"/><stop offset="0.2252" stop-color="#05ff00"/><stop offset="0.2477" stop-color="#08ff00"/><stop offset="0.2703" stop-color="#20ff00"/><stop offset="0.2928" stop-color="#3eff00"/><stop offset="0.3153" stop-color="#5dff00"/><stop offset="0.3378" stop-color="#76ff00"/><stop offset="0.3604" stop-color="#8bff00"/><stop offset="0.3829" stop-color="#a1ff00"/><stop offset="0.4054" stop-color="#b6ff00"/><stop offset="0.4279" stop-color="#caff00"/><stop offset="0.4505" stop-color="#deff00"/><stop offset="0.4730" stop-color="#f2ff00"/><stop offset="0.4955" stop-color="#fff800"/><stop offset="0.5180" stop-color="#ffe400"/><stop offset="0.5405" stop-color="#ffd000"/><stop offset="0.5631" stop-color="#ffbc00"/><stop offset="0.5856" stop-color="#ffaa00"/><stop offset="0.6081" stop-color="#ff9800"/><stop offset="0.6306" stop-color="#ff8600"/><stop offset="0.6532" stop-color="#ff7500"/><stop offset="0.6757" stop-color="#ff6600"/><stop offset="0.6982" stop-color="#ff5700"/><stop offset="0.7207" stop-color="#ff4800"/><stop offset="0.7432" stop-color="#ff3a00"/><stop offset="0.7658" stop-color="#ff3000"/><stop offset="0.7883" stop-color="#ff2700"/><stop offset="0.8108" stop-color="#ff1d00"/><stop offset="0.8333" stop-color="#ff1400"/><stop offset="0.8559" stop-color="#ff0f00"/><stop offset="0.8784" stop-color="#ff0a00"/><stop offset="0.9009" stop-color="#ff0400"/><stop offset="0.9234" stop-color="#ff0001"/><stop offset="0.9459" stop-color="#ff0006"/><stop offset="0.9685" stop-color="#ff000b"/><stop offset="0.9910" stop-color="#ff0011"/></linearGradient>
<linearGradient id="he4" gradientUnits="userSpaceOnUse" x1="269.9" y1="0" x2="380.9" y2="0"><stop offset="0.0000" stop-color="#ff00b3"/><stop offset="0.0225" stop-color="#ff00c3"/><stop offset="0.0450" stop-color="#ff00d5"/><stop offset="0.0676" stop-color="#ff00f0"/><stop offset="0.0901" stop-color="#ec00ff"/><stop offset="0.1126" stop-color="#d100ff"/><stop offset="0.1351" stop-color="#bc00ff"/><stop offset="0.1577" stop-color="#a900ff"/><stop offset="0.1802" stop-color="#a500ff"/><stop offset="0.2027" stop-color="#a000ff"/><stop offset="0.2252" stop-color="#9c00ff"/><stop offset="0.2477" stop-color="#9700ff"/><stop offset="0.2703" stop-color="#9300ff"/><stop offset="0.2928" stop-color="#8e00ff"/><stop offset="0.3153" stop-color="#8900ff"/><stop offset="0.3378" stop-color="#8500ff"/><stop offset="0.3604" stop-color="#8000ff"/><stop offset="0.3829" stop-color="#7c00ff"/><stop offset="0.4054" stop-color="#7700ff"/><stop offset="0.4279" stop-color="#5800ff"/><stop offset="0.4505" stop-color="#3900ff"/><stop offset="0.4730" stop-color="#1d00ff"/><stop offset="0.4955" stop-color="#0500ff"/><stop offset="0.5180" stop-color="#0016ff"/><stop offset="0.5405" stop-color="#0032ff"/><stop offset="0.5631" stop-color="#004cff"/><stop offset="0.5856" stop-color="#0067ff"/><stop offset="0.6081" stop-color="#007aff"/><stop offset="0.6306" stop-color="#0088ff"/><stop offset="0.6532" stop-color="#0096ff"/><stop offset="0.6757" stop-color="#00a4ff"/><stop offset="0.6982" stop-color="#00b2ff"/><stop offset="0.7207" stop-color="#00c0ff"/><stop offset="0.7432" stop-color="#00cdff"/><stop offset="0.7658" stop-color="#00dbff"/><stop offset="0.7883" stop-color="#00e5ff"/><stop offset="0.8108" stop-color="#00ecff"/><stop offset="0.8333" stop-color="#00f2ff"/><stop offset="0.8559" stop-color="#00f9ff"/><stop offset="0.8784" stop-color="#00fffe"/><stop offset="0.9009" stop-color="#00fff8"/><stop offset="0.9234" stop-color="#00fff1"/><stop offset="0.9459" stop-color="#00ffeb"/><stop offset="0.9685" stop-color="#00ffe4"/><stop offset="0.9910" stop-color="#00ffdd"/></linearGradient>
<linearGradient id="he5" gradientUnits="userSpaceOnUse" x1="269.9" y1="0" x2="380.9" y2="0"><stop offset="0.0000" stop-color="#00ff15"/><stop offset="0.0225" stop-color="#00ff12"/><stop offset="0.0450" stop-color="#00ff0f"/><stop offset="0.0676" stop-color="#00ff0b"/><stop offset="0.0901" stop-color="#00ff08"/><stop offset="0.1126" stop-color="#00ff04"/><stop offset="0.1351" stop-color="#00ff01"/><stop offset="0.1577" stop-color="#02ff00"/><stop offset="0.1802" stop-color="#06ff00"/><stop offset="0.2027" stop-color="#40ff00"/><stop offset="0.2252" stop-color="#83ff00"/><stop offset="0.2477" stop-color="#92ff00"/><stop offset="0.2703" stop-color="#a0ff00"/><stop offset="0.2928" stop-color="#afff00"/><stop offset="0.3153" stop-color="#beff00"/><stop offset="0.3378" stop-color="#ceff00"/><stop offset="0.3604" stop-color="#ddff00"/><stop offset="0.3829" stop-color="#ebff00"/><stop offset="0.4054" stop-color="#efff00"/><stop offset="0.4279" stop-color="#f4ff00"/><stop offset="0.4505" stop-color="#f9ff00"/><stop offset="0.4730" stop-color="#feff00"/><stop offset="0.4955" stop-color="#fffb00"/><stop offset="0.5180" stop-color="#fff700"/><stop offset="0.5405" stop-color="#fff200"/><stop offset="0.5631" stop-color="#ffed00"/><stop offset="0.5856" stop-color="#ffe100"/><stop offset="0.6081" stop-color="#ffca00"/><stop offset="0.6306" stop-color="#ffb200"/><stop offset="0.6532" stop-color="#ff9a00"/><stop offset="0.6757" stop-color="#ff8b00"/><stop offset="0.6982" stop-color="#ff7f00"/><stop offset="0.7207" stop-color="#ff7300"/><stop offset="0.7432" stop-color="#ff6700"/><stop offset="0.7658" stop-color="#ff5b00"/><stop offset="0.7883" stop-color="#ff4e00"/><stop offset="0.8108" stop-color="#ff000b"/><stop offset="0.8333" stop-color="#ff0011"/><stop offset="0.8559" stop-color="#ff0017"/><stop offset="0.8784" stop-color="#ff001d"/><stop offset="0.9009" stop-color="#ff0023"/><stop offset="0.9234" stop-color="#ff0029"/><stop offset="0.9459" stop-color="#ff002f"/><stop offset="0.9685" stop-color="#ff0035"/><stop offset="0.9910" stop-color="#ff003b"/></linearGradient>
<filter id="fe" x="-0.1" y="-0.1" width="1.2" height="1.2" color-interpolation-filters="sRGB"><feGaussianBlur stdDeviation="1.3"/></filter>
<linearGradient id="cbe" x1="0" y1="0" x2="1" y2="0"><stop offset="0.0000" stop-color="#ff0000"/><stop offset="0.0833" stop-color="#ff7f00"/><stop offset="0.1667" stop-color="#ffff00"/><stop offset="0.2500" stop-color="#80ff00"/><stop offset="0.3333" stop-color="#00ff00"/><stop offset="0.4167" stop-color="#00ff7f"/><stop offset="0.5000" stop-color="#00ffff"/><stop offset="0.5833" stop-color="#0080ff"/><stop offset="0.6667" stop-color="#0000ff"/><stop offset="0.7500" stop-color="#7f00ff"/><stop offset="0.8333" stop-color="#ff00ff"/><stop offset="0.9167" stop-color="#ff0080"/><stop offset="1.0000" stop-color="#ff0000"/></linearGradient>
<linearGradient id="vW" x1="0" y1="0" x2="0" y2="1"><stop offset="0" stop-color="#fff" stop-opacity="0"/><stop offset="0.25" stop-color="#fff" stop-opacity="0.45"/><stop offset="0.5" stop-color="#fff" stop-opacity="1"/><stop offset="0.75" stop-color="#fff" stop-opacity="0.45"/><stop offset="1" stop-color="#fff" stop-opacity="0"/></linearGradient>
<linearGradient id="vK" x1="0" y1="0" x2="0" y2="1"><stop offset="0" stop-color="#000" stop-opacity="0"/><stop offset="0.25" stop-color="#000" stop-opacity="0.45"/><stop offset="0.5" stop-color="#000" stop-opacity="1"/><stop offset="0.75" stop-color="#000" stop-opacity="0.45"/><stop offset="1" stop-color="#000" stop-opacity="0"/></linearGradient>
<linearGradient id="cbf" x1="0" y1="0" x2="1" y2="0"><stop offset="0.000" stop-color="#276419"/><stop offset="0.050" stop-color="#397a1d"/><stop offset="0.100" stop-color="#4c9121"/><stop offset="0.150" stop-color="#66a731"/><stop offset="0.200" stop-color="#7fbc41"/><stop offset="0.250" stop-color="#9ccf64"/><stop offset="0.300" stop-color="#b7e085"/><stop offset="0.350" stop-color="#cfebaa"/><stop offset="0.400" stop-color="#e6f5d0"/><stop offset="0.450" stop-color="#eff6e4"/><stop offset="0.500" stop-color="#f7f7f7"/><stop offset="0.550" stop-color="#faecf3"/><stop offset="0.600" stop-color="#fde0ef"/><stop offset="0.650" stop-color="#f7cbe4"/><stop offset="0.700" stop-color="#f1b5d9"/><stop offset="0.750" stop-color="#e795c3"/><stop offset="0.800" stop-color="#de77ae"/><stop offset="0.850" stop-color="#d14895"/><stop offset="0.900" stop-color="#c41a7c"/><stop offset="0.950" stop-color="#a80d66"/><stop offset="1.000" stop-color="#8e0152"/></linearGradient>
</defs>
<clipPath id="ca"><rect x="20.5" y="34.5" width="127.69999999999999" height="253.10000000000002"/></clipPath>
<g clip-path="url(#ca)">
<rect x="20.5" y="34.5" width="127.69999999999999" height="253.10000000000002" fill="#e6e6e6"/>
<path d="M-1.85,96.80 L16.80,108.20 L35.45,96.80 L54.10,108.20 L72.75,96.80 L91.40,108.20 L110.05,96.80 L128.70,108.20 L147.35,96.80 L166.00,108.20 L184.65,96.80 L193.85,214.40 L175.20,225.00 L156.55,214.40 L137.90,225.00 L119.25,214.40 L100.60,225.00 L81.95,214.40 L63.30,225.00 L44.65,214.40 L26.00,225.00 L7.35,214.40 L-11.30,225.00 L-29.95,214.40Z" fill="#ffd95c"/>
<path d="M16.80,63.75 L35.45,74.50 L35.45,96.80 L16.80,108.20 L-1.85,96.80 L-1.85,74.50Z" fill="none" stroke="#9a9a9a" stroke-width="1.15"/>
<path d="M54.10,63.75 L72.75,74.50 L72.75,96.80 L54.10,108.20 L35.45,96.80 L35.45,74.50Z" fill="none" stroke="#9a9a9a" stroke-width="1.15"/>
<path d="M91.40,63.75 L110.05,74.50 L110.05,96.80 L91.40,108.20 L72.75,96.80 L72.75,74.50Z" fill="none" stroke="#9a9a9a" stroke-width="1.15"/>
<path d="M128.70,63.75 L147.35,74.50 L147.35,96.80 L128.70,108.20 L110.05,96.80 L110.05,74.50Z" fill="none" stroke="#9a9a9a" stroke-width="1.15"/>
<path d="M166.00,63.75 L184.65,74.50 L184.65,96.80 L166.00,108.20 L147.35,96.80 L147.35,74.50Z" fill="none" stroke="#9a9a9a" stroke-width="1.15"/>
<path d="M7.35,214.40 L26.00,225.00 L26.00,248.00 L7.35,258.70 L-11.30,248.00 L-11.30,225.00Z" fill="none" stroke="#9a9a9a" stroke-width="1.15"/>
<path d="M44.65,214.40 L63.30,225.00 L63.30,248.00 L44.65,258.70 L26.00,248.00 L26.00,225.00Z" fill="none" stroke="#9a9a9a" stroke-width="1.15"/>
<path d="M81.95,214.40 L100.60,225.00 L100.60,248.00 L81.95,258.70 L63.30,248.00 L63.30,225.00Z" fill="none" stroke="#9a9a9a" stroke-width="1.15"/>
<path d="M119.25,214.40 L137.90,225.00 L137.90,248.00 L119.25,258.70 L100.60,248.00 L100.60,225.00Z" fill="none" stroke="#9a9a9a" stroke-width="1.15"/>
<path d="M156.55,214.40 L175.20,225.00 L175.20,248.00 L156.55,258.70 L137.90,248.00 L137.90,225.00Z" fill="none" stroke="#9a9a9a" stroke-width="1.15"/>
<path d="M-1.85,96.80 L16.80,108.20 L16.80,131.20 L-1.85,141.60 L-20.50,131.20 L-20.50,108.20Z" fill="none" stroke="#b3963a" stroke-width="1.25"/>
<path d="M35.45,96.80 L54.10,108.20 L54.10,131.20 L35.45,141.60 L16.80,131.20 L16.80,108.20Z" fill="none" stroke="#b3963a" stroke-width="1.25"/>
<path d="M72.75,96.80 L91.40,108.20 L91.40,131.20 L72.75,141.60 L54.10,131.20 L54.10,108.20Z" fill="none" stroke="#b3963a" stroke-width="1.25"/>
<path d="M110.05,96.80 L128.70,108.20 L128.70,131.20 L110.05,141.60 L91.40,131.20 L91.40,108.20Z" fill="none" stroke="#b3963a" stroke-width="1.25"/>
<path d="M147.35,96.80 L166.00,108.20 L166.00,131.20 L147.35,141.60 L128.70,131.20 L128.70,108.20Z" fill="none" stroke="#b3963a" stroke-width="1.25"/>
<path d="M184.65,96.80 L203.30,108.20 L203.30,131.20 L184.65,141.60 L166.00,131.20 L166.00,108.20Z" fill="none" stroke="#b3963a" stroke-width="1.25"/>
<path d="M-11.30,180.50 L7.35,191.25 L7.35,214.40 L-11.30,225.00 L-29.95,214.40 L-29.95,191.25Z" fill="none" stroke="#b3963a" stroke-width="1.25"/>
<path d="M26.00,180.50 L44.65,191.25 L44.65,214.40 L26.00,225.00 L7.35,214.40 L7.35,191.25Z" fill="none" stroke="#b3963a" stroke-width="1.25"/>
<path d="M63.30,180.50 L81.95,191.25 L81.95,214.40 L63.30,225.00 L44.65,214.40 L44.65,191.25Z" fill="none" stroke="#b3963a" stroke-width="1.25"/>
<path d="M100.60,180.50 L119.25,191.25 L119.25,214.40 L100.60,225.00 L81.95,214.40 L81.95,191.25Z" fill="none" stroke="#b3963a" stroke-width="1.25"/>
<path d="M137.90,180.50 L156.55,191.25 L156.55,214.40 L137.90,225.00 L119.25,214.40 L119.25,191.25Z" fill="none" stroke="#b3963a" stroke-width="1.25"/>
<path d="M175.20,180.50 L193.85,191.25 L193.85,214.40 L175.20,225.00 L156.55,214.40 L156.55,191.25Z" fill="none" stroke="#b3963a" stroke-width="1.25"/>
<path d="M-1.85,96.80 L16.80,108.20 L35.45,96.80 L54.10,108.20 L72.75,96.80 L91.40,108.20 L110.05,96.80 L128.70,108.20 L147.35,96.80 L166.00,108.20 L184.65,96.80" fill="none" stroke="#0c0cb4" stroke-width="2.7" stroke-linejoin="miter"/>
<path d="M-29.95,214.40 L-11.30,225.00 L7.35,214.40 L26.00,225.00 L44.65,214.40 L63.30,225.00 L81.95,214.40 L100.60,225.00 L119.25,214.40 L137.90,225.00 L156.55,214.40 L175.20,225.00 L193.85,214.40" fill="none" stroke="#e60d0d" stroke-width="2.7" stroke-linejoin="miter"/>
<path d="M128,77.6 L136.1,91.9 L120.0,91.9Z" fill="none" stroke="#333" stroke-width="1.0" stroke-dasharray="1.6 0.9"/>
<path d="M109.7,105.2 L121.8,127 L97.6,127Z" fill="none" stroke="#333" stroke-width="1.0" stroke-dasharray="1.6 0.9"/>
<path d="M63.3,188.8 L75.4,210.8 L51.3,210.8Z" fill="none" stroke="#333" stroke-width="1.0" stroke-dasharray="1.6 0.9"/>
<path d="M44.6,227 L52.5,241.2 L36.8,241.2Z" fill="none" stroke="#333" stroke-width="1.0" stroke-dasharray="1.6 0.9"/>
</g>
<rect x="20.5" y="34.5" width="127.69999999999999" height="253.10000000000002" fill="none" stroke="#1a1a1a" stroke-width="1.3"/>
<text transform="translate(11.14,15.35) scale(1.1649,1)" font-size="16.8" ><tspan>(a)</tspan></text>
<text transform="translate(65.76,56.50) scale(1.0895,1)" font-size="16.8" ><tspan font-style="italic">δ</tspan><tspan> &lt; 0</tspan></text>
<text transform="translate(65.96,166.50) scale(1.0955,1)" font-size="16.8" ><tspan font-style="italic">δ</tspan><tspan> &gt; 0</tspan></text>
<text transform="translate(65.76,276.40) scale(1.0895,1)" font-size="16.8" ><tspan font-style="italic">δ</tspan><tspan> &lt; 0</tspan></text>
<text x="84.3" y="25.2" font-size="13" text-anchor="middle" style="font-family:'DejaVu Sans','Liberation Sans',sans-serif">⋮</text>
<text x="84.3" y="305.5" font-size="13" text-anchor="middle" style="font-family:'DejaVu Sans','Liberation Sans',sans-serif">⋮</text>
<text x="6.9" y="166" font-size="13" text-anchor="middle" style="font-family:'DejaVu Sans','Liberation Sans',sans-serif">⋯</text>
<text x="162.7" y="166" font-size="13" text-anchor="middle" style="font-family:'DejaVu Sans','Liberation Sans',sans-serif">⋯</text>
<clipPath id="cb0"><rect x="253.75" y="12.0" width="247.5" height="204.25"/></clipPath>
<g clip-path="url(#cb0)"><g filter="url(#fh)">
<rect x="247.76" y="12.0" width="3.50" height="204.25" fill="url(#h0)"/>
<rect x="249.76" y="12.0" width="3.50" height="204.25" fill="url(#h0)"/>
<rect x="251.75" y="12.0" width="3.50" height="204.25" fill="url(#h0)"/>
<rect x="253.75" y="12.0" width="3.50" height="204.25" fill="url(#h0)"/>
<rect x="255.75" y="12.0" width="3.50" height="204.25" fill="url(#h1)"/>
<rect x="257.74" y="12.0" width="3.50" height="204.25" fill="url(#h2)"/>
<rect x="259.74" y="12.0" width="3.50" height="204.25" fill="url(#h3)"/>
<rect x="261.73" y="12.0" width="3.50" height="204.25" fill="url(#h4)"/>
<rect x="263.73" y="12.0" width="3.50" height="204.25" fill="url(#h5)"/>
<rect x="265.73" y="12.0" width="3.50" height="204.25" fill="url(#h6)"/>
<rect x="267.72" y="12.0" width="3.50" height="204.25" fill="url(#h7)"/>
<rect x="269.72" y="12.0" width="3.50" height="204.25" fill="url(#h8)"/>
<rect x="271.71" y="12.0" width="3.50" height="204.25" fill="url(#h9)"/>
<rect x="273.71" y="12.0" width="3.50" height="204.25" fill="url(#h10)"/>
<rect x="275.71" y="12.0" width="3.50" height="204.25" fill="url(#h11)"/>
<rect x="277.70" y="12.0" width="3.50" height="204.25" fill="url(#h12)"/>
<rect x="279.70" y="12.0" width="3.50" height="204.25" fill="url(#h13)"/>
<rect x="281.69" y="12.0" width="3.50" height="204.25" fill="url(#h14)"/>
<rect x="283.69" y="12.0" width="3.50" height="204.25" fill="url(#h15)"/>
<rect x="285.69" y="12.0" width="3.50" height="204.25" fill="url(#h16)"/>
<rect x="287.68" y="12.0" width="3.50" height="204.25" fill="url(#h17)"/>
<rect x="289.68" y="12.0" width="3.50" height="204.25" fill="url(#h18)"/>
<rect x="291.67" y="12.0" width="3.50" height="204.25" fill="url(#h19)"/>
<rect x="293.67" y="12.0" width="3.50" height="204.25" fill="url(#h20)"/>
<rect x="295.67" y="12.0" width="3.50" height="204.25" fill="url(#h21)"/>
<rect x="297.66" y="12.0" width="3.50" height="204.25" fill="url(#h22)"/>
<rect x="299.66" y="12.0" width="3.50" height="204.25" fill="url(#h23)"/>
<rect x="301.65" y="12.0" width="3.50" height="204.25" fill="url(#h24)"/>
<rect x="303.65" y="12.0" width="3.50" height="204.25" fill="url(#h25)"/>
<rect x="305.65" y="12.0" width="3.50" height="204.25" fill="url(#h26)"/>
<rect x="307.64" y="12.0" width="3.50" height="204.25" fill="url(#h27)"/>
<rect x="309.64" y="12.0" width="3.50" height="204.25" fill="url(#h28)"/>
<rect x="311.63" y="12.0" width="3.50" height="204.25" fill="url(#h29)"/>
<rect x="313.63" y="12.0" width="3.50" height="204.25" fill="url(#h30)"/>
<rect x="315.62" y="12.0" width="3.50" height="204.25" fill="url(#h31)"/>
<rect x="317.62" y="12.0" width="3.50" height="204.25" fill="url(#h32)"/>
<rect x="319.62" y="12.0" width="3.50" height="204.25" fill="url(#h33)"/>
<rect x="321.61" y="12.0" width="3.50" height="204.25" fill="url(#h34)"/>
<rect x="323.61" y="12.0" width="3.50" height="204.25" fill="url(#h35)"/>
<rect x="325.60" y="12.0" width="3.50" height="204.25" fill="url(#h36)"/>
<rect x="327.60" y="12.0" width="3.50" height="204.25" fill="url(#h37)"/>
<rect x="329.60" y="12.0" width="3.50" height="204.25" fill="url(#h38)"/>
<rect x="331.59" y="12.0" width="3.50" height="204.25" fill="url(#h39)"/>
<rect x="333.59" y="12.0" width="3.50" height="204.25" fill="url(#h40)"/>
<rect x="335.58" y="12.0" width="3.50" height="204.25" fill="url(#h41)"/>
<rect x="337.58" y="12.0" width="3.50" height="204.25" fill="url(#h42)"/>
<rect x="339.58" y="12.0" width="3.50" height="204.25" fill="url(#h43)"/>
<rect x="341.57" y="12.0" width="3.50" height="204.25" fill="url(#h44)"/>
<rect x="343.57" y="12.0" width="3.50" height="204.25" fill="url(#h45)"/>
<rect x="345.56" y="12.0" width="3.50" height="204.25" fill="url(#h46)"/>
<rect x="347.56" y="12.0" width="3.50" height="204.25" fill="url(#h47)"/>
<rect x="349.56" y="12.0" width="3.50" height="204.25" fill="url(#h48)"/>
<rect x="351.55" y="12.0" width="3.50" height="204.25" fill="url(#h49)"/>
<rect x="353.55" y="12.0" width="3.50" height="204.25" fill="url(#h50)"/>
<rect x="355.54" y="12.0" width="3.50" height="204.25" fill="url(#h51)"/>
<rect x="357.54" y="12.0" width="3.50" height="204.25" fill="url(#h52)"/>
<rect x="359.54" y="12.0" width="3.50" height="204.25" fill="url(#h53)"/>
<rect x="361.53" y="12.0" width="3.50" height="204.25" fill="url(#h54)"/>
<rect x="363.53" y="12.0" width="3.50" height="204.25" fill="url(#h55)"/>
<rect x="365.52" y="12.0" width="3.50" height="204.25" fill="url(#h56)"/>
<rect x="367.52" y="12.0" width="3.50" height="204.25" fill="url(#h57)"/>
<rect x="369.52" y="12.0" width="3.50" height="204.25" fill="url(#h58)"/>
<rect x="371.51" y="12.0" width="3.50" height="204.25" fill="url(#h59)"/>
<rect x="373.51" y="12.0" width="3.50" height="204.25" fill="url(#h60)"/>
<rect x="375.50" y="12.0" width="3.50" height="204.25" fill="url(#h61)"/>
<rect x="377.50" y="12.0" width="3.50" height="204.25" fill="url(#h61)"/>
<rect x="379.50" y="12.0" width="3.50" height="204.25" fill="url(#h60)"/>
<rect x="381.49" y="12.0" width="3.50" height="204.25" fill="url(#h59)"/>
<rect x="383.49" y="12.0" width="3.50" height="204.25" fill="url(#h58)"/>
<rect x="385.48" y="12.0" width="3.50" height="204.25" fill="url(#h57)"/>
<rect x="387.48" y="12.0" width="3.50" height="204.25" fill="url(#h56)"/>
<rect x="389.48" y="12.0" width="3.50" height="204.25" fill="url(#h55)"/>
<rect x="391.47" y="12.0" width="3.50" height="204.25" fill="url(#h54)"/>
<rect x="393.47" y="12.0" width="3.50" height="204.25" fill="url(#h53)"/>
<rect x="395.46" y="12.0" width="3.50" height="204.25" fill="url(#h52)"/>
<rect x="397.46" y="12.0" width="3.50" height="204.25" fill="url(#h51)"/>
<rect x="399.46" y="12.0" width="3.50" height="204.25" fill="url(#h50)"/>
<rect x="401.45" y="12.0" width="3.50" height="204.25" fill="url(#h49)"/>
<rect x="403.45" y="12.0" width="3.50" height="204.25" fill="url(#h48)"/>
<rect x="405.44" y="12.0" width="3.50" height="204.25" fill="url(#h47)"/>
<rect x="407.44" y="12.0" width="3.50" height="204.25" fill="url(#h46)"/>
<rect x="409.44" y="12.0" width="3.50" height="204.25" fill="url(#h45)"/>
<rect x="411.43" y="12.0" width="3.50" height="204.25" fill="url(#h44)"/>
<rect x="413.43" y="12.0" width="3.50" height="204.25" fill="url(#h43)"/>
<rect x="415.42" y="12.0" width="3.50" height="204.25" fill="url(#h42)"/>
<rect x="417.42" y="12.0" width="3.50" height="204.25" fill="url(#h41)"/>
<rect x="419.42" y="12.0" width="3.50" height="204.25" fill="url(#h40)"/>
<rect x="421.41" y="12.0" width="3.50" height="204.25" fill="url(#h39)"/>
<rect x="423.41" y="12.0" width="3.50" height="204.25" fill="url(#h38)"/>
<rect x="425.40" y="12.0" width="3.50" height="204.25" fill="url(#h37)"/>
<rect x="427.40" y="12.0" width="3.50" height="204.25" fill="url(#h36)"/>
<rect x="429.40" y="12.0" width="3.50" height="204.25" fill="url(#h35)"/>
<rect x="431.39" y="12.0" width="3.50" height="204.25" fill="url(#h34)"/>
<rect x="433.39" y="12.0" width="3.50" height="204.25" fill="url(#h33)"/>
<rect x="435.38" y="12.0" width="3.50" height="204.25" fill="url(#h32)"/>
<rect x="437.38" y="12.0" width="3.50" height="204.25" fill="url(#h31)"/>
<rect x="439.38" y="12.0" width="3.50" height="204.25" fill="url(#h30)"/>
<rect x="441.37" y="12.0" width="3.50" height="204.25" fill="url(#h29)"/>
<rect x="443.37" y="12.0" width="3.50" height="204.25" fill="url(#h28)"/>
<rect x="445.36" y="12.0" width="3.50" height="204.25" fill="url(#h27)"/>
<rect x="447.36" y="12.0" width="3.50" height="204.25" fill="url(#h26)"/>
<rect x="449.35" y="12.0" width="3.50" height="204.25" fill="url(#h25)"/>
<rect x="451.35" y="12.0" width="3.50" height="204.25" fill="url(#h24)"/>
<rect x="453.35" y="12.0" width="3.50" height="204.25" fill="url(#h23)"/>
<rect x="455.34" y="12.0" width="3.50" height="204.25" fill="url(#h22)"/>
<rect x="457.34" y="12.0" width="3.50" height="204.25" fill="url(#h21)"/>
<rect x="459.33" y="12.0" width="3.50" height="204.25" fill="url(#h20)"/>
<rect x="461.33" y="12.0" width="3.50" height="204.25" fill="url(#h19)"/>
<rect x="463.33" y="12.0" width="3.50" height="204.25" fill="url(#h18)"/>
<rect x="465.32" y="12.0" width="3.50" height="204.25" fill="url(#h17)"/>
<rect x="467.32" y="12.0" width="3.50" height="204.25" fill="url(#h16)"/>
<rect x="469.31" y="12.0" width="3.50" height="204.25" fill="url(#h15)"/>
<rect x="471.31" y="12.0" width="3.50" height="204.25" fill="url(#h14)"/>
<rect x="473.31" y="12.0" width="3.50" height="204.25" fill="url(#h13)"/>
<rect x="475.30" y="12.0" width="3.50" height="204.25" fill="url(#h12)"/>
<rect x="477.30" y="12.0" width="3.50" height="204.25" fill="url(#h11)"/>
<rect x="479.29" y="12.0" width="3.50" height="204.25" fill="url(#h10)"/>
<rect x="481.29" y="12.0" width="3.50" height="204.25" fill="url(#h9)"/>
<rect x="483.29" y="12.0" width="3.50" height="204.25" fill="url(#h8)"/>
<rect x="485.28" y="12.0" width="3.50" height="204.25" fill="url(#h7)"/>
<rect x="487.28" y="12.0" width="3.50" height="204.25" fill="url(#h6)"/>
<rect x="489.27" y="12.0" width="3.50" height="204.25" fill="url(#h5)"/>
<rect x="491.27" y="12.0" width="3.50" height="204.25" fill="url(#h4)"/>
<rect x="493.27" y="12.0" width="3.50" height="204.25" fill="url(#h3)"/>
<rect x="495.26" y="12.0" width="3.50" height="204.25" fill="url(#h2)"/>
<rect x="497.26" y="12.0" width="3.50" height="204.25" fill="url(#h1)"/>
<rect x="499.25" y="12.0" width="3.50" height="204.25" fill="url(#h0)"/>
<rect x="501.25" y="12.0" width="3.50" height="204.25" fill="url(#h0)"/>
<rect x="503.25" y="12.0" width="3.50" height="204.25" fill="url(#h0)"/>
<rect x="505.24" y="12.0" width="3.50" height="204.25" fill="url(#h0)"/>
</g></g>
<clipPath id="cb"><rect x="253.75" y="12.0" width="247.5" height="204.25"/></clipPath>
<g clip-path="url(#cb)">
<line x1="319.50" y1="12.0" x2="327.00" y2="216.25" stroke="#d9a0d0" stroke-opacity="0.28" stroke-width="0.8"/>
<line x1="328.90" y1="12.0" x2="328.90" y2="216.25" stroke="#fff" stroke-width="1.3" stroke-dasharray="4.6 2"/>
<line x1="435.50" y1="12.0" x2="428.00" y2="216.25" stroke="#d9a0d0" stroke-opacity="0.28" stroke-width="0.8"/>
<line x1="426.10" y1="12.0" x2="426.10" y2="216.25" stroke="#fff" stroke-width="1.3" stroke-dasharray="4.6 2"/>
<path d="M253.75,136.50 L254.37,136.19 L254.99,135.88 L255.61,135.57 L256.23,135.25 L256.85,134.93 L257.47,134.61 L258.09,134.28 L258.71,133.95 L259.33,133.61 L259.95,133.28 L260.57,132.93 L261.19,132.59 L261.81,132.24 L262.43,131.88 L263.05,131.53 L263.67,131.16 L264.30,130.80 L264.92,130.43 L265.54,130.05 L266.16,129.68 L266.78,129.29 L267.40,128.91 L268.02,128.52 L268.64,128.12 L269.26,127.72 L269.88,127.32 L270.50,126.91 L271.12,126.50 L271.74,126.08 L272.36,125.66 L272.98,125.23 L273.60,124.80 L274.22,124.37 L274.84,123.93 L275.46,123.48 L276.08,123.03 L276.70,122.58 L277.32,122.12 L277.94,121.66 L278.56,121.19 L279.18,120.72 L279.80,120.24 L280.42,119.75 L281.04,119.27 L281.66,118.77 L282.28,118.27 L282.90,117.77 L283.52,117.26 L284.14,116.75 L284.77,116.23 L285.39,115.71 L286.01,115.19 L286.63,114.66 L287.25,114.12 L287.87,113.58 L288.49,113.04 L289.11,112.49 L289.73,111.94 L290.35,111.39 L290.97,110.83 L291.59,110.27 L292.21,109.70 L292.83,109.13 L293.45,108.55 L294.07,107.98 L294.69,107.40 L295.31,106.81 L295.93,106.23 L296.55,105.63 L297.17,105.04 L297.79,104.44 L298.41,103.84 L299.03,103.24 L299.65,102.63 L300.27,102.03 L300.89,101.41 L301.51,100.80 L302.13,100.18 L302.75,99.57 L303.37,98.94 L303.99,98.32 L304.61,97.69 L305.23,97.07 L305.86,96.43 L306.48,95.80 L307.10,95.17 L307.72,94.53 L308.34,93.89 L308.96,93.25 L309.58,92.61 L310.20,91.97 L310.82,91.32 L311.44,90.67 L312.06,90.03 L312.68,89.38 L313.30,88.73 L313.92,88.07 L314.54,87.42 L315.16,86.77 L315.78,86.11 L316.40,85.46 L317.02,84.81 L317.64,84.15 L318.26,83.50 L318.88,82.85 L319.50,82.20 L320.12,81.55 L320.74,80.90 L321.36,80.26 L321.98,79.61 L322.60,78.97 L323.22,78.34 L323.84,77.70 L324.46,77.07 L325.08,76.45 L325.70,75.83 L326.33,75.21 L326.95,74.59 L327.57,73.99 L328.19,73.38 L328.81,72.79 L329.43,72.19 L330.05,71.61 L330.67,71.03 L331.29,70.46 L331.91,69.89 L332.53,69.33 L333.15,68.78 L333.77,68.23 L334.39,67.70 L335.01,67.17 L335.63,66.65 L336.25,66.14 L336.87,65.64 L337.49,65.15 L338.11,64.67 L338.73,64.19 L339.35,63.73 L339.97,63.28 L340.59,62.84 L341.21,62.41 L341.83,61.99 L342.45,61.58 L343.07,61.18 L343.69,60.79 L344.31,60.41 L344.93,60.04 L345.55,59.68 L346.17,59.33 L346.80,58.99 L347.42,58.66 L348.04,58.34 L348.66,58.03 L349.28,57.72 L349.90,57.43 L350.52,57.14 L351.14,56.86 L351.76,56.59 L352.38,56.33 L353.00,56.08 L353.62,55.84 L354.24,55.60 L354.86,55.37 L355.48,55.15 L356.10,54.94 L356.72,54.73 L357.34,54.54 L357.96,54.35 L358.58,54.16 L359.20,53.98 L359.82,53.81 L360.44,53.65 L361.06,53.50 L361.68,53.35 L362.30,53.20 L362.92,53.07 L363.54,52.94 L364.16,52.81 L364.78,52.69 L365.40,52.58 L366.02,52.48 L366.64,52.38 L367.27,52.29 L367.89,52.20 L368.51,52.12 L369.13,52.04 L369.75,51.97 L370.37,51.91 L370.99,51.85 L371.61,51.79 L372.23,51.75 L372.85,51.70 L373.47,51.67 L374.09,51.63 L374.71,51.61 L375.33,51.58 L375.95,51.57 L376.57,51.56 L377.19,51.55 L377.81,51.55 L378.43,51.56 L379.05,51.57 L379.67,51.58 L380.29,51.61 L380.91,51.63 L381.53,51.67 L382.15,51.70 L382.77,51.75 L383.39,51.79 L384.01,51.85 L384.63,51.91 L385.25,51.97 L385.87,52.04 L386.49,52.12 L387.11,52.20 L387.73,52.29 L388.36,52.38 L388.98,52.48 L389.60,52.58 L390.22,52.69 L390.84,52.81 L391.46,52.94 L392.08,53.07 L392.70,53.20 L393.32,53.35 L393.94,53.50 L394.56,53.65 L395.18,53.81 L395.80,53.98 L396.42,54.16 L397.04,54.35 L397.66,54.54 L398.28,54.73 L398.90,54.94 L399.52,55.15 L400.14,55.37 L400.76,55.60 L401.38,55.84 L402.00,56.08 L402.62,56.33 L403.24,56.59 L403.86,56.86 L404.48,57.14 L405.10,57.43 L405.72,57.72 L406.34,58.03 L406.96,58.34 L407.58,58.66 L408.20,58.99 L408.83,59.33 L409.45,59.68 L410.07,60.04 L410.69,60.41 L411.31,60.79 L411.93,61.18 L412.55,61.58 L413.17,61.99 L413.79,62.41 L414.41,62.84 L415.03,63.28 L415.65,63.73 L416.27,64.19 L416.89,64.67 L417.51,65.15 L418.13,65.64 L418.75,66.14 L419.37,66.65 L419.99,67.17 L420.61,67.70 L421.23,68.23 L421.85,68.78 L422.47,69.33 L423.09,69.89 L423.71,70.46 L424.33,71.03 L424.95,71.61 L425.57,72.19 L426.19,72.79 L426.81,73.38 L427.43,73.99 L428.05,74.59 L428.67,75.21 L429.30,75.83 L429.92,76.45 L430.54,77.07 L431.16,77.70 L431.78,78.34 L432.40,78.97 L433.02,79.61 L433.64,80.26 L434.26,80.90 L434.88,81.55 L435.50,82.20 L436.12,82.85 L436.74,83.50 L437.36,84.15 L437.98,84.81 L438.60,85.46 L439.22,86.11 L439.84,86.77 L440.46,87.42 L441.08,88.07 L441.70,88.73 L442.32,89.38 L442.94,90.03 L443.56,90.67 L444.18,91.32 L444.80,91.97 L445.42,92.61 L446.04,93.25 L446.66,93.89 L447.28,94.53 L447.90,95.17 L448.52,95.80 L449.14,96.43 L449.77,97.07 L450.39,97.69 L451.01,98.32 L451.63,98.94 L452.25,99.57 L452.87,100.18 L453.49,100.80 L454.11,101.41 L454.73,102.03 L455.35,102.63 L455.97,103.24 L456.59,103.84 L457.21,104.44 L457.83,105.04 L458.45,105.63 L459.07,106.23 L459.69,106.81 L460.31,107.40 L460.93,107.98 L461.55,108.55 L462.17,109.13 L462.79,109.70 L463.41,110.27 L464.03,110.83 L464.65,111.39 L465.27,111.94 L465.89,112.49 L466.51,113.04 L467.13,113.58 L467.75,114.12 L468.37,114.66 L468.99,115.19 L469.61,115.71 L470.23,116.23 L470.86,116.75 L471.48,117.26 L472.10,117.77 L472.72,118.27 L473.34,118.77 L473.96,119.27 L474.58,119.75 L475.20,120.24 L475.82,120.72 L476.44,121.19 L477.06,121.66 L477.68,122.12 L478.30,122.58 L478.92,123.03 L479.54,123.48 L480.16,123.93 L480.78,124.37 L481.40,124.80 L482.02,125.23 L482.64,125.66 L483.26,126.08 L483.88,126.50 L484.50,126.91 L485.12,127.32 L485.74,127.72 L486.36,128.12 L486.98,128.52 L487.60,128.91 L488.22,129.29 L488.84,129.68 L489.46,130.05 L490.08,130.43 L490.70,130.80 L491.33,131.16 L491.95,131.53 L492.57,131.88 L493.19,132.24 L493.81,132.59 L494.43,132.93 L495.05,133.28 L495.67,133.61 L496.29,133.95 L496.91,134.28 L497.53,134.61 L498.15,134.93 L498.77,135.25 L499.39,135.57 L500.01,135.88 L500.63,136.19 L501.25,136.50" fill="none" stroke="#e3143a" stroke-width="3.4" stroke-linecap="round" stroke-dasharray="0.01 7.4" stroke-dashoffset="-3"/>
<path d="M253.75,92.84 L254.37,93.33 L254.99,93.82 L255.61,94.31 L256.23,94.79 L256.85,95.27 L257.47,95.75 L258.09,96.23 L258.71,96.71 L259.33,97.19 L259.95,97.67 L260.57,98.14 L261.19,98.62 L261.81,99.09 L262.43,99.57 L263.05,100.04 L263.67,100.51 L264.30,100.99 L264.92,101.46 L265.54,101.94 L266.16,102.41 L266.78,102.89 L267.40,103.37 L268.02,103.84 L268.64,104.32 L269.26,104.80 L269.88,105.28 L270.50,105.76 L271.12,106.24 L271.74,106.73 L272.36,107.22 L272.98,107.70 L273.60,108.19 L274.22,108.69 L274.84,109.18 L275.46,109.68 L276.08,110.18 L276.70,110.68 L277.32,111.18 L277.94,111.69 L278.56,112.20 L279.18,112.72 L279.80,113.23 L280.42,113.75 L281.04,114.28 L281.66,114.80 L282.28,115.33 L282.90,115.86 L283.52,116.40 L284.14,116.93 L284.77,117.47 L285.39,118.01 L286.01,118.55 L286.63,119.10 L287.25,119.65 L287.87,120.20 L288.49,120.75 L289.11,121.30 L289.73,121.85 L290.35,122.41 L290.97,122.97 L291.59,123.52 L292.21,124.08 L292.83,124.64 L293.45,125.21 L294.07,125.77 L294.69,126.33 L295.31,126.90 L295.93,127.46 L296.55,128.03 L297.17,128.59 L297.79,129.16 L298.41,129.73 L299.03,130.29 L299.65,130.86 L300.27,131.43 L300.89,132.00 L301.51,132.56 L302.13,133.13 L302.75,133.70 L303.37,134.26 L303.99,134.83 L304.61,135.39 L305.23,135.96 L305.86,136.52 L306.48,137.08 L307.10,137.64 L307.72,138.20 L308.34,138.76 L308.96,139.32 L309.58,139.88 L310.20,140.43 L310.82,140.98 L311.44,141.53 L312.06,142.08 L312.68,142.63 L313.30,143.17 L313.92,143.72 L314.54,144.26 L315.16,144.79 L315.78,145.33 L316.40,145.86 L317.02,146.39 L317.64,146.91 L318.26,147.44 L318.88,147.96 L319.50,148.47 L320.12,148.98 L320.74,149.49 L321.36,150.00 L321.98,150.50 L322.60,150.99 L323.22,151.48 L323.84,151.97 L324.46,152.46 L325.08,152.93 L325.70,153.41 L326.33,153.88 L326.95,154.34 L327.57,154.80 L328.19,155.26 L328.81,155.71 L329.43,156.15 L330.05,156.59 L330.67,157.02 L331.29,157.45 L331.91,157.87 L332.53,158.28 L333.15,158.69 L333.77,159.09 L334.39,159.49 L335.01,159.88 L335.63,160.26 L336.25,160.64 L336.87,161.00 L337.49,161.37 L338.11,161.72 L338.73,162.07 L339.35,162.42 L339.97,162.75 L340.59,163.08 L341.21,163.41 L341.83,163.72 L342.45,164.04 L343.07,164.34 L343.69,164.64 L344.31,164.93 L344.93,165.22 L345.55,165.50 L346.17,165.77 L346.80,166.04 L347.42,166.30 L348.04,166.55 L348.66,166.80 L349.28,167.05 L349.90,167.28 L350.52,167.51 L351.14,167.74 L351.76,167.96 L352.38,168.17 L353.00,168.38 L353.62,168.58 L354.24,168.77 L354.86,168.96 L355.48,169.15 L356.10,169.32 L356.72,169.50 L357.34,169.66 L357.96,169.82 L358.58,169.98 L359.20,170.13 L359.82,170.27 L360.44,170.41 L361.06,170.54 L361.68,170.67 L362.30,170.79 L362.92,170.90 L363.54,171.01 L364.16,171.12 L364.78,171.22 L365.40,171.31 L366.02,171.40 L366.64,171.49 L367.27,171.56 L367.89,171.64 L368.51,171.70 L369.13,171.77 L369.75,171.82 L370.37,171.87 L370.99,171.92 L371.61,171.96 L372.23,172.00 L372.85,172.03 L373.47,172.06 L374.09,172.08 L374.71,172.09 L375.33,172.11 L375.95,172.11 L376.57,172.11 L377.19,172.11 L377.81,172.11 L378.43,172.11 L379.05,172.11 L379.67,172.11 L380.29,172.09 L380.91,172.08 L381.53,172.06 L382.15,172.03 L382.77,172.00 L383.39,171.96 L384.01,171.92 L384.63,171.87 L385.25,171.82 L385.87,171.77 L386.49,171.70 L387.11,171.64 L387.73,171.56 L388.36,171.49 L388.98,171.40 L389.60,171.31 L390.22,171.22 L390.84,171.12 L391.46,171.01 L392.08,170.90 L392.70,170.79 L393.32,170.67 L393.94,170.54 L394.56,170.41 L395.18,170.27 L395.80,170.13 L396.42,169.98 L397.04,169.82 L397.66,169.66 L398.28,169.50 L398.90,169.32 L399.52,169.15 L400.14,168.96 L400.76,168.77 L401.38,168.58 L402.00,168.38 L402.62,168.17 L403.24,167.96 L403.86,167.74 L404.48,167.51 L405.10,167.28 L405.72,167.05 L406.34,166.80 L406.96,166.55 L407.58,166.30 L408.20,166.04 L408.83,165.77 L409.45,165.50 L410.07,165.22 L410.69,164.93 L411.31,164.64 L411.93,164.34 L412.55,164.04 L413.17,163.72 L413.79,163.41 L414.41,163.08 L415.03,162.75 L415.65,162.42 L416.27,162.07 L416.89,161.72 L417.51,161.37 L418.13,161.00 L418.75,160.64 L419.37,160.26 L419.99,159.88 L420.61,159.49 L421.23,159.09 L421.85,158.69 L422.47,158.28 L423.09,157.87 L423.71,157.45 L424.33,157.02 L424.95,156.59 L425.57,156.15 L426.19,155.71 L426.81,155.26 L427.43,154.80 L428.05,154.34 L428.67,153.88 L429.30,153.41 L429.92,152.93 L430.54,152.46 L431.16,151.97 L431.78,151.48 L432.40,150.99 L433.02,150.50 L433.64,150.00 L434.26,149.49 L434.88,148.98 L435.50,148.47 L436.12,147.96 L436.74,147.44 L437.36,146.91 L437.98,146.39 L438.60,145.86 L439.22,145.33 L439.84,144.79 L440.46,144.26 L441.08,143.72 L441.70,143.17 L442.32,142.63 L442.94,142.08 L443.56,141.53 L444.18,140.98 L444.80,140.43 L445.42,139.88 L446.04,139.32 L446.66,138.76 L447.28,138.20 L447.90,137.64 L448.52,137.08 L449.14,136.52 L449.77,135.96 L450.39,135.39 L451.01,134.83 L451.63,134.26 L452.25,133.70 L452.87,133.13 L453.49,132.56 L454.11,132.00 L454.73,131.43 L455.35,130.86 L455.97,130.29 L456.59,129.73 L457.21,129.16 L457.83,128.59 L458.45,128.03 L459.07,127.46 L459.69,126.90 L460.31,126.33 L460.93,125.77 L461.55,125.21 L462.17,124.64 L462.79,124.08 L463.41,123.52 L464.03,122.97 L464.65,122.41 L465.27,121.85 L465.89,121.30 L466.51,120.75 L467.13,120.20 L467.75,119.65 L468.37,119.10 L468.99,118.55 L469.61,118.01 L470.23,117.47 L470.86,116.93 L471.48,116.40 L472.10,115.86 L472.72,115.33 L473.34,114.80 L473.96,114.28 L474.58,113.75 L475.20,113.23 L475.82,112.72 L476.44,112.20 L477.06,111.69 L477.68,111.18 L478.30,110.68 L478.92,110.18 L479.54,109.68 L480.16,109.18 L480.78,108.69 L481.40,108.19 L482.02,107.70 L482.64,107.22 L483.26,106.73 L483.88,106.24 L484.50,105.76 L485.12,105.28 L485.74,104.80 L486.36,104.32 L486.98,103.84 L487.60,103.37 L488.22,102.89 L488.84,102.41 L489.46,101.94 L490.08,101.46 L490.70,100.99 L491.33,100.51 L491.95,100.04 L492.57,99.57 L493.19,99.09 L493.81,98.62 L494.43,98.14 L495.05,97.67 L495.67,97.19 L496.29,96.71 L496.91,96.23 L497.53,95.75 L498.15,95.27 L498.77,94.79 L499.39,94.31 L500.01,93.82 L500.63,93.33 L501.25,92.84" fill="none" stroke="#3b18c8" stroke-width="3.4" stroke-linecap="round" stroke-dasharray="0.01 7.4" stroke-dashoffset="-3"/>
</g>
<rect x="253.75" y="12.0" width="247.5" height="204.25" fill="none" stroke="#000" stroke-width="1.3"/>
<line x1="246.55" y1="23.0" x2="253.75" y2="23.0" stroke="#000" stroke-width="1.3"/>
<text transform="translate(204.56,29.00) scale(1.1328,1)" font-size="16.8" ><tspan>2.86</tspan></text>
<line x1="246.55" y1="63.75" x2="253.75" y2="63.75" stroke="#000" stroke-width="1.3"/>
<text transform="translate(204.57,69.75) scale(1.1233,1)" font-size="16.8" ><tspan>2.84</tspan></text>
<line x1="246.55" y1="104.25" x2="253.75" y2="104.25" stroke="#000" stroke-width="1.3"/>
<text transform="translate(204.55,110.25) scale(1.1502,1)" font-size="16.8" ><tspan>2.82</tspan></text>
<line x1="246.55" y1="145.0" x2="253.75" y2="145.0" stroke="#000" stroke-width="1.3"/>
<text transform="translate(204.56,151.00) scale(1.1384,1)" font-size="16.8" ><tspan>2.80</tspan></text>
<line x1="246.55" y1="185.5" x2="253.75" y2="185.5" stroke="#000" stroke-width="1.3"/>
<text transform="translate(204.56,191.50) scale(1.1384,1)" font-size="16.8" ><tspan>2.78</tspan></text>
<line x1="249.95" y1="43.3" x2="253.75" y2="43.3" stroke="#000" stroke-width="1.0"/>
<line x1="249.95" y1="84.0" x2="253.75" y2="84.0" stroke="#000" stroke-width="1.0"/>
<line x1="249.95" y1="124.6" x2="253.75" y2="124.6" stroke="#000" stroke-width="1.0"/>
<line x1="249.95" y1="165.3" x2="253.75" y2="165.3" stroke="#000" stroke-width="1.0"/>
<line x1="249.95" y1="205.9" x2="253.75" y2="205.9" stroke="#000" stroke-width="1.0"/>
<line x1="253.75" y1="216.25" x2="253.75" y2="223.65" stroke="#000" stroke-width="1.3"/>
<line x1="377.5" y1="216.25" x2="377.5" y2="223.65" stroke="#000" stroke-width="1.3"/>
<line x1="501.25" y1="216.25" x2="501.25" y2="223.65" stroke="#000" stroke-width="1.3"/>
<text transform="translate(174.66,14.60) scale(1.1429,1)" font-size="16.8" ><tspan>(b)</tspan></text>
<g transform="translate(193.3,142.7) rotate(-90)"><text transform="translate(-0.67,0.00) scale(1.1923,1)" font-size="16.8" ><tspan font-style="italic">ω</tspan><tspan> (eV)</tspan></text></g>
<text transform="translate(226.57,243.20) scale(1.3518,1)" font-size="16.8" ><tspan>−π</tspan><tspan font-size="23.86" dy="3.36">/</tspan><tspan font-style="italic" dy="-3.36">a</tspan><tspan font-size="11.76" dy="2.52">0</tspan></text>
<text transform="translate(373.90,243.20) scale(1.0955,1)" font-size="16.8" ><tspan>0</tspan></text>
<text transform="translate(482.40,243.20) scale(1.3165,1)" font-size="16.8" ><tspan>π</tspan><tspan font-size="23.86" dy="3.36">/</tspan><tspan font-style="italic" dy="-3.36">a</tspan><tspan font-size="11.76" dy="2.52">0</tspan></text>
<text transform="translate(366.02,268.50) scale(1.6025,1)" font-size="16.8" ><tspan font-style="italic">k</tspan><tspan font-style="italic" font-size="11.76" dy="2.52">x</tspan></text>
<rect x="253.4" y="286.2" width="247.99999999999997" height="10.800000000000011" fill="url(#cbi)" stroke="#000" stroke-width="1.3"/>
<line x1="253.40" y1="297.0" x2="253.40" y2="303.8" stroke="#000" stroke-width="1.3"/>
<text transform="translate(249.02,323.00) scale(1.0674,1)" font-size="16.8" ><tspan>0</tspan></text>
<line x1="303.00" y1="297.0" x2="303.00" y2="303.8" stroke="#000" stroke-width="1.3"/>
<text transform="translate(288.69,323.00) scale(1.0224,1)" font-size="16.8" ><tspan>100</tspan></text>
<line x1="352.60" y1="297.0" x2="352.60" y2="303.8" stroke="#000" stroke-width="1.3"/>
<text transform="translate(339.45,323.00) scale(1.0117,1)" font-size="16.8" ><tspan>200</tspan></text>
<line x1="402.20" y1="297.0" x2="402.20" y2="303.8" stroke="#000" stroke-width="1.3"/>
<text transform="translate(388.57,323.00) scale(1.0355,1)" font-size="16.8" ><tspan>300</tspan></text>
<line x1="451.80" y1="297.0" x2="451.80" y2="303.8" stroke="#000" stroke-width="1.3"/>
<text transform="translate(438.37,323.00) scale(1.0111,1)" font-size="16.8" ><tspan>400</tspan></text>
<line x1="501.40" y1="297.0" x2="501.40" y2="303.8" stroke="#000" stroke-width="1.3"/>
<text transform="translate(487.59,323.00) scale(1.0346,1)" font-size="16.8" ><tspan>500</tspan></text>
<text transform="translate(366.37,344.60) scale(1.2594,1)" font-size="16.8" ><tspan font-style="italic">σ</tspan><tspan font-size="11.76" dy="2.52">sf</tspan></text>
<clipPath id="cc"><rect x="20.5" y="368.2" width="99.0" height="226.59999999999997"/></clipPath>
<g clip-path="url(#cc)">
<g filter="url(#fbwr)">
<rect x="18.5" y="366.2" width="103.0" height="230.59999999999997" fill="#808080"/>
<ellipse cx="18.70" cy="416.60" rx="19" ry="19" fill="url(#gW)" opacity="0.170"/>
<ellipse cx="55.30" cy="416.60" rx="19" ry="19" fill="url(#gW)" opacity="0.220"/>
<ellipse cx="84.70" cy="416.60" rx="19" ry="19" fill="url(#gW)" opacity="0.200"/>
<ellipse cx="121.30" cy="416.60" rx="19" ry="19" fill="url(#gK)" opacity="0.080"/>
<ellipse cx="22.30" cy="473.40" rx="19" ry="19" fill="url(#gK)" opacity="0.550"/>
<ellipse cx="51.70" cy="473.40" rx="19" ry="19" fill="url(#gK)" opacity="0.750"/>
<ellipse cx="88.30" cy="473.40" rx="19" ry="19" fill="url(#gK)" opacity="0.270"/>
<ellipse cx="117.70" cy="473.40" rx="19" ry="19" fill="url(#gK)" opacity="0.100"/>
<ellipse cx="22.30" cy="526.80" rx="19" ry="19" fill="url(#gW)" opacity="0.420"/>
<ellipse cx="51.70" cy="526.80" rx="19" ry="19" fill="url(#gW)" opacity="0.480"/>
<ellipse cx="88.30" cy="526.80" rx="19" ry="19" fill="url(#gW)" opacity="0.220"/>
<ellipse cx="117.70" cy="526.80" rx="19" ry="19" fill="url(#gW)" opacity="0.050"/>
<ellipse cx="18.70" cy="584.00" rx="19" ry="19" fill="url(#gK)" opacity="0.060"/>
<ellipse cx="55.30" cy="584.00" rx="19" ry="19" fill="url(#gK)" opacity="0.130"/>
<ellipse cx="84.70" cy="584.00" rx="19" ry="19" fill="url(#gK)" opacity="0.100"/>
<ellipse cx="121.30" cy="584.00" rx="19" ry="19" fill="url(#gW)" opacity="0.120"/>
</g>
<path d="M-29.00,330.43L4.00,311.55M4.00,311.55L37.00,330.43M-29.00,330.43L-29.00,368.20M37.00,330.43L70.00,311.55M70.00,311.55L103.00,330.43M37.00,330.43L37.00,368.20M103.00,330.43L136.00,311.55M136.00,311.55L169.00,330.43M103.00,330.43L103.00,368.20M169.00,330.43L202.00,311.55M202.00,311.55L235.00,330.43M169.00,330.43L169.00,368.20M-62.00,387.08L-29.00,368.20M-29.00,368.20L4.00,387.08M-62.00,387.08L-62.00,424.85M4.00,387.08L37.00,368.20M37.00,368.20L70.00,387.08M4.00,387.08L4.00,424.85M70.00,387.08L103.00,368.20M103.00,368.20L136.00,387.08M70.00,387.08L70.00,424.85M136.00,387.08L169.00,368.20M169.00,368.20L202.00,387.08M136.00,387.08L136.00,424.85M-29.00,443.73L4.00,424.85M4.00,424.85L37.00,443.73M-29.00,443.73L-29.00,481.50M37.00,443.73L70.00,424.85M70.00,424.85L103.00,443.73M37.00,443.73L37.00,481.50M103.00,443.73L136.00,424.85M136.00,424.85L169.00,443.73M103.00,443.73L103.00,481.50M169.00,443.73L202.00,424.85M202.00,424.85L235.00,443.73M169.00,443.73L169.00,481.50M-62.00,500.38L-62.00,538.15M4.00,500.38L4.00,538.15M70.00,500.38L70.00,538.15M136.00,500.38L136.00,538.15M-29.00,557.03L4.00,538.15M4.00,538.15L37.00,557.03M-29.00,557.03L-29.00,594.80M37.00,557.03L70.00,538.15M70.00,538.15L103.00,557.03M37.00,557.03L37.00,594.80M103.00,557.03L136.00,538.15M136.00,538.15L169.00,557.03M103.00,557.03L103.00,594.80M169.00,557.03L202.00,538.15M202.00,538.15L235.00,557.03M169.00,557.03L169.00,594.80M-62.00,613.68L-29.00,594.80M-29.00,594.80L4.00,613.68M-62.00,613.68L-62.00,651.45M4.00,613.68L37.00,594.80M37.00,594.80L70.00,613.68M4.00,613.68L4.00,651.45M70.00,613.68L103.00,594.80M103.00,594.80L136.00,613.68M70.00,613.68L70.00,651.45M136.00,613.68L169.00,594.80M169.00,594.80L202.00,613.68M136.00,613.68L136.00,651.45" fill="none" stroke="#939393" stroke-width="1.35" stroke-linecap="round"/>
<path d="M-62.00,500.38 L-29.00,481.50 L4.00,500.38 L37.00,481.50 L70.00,500.38 L103.00,481.50 L136.00,500.38 L169.00,481.50 L202.00,500.38" fill="none" stroke="#e8141c" stroke-width="1.7" stroke-linejoin="miter"/>
<circle cx="22.27" cy="359.87" r="7.3" fill="#fff" stroke="#000" stroke-width="1.25"/><circle cx="51.73" cy="359.87" r="7.3" fill="#fff" stroke="#000" stroke-width="1.25"/><circle cx="88.27" cy="359.87" r="7.3" fill="#fff" stroke="#000" stroke-width="1.25"/><circle cx="117.73" cy="359.87" r="7.3" fill="#fff" stroke="#000" stroke-width="1.25"/><circle cx="37.00" cy="384.87" r="7.3" fill="#fff" stroke="#000" stroke-width="1.25"/><circle cx="18.73" cy="416.52" r="7.3" fill="#fff" stroke="#000" stroke-width="1.25"/><circle cx="18.73" cy="583.48" r="7.3" fill="#fff" stroke="#000" stroke-width="1.25"/><circle cx="55.27" cy="416.52" r="7.3" fill="#fff" stroke="#000" stroke-width="1.25"/><circle cx="55.27" cy="583.48" r="7.3" fill="#fff" stroke="#000" stroke-width="1.25"/><circle cx="103.00" cy="384.87" r="7.3" fill="#fff" stroke="#000" stroke-width="1.25"/><circle cx="84.73" cy="416.52" r="7.3" fill="#fff" stroke="#000" stroke-width="1.25"/><circle cx="84.73" cy="583.48" r="7.3" fill="#fff" stroke="#000" stroke-width="1.25"/><circle cx="121.27" cy="416.52" r="7.3" fill="#fff" stroke="#000" stroke-width="1.25"/><circle cx="121.27" cy="583.48" r="7.3" fill="#fff" stroke="#000" stroke-width="1.25"/><circle cx="22.27" cy="473.17" r="7.3" fill="#fff" stroke="#000" stroke-width="1.25"/><circle cx="22.27" cy="526.83" r="7.3" fill="#fff" stroke="#000" stroke-width="1.25"/><circle cx="70.00" cy="441.52" r="7.3" fill="#fff" stroke="#000" stroke-width="1.25"/><circle cx="70.00" cy="558.48" r="7.3" fill="#fff" stroke="#000" stroke-width="1.25"/><circle cx="51.73" cy="473.17" r="7.3" fill="#fff" stroke="#000" stroke-width="1.25"/><circle cx="51.73" cy="526.83" r="7.3" fill="#fff" stroke="#000" stroke-width="1.25"/><circle cx="88.27" cy="473.17" r="7.3" fill="#fff" stroke="#000" stroke-width="1.25"/><circle cx="88.27" cy="526.83" r="7.3" fill="#fff" stroke="#000" stroke-width="1.25"/><circle cx="117.73" cy="473.17" r="7.3" fill="#fff" stroke="#000" stroke-width="1.25"/><circle cx="117.73" cy="526.83" r="7.3" fill="#fff" stroke="#000" stroke-width="1.25"/><circle cx="37.00" cy="501.20" r="7.3" fill="#fff" stroke="#000" stroke-width="1.25"/><circle cx="103.00" cy="501.20" r="7.3" fill="#fff" stroke="#000" stroke-width="1.25"/>
</g>
<rect x="20.5" y="368.2" width="99.0" height="226.59999999999997" fill="none" stroke="#000" stroke-width="1.6"/>
<text transform="translate(59.79,358.60) scale(1.0950,1)" font-size="16.8" ><tspan>(c)</tspan></text>
<rect x="20.5" y="609.5" width="99.0" height="13.0" fill="url(#cbc)" stroke="#000" stroke-width="1.3"/><line x1="20.50" y1="622.5" x2="20.50" y2="629.9" stroke="#000" stroke-width="1.3"/><line x1="70.00" y1="622.5" x2="70.00" y2="629.9" stroke="#000" stroke-width="1.3"/><line x1="119.50" y1="622.5" x2="119.50" y2="629.9" stroke="#000" stroke-width="1.3"/><text transform="translate(8.39,649.20) scale(1.2103,1)" font-size="16.8" ><tspan>−1</tspan></text><text transform="translate(64.80,649.20) scale(1.0955,1)" font-size="16.8" ><tspan>0</tspan></text><text transform="translate(112.53,649.20) scale(0.9299,1)" font-size="16.8" ><tspan>1</tspan></text><text transform="translate(61.03,668.70) scale(1.1559,1)" font-size="16.8" ><tspan font-style="italic">E</tspan><tspan font-style="italic" font-size="11.76" dy="2.52">z</tspan></text>
<clipPath id="cd"><rect x="148.5" y="368.2" width="99.0" height="226.59999999999997"/></clipPath>
<g clip-path="url(#cd)">
<rect x="148.5" y="368.2" width="99.0" height="226.59999999999997" fill="#fff"/>
<path d="M99.00,330.43L132.00,311.55M132.00,311.55L165.00,330.43M99.00,330.43L99.00,368.20M165.00,330.43L198.00,311.55M198.00,311.55L231.00,330.43M165.00,330.43L165.00,368.20M231.00,330.43L264.00,311.55M264.00,311.55L297.00,330.43M231.00,330.43L231.00,368.20M297.00,330.43L330.00,311.55M330.00,311.55L363.00,330.43M297.00,330.43L297.00,368.20M66.00,387.08L99.00,368.20M99.00,368.20L132.00,387.08M66.00,387.08L66.00,424.85M132.00,387.08L165.00,368.20M165.00,368.20L198.00,387.08M132.00,387.08L132.00,424.85M198.00,387.08L231.00,368.20M231.00,368.20L264.00,387.08M198.00,387.08L198.00,424.85M264.00,387.08L297.00,368.20M297.00,368.20L330.00,387.08M264.00,387.08L264.00,424.85M99.00,443.73L132.00,424.85M132.00,424.85L165.00,443.73M99.00,443.73L99.00,481.50M165.00,443.73L198.00,424.85M198.00,424.85L231.00,443.73M165.00,443.73L165.00,481.50M231.00,443.73L264.00,424.85M264.00,424.85L297.00,443.73M231.00,443.73L231.00,481.50M297.00,443.73L330.00,424.85M330.00,424.85L363.00,443.73M297.00,443.73L297.00,481.50M66.00,500.38L66.00,538.15M132.00,500.38L132.00,538.15M198.00,500.38L198.00,538.15M264.00,500.38L264.00,538.15M99.00,557.03L132.00,538.15M132.00,538.15L165.00,557.03M99.00,557.03L99.00,594.80M165.00,557.03L198.00,538.15M198.00,538.15L231.00,557.03M165.00,557.03L165.00,594.80M231.00,557.03L264.00,538.15M264.00,538.15L297.00,557.03M231.00,557.03L231.00,594.80M297.00,557.03L330.00,538.15M330.00,538.15L363.00,557.03M297.00,557.03L297.00,594.80M66.00,613.68L99.00,594.80M99.00,594.80L132.00,613.68M66.00,613.68L66.00,651.45M132.00,613.68L165.00,594.80M165.00,594.80L198.00,613.68M132.00,613.68L132.00,651.45M198.00,613.68L231.00,594.80M231.00,594.80L264.00,613.68M198.00,613.68L198.00,651.45M264.00,613.68L297.00,594.80M297.00,594.80L330.00,613.68M264.00,613.68L264.00,651.45" fill="none" stroke="#939393" stroke-width="1.35" stroke-linecap="round"/>
<path d="M66.00,500.38 L99.00,481.50 L132.00,500.38 L165.00,481.50 L198.00,500.38 L231.00,481.50 L264.00,500.38 L297.00,481.50 L330.00,500.38" fill="none" stroke="#e8141c" stroke-width="1.7" stroke-linejoin="miter"/>
<circle cx="150.27" cy="359.87" r="7.3" fill="#fff" stroke="#000" stroke-width="1.25"/><circle cx="179.73" cy="359.87" r="7.3" fill="#fff" stroke="#000" stroke-width="1.25"/><circle cx="216.27" cy="359.87" r="7.3" fill="#fff" stroke="#000" stroke-width="1.25"/><circle cx="245.73" cy="359.87" r="7.3" fill="#fff" stroke="#000" stroke-width="1.25"/><circle cx="165.00" cy="384.87" r="7.3" fill="#fff" stroke="#000" stroke-width="1.25"/><circle cx="146.73" cy="416.52" r="7.3" fill="#fff" stroke="#000" stroke-width="1.25"/><circle cx="146.73" cy="583.48" r="7.3" fill="#fff" stroke="#000" stroke-width="1.25"/><circle cx="183.27" cy="416.52" r="7.3" fill="#fff" stroke="#000" stroke-width="1.25"/><circle cx="183.27" cy="583.48" r="7.3" fill="#fff" stroke="#000" stroke-width="1.25"/><circle cx="231.00" cy="384.87" r="7.3" fill="#fff" stroke="#000" stroke-width="1.25"/><circle cx="212.73" cy="416.52" r="7.3" fill="#fff" stroke="#000" stroke-width="1.25"/><circle cx="212.73" cy="583.48" r="7.3" fill="#fff" stroke="#000" stroke-width="1.25"/><circle cx="249.27" cy="416.52" r="7.3" fill="#fff" stroke="#000" stroke-width="1.25"/><circle cx="249.27" cy="583.48" r="7.3" fill="#fff" stroke="#000" stroke-width="1.25"/><circle cx="150.27" cy="473.17" r="7.3" fill="#fff" stroke="#000" stroke-width="1.25"/><circle cx="150.27" cy="526.83" r="7.3" fill="#fff" stroke="#000" stroke-width="1.25"/><circle cx="198.00" cy="441.52" r="7.3" fill="#fff" stroke="#000" stroke-width="1.25"/><circle cx="198.00" cy="558.48" r="7.3" fill="#fff" stroke="#000" stroke-width="1.25"/><circle cx="179.73" cy="473.17" r="7.3" fill="#fff" stroke="#000" stroke-width="1.25"/><circle cx="179.73" cy="526.83" r="7.3" fill="#fff" stroke="#000" stroke-width="1.25"/><circle cx="216.27" cy="473.17" r="7.3" fill="#fff" stroke="#000" stroke-width="1.25"/><circle cx="216.27" cy="526.83" r="7.3" fill="#fff" stroke="#000" stroke-width="1.25"/><circle cx="245.73" cy="473.17" r="7.3" fill="#fff" stroke="#000" stroke-width="1.25"/><circle cx="245.73" cy="526.83" r="7.3" fill="#fff" stroke="#000" stroke-width="1.25"/><circle cx="165.00" cy="501.20" r="7.3" fill="#fff" stroke="#000" stroke-width="1.25"/><circle cx="231.00" cy="501.20" r="7.3" fill="#fff" stroke="#000" stroke-width="1.25"/>
<circle cx="149.30" cy="407.31" r="0.5" fill="#666"/>
<circle cx="155.68" cy="407.31" r="0.5" fill="#666"/>
<circle cx="162.06" cy="407.31" r="0.5" fill="#666"/>
<circle cx="168.44" cy="407.31" r="0.5" fill="#666"/>
<circle cx="174.82" cy="407.31" r="0.5" fill="#666"/>
<circle cx="181.20" cy="407.31" r="0.5" fill="#666"/>
<circle cx="187.58" cy="407.31" r="0.5" fill="#666"/>
<circle cx="193.96" cy="407.31" r="0.5" fill="#666"/>
<circle cx="200.34" cy="407.31" r="0.5" fill="#666"/>
<circle cx="206.72" cy="407.31" r="0.5" fill="#666"/>
<circle cx="213.10" cy="407.31" r="0.5" fill="#666"/>
<circle cx="219.48" cy="407.31" r="0.5" fill="#666"/>
<circle cx="225.86" cy="407.31" r="0.5" fill="#666"/>
<circle cx="232.24" cy="407.31" r="0.5" fill="#666"/>
<circle cx="238.62" cy="407.31" r="0.5" fill="#666"/>
<circle cx="245.00" cy="407.31" r="0.5" fill="#666"/>
<circle cx="149.30" cy="423.03" r="0.5" fill="#666"/>
<circle cx="155.68" cy="423.03" r="0.5" fill="#666"/>
<circle cx="162.06" cy="423.03" r="0.5" fill="#666"/>
<circle cx="168.44" cy="423.03" r="0.5" fill="#666"/>
<circle cx="174.82" cy="423.03" r="0.5" fill="#666"/>
<circle cx="187.58" cy="423.03" r="0.5" fill="#666"/>
<circle cx="193.96" cy="423.03" r="0.5" fill="#666"/>
<circle cx="200.34" cy="423.03" r="0.5" fill="#666"/>
<circle cx="206.72" cy="423.03" r="0.5" fill="#666"/>
<circle cx="219.48" cy="423.03" r="0.5" fill="#666"/>
<circle cx="225.86" cy="423.03" r="0.5" fill="#666"/>
<circle cx="232.24" cy="423.03" r="0.5" fill="#666"/>
<circle cx="238.62" cy="423.03" r="0.5" fill="#666"/>
<circle cx="245.00" cy="423.03" r="0.5" fill="#666"/>
<circle cx="149.30" cy="454.48" r="0.5" fill="#666"/>
<circle cx="155.68" cy="454.48" r="0.5" fill="#666"/>
<circle cx="162.06" cy="454.48" r="0.5" fill="#666"/>
<circle cx="168.44" cy="454.48" r="0.5" fill="#666"/>
<circle cx="174.82" cy="454.48" r="0.5" fill="#666"/>
<circle cx="181.20" cy="454.48" r="0.5" fill="#666"/>
<circle cx="187.58" cy="454.48" r="0.5" fill="#666"/>
<circle cx="193.96" cy="454.48" r="0.5" fill="#666"/>
<circle cx="200.34" cy="454.48" r="0.5" fill="#666"/>
<circle cx="206.72" cy="454.48" r="0.5" fill="#666"/>
<circle cx="213.10" cy="454.48" r="0.5" fill="#666"/>
<circle cx="219.48" cy="454.48" r="0.5" fill="#666"/>
<circle cx="225.86" cy="454.48" r="0.5" fill="#666"/>
<circle cx="232.24" cy="454.48" r="0.5" fill="#666"/>
<circle cx="238.62" cy="454.48" r="0.5" fill="#666"/>
<circle cx="245.00" cy="454.48" r="0.5" fill="#666"/>
<circle cx="149.30" cy="493.79" r="0.75" fill="#222"/>
<circle cx="155.68" cy="493.79" r="0.75" fill="#222"/>
<circle cx="162.06" cy="493.79" r="0.75" fill="#222"/>
<circle cx="168.44" cy="493.79" r="0.75" fill="#222"/>
<circle cx="174.82" cy="493.79" r="0.75" fill="#222"/>
<circle cx="181.20" cy="493.79" r="0.75" fill="#222"/>
<circle cx="187.58" cy="493.79" r="0.75" fill="#222"/>
<circle cx="193.96" cy="493.79" r="0.75" fill="#222"/>
<circle cx="200.34" cy="493.79" r="0.75" fill="#222"/>
<circle cx="206.72" cy="493.79" r="0.75" fill="#222"/>
<circle cx="213.10" cy="493.79" r="0.75" fill="#222"/>
<circle cx="219.48" cy="493.79" r="0.75" fill="#222"/>
<circle cx="225.86" cy="493.79" r="0.75" fill="#222"/>
<circle cx="232.24" cy="493.79" r="0.75" fill="#222"/>
<circle cx="238.62" cy="493.79" r="0.75" fill="#222"/>
<circle cx="245.00" cy="493.79" r="0.75" fill="#222"/>
<circle cx="149.30" cy="517.38" r="0.75" fill="#222"/>
<circle cx="155.68" cy="517.38" r="0.75" fill="#222"/>
<circle cx="162.06" cy="517.38" r="0.75" fill="#222"/>
<circle cx="168.44" cy="517.38" r="0.75" fill="#222"/>
<circle cx="174.82" cy="517.38" r="0.75" fill="#222"/>
<circle cx="181.20" cy="517.38" r="0.75" fill="#222"/>
<circle cx="187.58" cy="517.38" r="0.75" fill="#222"/>
<circle cx="193.96" cy="517.38" r="0.75" fill="#222"/>
<circle cx="200.34" cy="517.38" r="0.75" fill="#222"/>
<circle cx="206.72" cy="517.38" r="0.75" fill="#222"/>
<circle cx="213.10" cy="517.38" r="0.75" fill="#222"/>
<circle cx="219.48" cy="517.38" r="0.75" fill="#222"/>
<circle cx="225.86" cy="517.38" r="0.75" fill="#222"/>
<circle cx="232.24" cy="517.38" r="0.75" fill="#222"/>
<circle cx="238.62" cy="517.38" r="0.75" fill="#222"/>
<circle cx="245.00" cy="517.38" r="0.75" fill="#222"/>
<circle cx="149.30" cy="540.96" r="0.75" fill="#222"/>
<circle cx="155.68" cy="540.96" r="0.75" fill="#222"/>
<circle cx="162.06" cy="540.96" r="0.75" fill="#222"/>
<circle cx="168.44" cy="540.96" r="0.75" fill="#222"/>
<circle cx="174.82" cy="540.96" r="0.75" fill="#222"/>
<circle cx="181.20" cy="540.96" r="0.75" fill="#222"/>
<circle cx="187.58" cy="540.96" r="0.75" fill="#222"/>
<circle cx="193.96" cy="540.96" r="0.75" fill="#222"/>
<circle cx="200.34" cy="540.96" r="0.75" fill="#222"/>
<circle cx="206.72" cy="540.96" r="0.75" fill="#222"/>
<circle cx="213.10" cy="540.96" r="0.75" fill="#222"/>
<circle cx="219.48" cy="540.96" r="0.75" fill="#222"/>
<circle cx="225.86" cy="540.96" r="0.75" fill="#222"/>
<circle cx="232.24" cy="540.96" r="0.75" fill="#222"/>
<circle cx="238.62" cy="540.96" r="0.75" fill="#222"/>
<circle cx="245.00" cy="540.96" r="0.75" fill="#222"/>
<path d="M155.68,415.49 L156.06,415.49 L155.68,416.35 L159.01,415.17 L155.68,413.99 L156.06,414.85 L155.68,414.85Z" fill="#000"/>
<path d="M162.06,415.35 L162.27,415.35 L162.06,415.81 L163.87,415.17 L162.06,414.53 L162.27,415.00 L162.06,415.00Z" fill="#000"/>
<path d="M168.44,414.97 L168.20,414.97 L168.44,414.44 L166.37,415.17 L168.44,415.90 L168.20,415.37 L168.44,415.37Z" fill="#000"/>
<path d="M174.82,414.86 L174.45,414.86 L174.82,414.02 L171.57,415.17 L174.82,416.32 L174.45,415.48 L174.82,415.48Z" fill="#000"/>
<path d="M193.96,415.40 L194.23,415.40 L193.96,416.01 L196.32,415.17 L193.96,414.34 L194.23,414.94 L193.96,414.94Z" fill="#000"/>
<path d="M200.34,415.03 L200.17,415.03 L200.34,414.65 L198.87,415.17 L200.34,415.69 L200.17,415.31 L200.34,415.31Z" fill="#000"/>
<path d="M225.86,415.44 L226.19,415.44 L225.86,416.17 L228.68,415.17 L225.86,414.17 L226.19,414.90 L225.86,414.90Z" fill="#000"/>
<circle cx="232.24" cy="415.17" r="0.55" fill="#222"/>
<path d="M238.62,414.85 L238.23,414.85 L238.62,413.98 L235.24,415.17 L238.62,416.37 L238.23,415.50 L238.62,415.50Z" fill="#000"/>
<path d="M149.30,461.77 L144.04,461.77 L144.73,460.23 L138.75,462.34 L144.73,464.46 L144.04,462.92 L149.30,462.92Z" fill="#000"/>
<path d="M155.68,461.77 L146.88,461.77 L147.57,460.23 L141.59,462.34 L147.57,464.46 L146.88,462.92 L155.68,462.92Z" fill="#000"/>
<path d="M162.06,461.77 L148.54,461.77 L149.23,460.23 L143.25,462.34 L149.23,464.46 L148.54,462.92 L162.06,462.92Z" fill="#000"/>
<path d="M168.44,461.77 L155.16,461.77 L155.85,460.23 L149.87,462.34 L155.85,464.46 L155.16,462.92 L168.44,462.92Z" fill="#000"/>
<path d="M174.82,461.77 L166.44,461.77 L167.13,460.23 L161.15,462.34 L167.13,464.46 L166.44,462.92 L174.82,462.92Z" fill="#000"/>
<path d="M181.20,461.77 L175.98,461.77 L176.67,460.23 L170.69,462.34 L176.67,464.46 L175.98,462.92 L181.20,462.92Z" fill="#000"/>
<path d="M187.58,461.77 L179.68,461.77 L180.37,460.23 L174.39,462.34 L180.37,464.46 L179.68,462.92 L187.58,462.92Z" fill="#000"/>
<path d="M193.96,461.77 L181.02,461.77 L181.71,460.23 L175.73,462.34 L181.71,464.46 L181.02,462.92 L193.96,462.92Z" fill="#000"/>
<path d="M200.34,461.77 L186.57,461.77 L187.26,460.23 L181.28,462.34 L187.26,464.46 L186.57,462.92 L200.34,462.92Z" fill="#000"/>
<path d="M206.72,461.77 L197.41,461.77 L198.10,460.23 L192.12,462.34 L198.10,464.46 L197.41,462.92 L206.72,462.92Z" fill="#000"/>
<path d="M213.10,461.77 L207.73,461.77 L208.42,460.23 L202.44,462.34 L208.42,464.46 L207.73,462.92 L213.10,462.92Z" fill="#000"/>
<path d="M219.48,461.77 L212.39,461.77 L213.08,460.23 L207.10,462.34 L213.08,464.46 L212.39,462.92 L219.48,462.92Z" fill="#000"/>
<path d="M225.86,461.77 L213.64,461.77 L214.33,460.23 L208.35,462.34 L214.33,464.46 L213.64,462.92 L225.86,462.92Z" fill="#000"/>
<path d="M232.24,461.77 L218.15,461.77 L218.84,460.23 L212.86,462.34 L218.84,464.46 L218.15,462.92 L232.24,462.92Z" fill="#000"/>
<path d="M238.62,461.77 L228.37,461.77 L229.06,460.23 L223.08,462.34 L229.06,464.46 L228.37,462.92 L238.62,462.92Z" fill="#000"/>
<path d="M245.00,461.77 L239.29,461.77 L239.98,460.23 L234.00,462.34 L239.98,464.46 L239.29,462.92 L245.00,462.92Z" fill="#000"/>
<path d="M149.30,469.63 L134.27,469.54 L134.96,468.00 L128.97,470.08 L134.94,472.24 L134.26,470.69 L149.30,470.78Z" fill="#000"/>
<path d="M155.70,469.63 L135.35,468.83 L136.10,467.32 L130.05,469.20 L135.94,471.55 L135.31,469.98 L155.66,470.78Z" fill="#000"/>
<path d="M162.09,469.63 L134.65,468.34 L135.41,466.84 L129.34,468.67 L135.21,471.06 L134.60,469.49 L162.03,470.78Z" fill="#000"/>
<path d="M168.47,469.63 L141.40,468.36 L142.16,466.86 L136.09,468.69 L141.96,471.08 L141.34,469.51 L168.41,470.78Z" fill="#000"/>
<path d="M174.84,469.63 L155.12,468.88 L155.86,467.37 L149.81,469.26 L155.70,471.60 L155.07,470.03 L174.80,470.78Z" fill="#000"/>
<path d="M181.20,469.63 L166.23,469.60 L166.92,468.06 L160.94,470.16 L166.91,472.29 L166.23,470.75 L181.20,470.78Z" fill="#000"/>
<path d="M187.56,469.63 L168.56,470.32 L169.19,468.75 L163.29,471.08 L169.34,472.98 L168.60,471.47 L187.60,470.78Z" fill="#000"/>
<path d="M193.93,469.63 L167.37,470.87 L167.99,469.30 L162.11,471.69 L168.18,473.52 L167.42,472.02 L193.99,470.78Z" fill="#000"/>
<path d="M200.31,469.63 L172.51,470.94 L173.12,469.37 L167.25,471.77 L173.32,473.60 L172.56,472.09 L200.37,470.78Z" fill="#000"/>
<path d="M206.70,469.63 L185.59,470.49 L186.21,468.93 L180.32,471.29 L186.38,473.16 L185.63,471.64 L206.74,470.78Z" fill="#000"/>
<path d="M213.09,469.63 L197.90,469.79 L198.57,468.24 L192.61,470.42 L198.61,472.47 L197.91,470.94 L213.11,470.78Z" fill="#000"/>
<path d="M219.50,469.63 L201.72,469.07 L202.46,467.55 L196.42,469.48 L202.33,471.78 L201.69,470.22 L219.46,470.78Z" fill="#000"/>
<path d="M225.89,469.63 L200.40,468.46 L201.16,466.95 L195.09,468.79 L200.97,471.18 L200.35,469.61 L225.83,470.78Z" fill="#000"/>
<path d="M232.27,469.63 L203.99,468.29 L204.75,466.79 L198.68,468.62 L204.55,471.01 L203.93,469.44 L232.21,470.78Z" fill="#000"/>
<path d="M238.64,469.63 L216.12,468.66 L216.88,467.15 L210.81,469.01 L216.70,471.38 L216.07,469.81 L238.60,470.78Z" fill="#000"/>
<path d="M245.01,469.63 L229.30,469.35 L230.02,467.82 L224.00,469.83 L229.94,472.05 L229.28,470.50 L244.99,470.78Z" fill="#000"/>
<path d="M155.67,477.49 L140.29,477.83 L140.95,476.28 L135.02,478.53 L141.04,480.51 L140.32,478.98 L155.69,478.64Z" fill="#000"/>
<path d="M162.04,477.49 L139.74,478.18 L140.38,476.62 L134.47,478.92 L140.51,480.85 L139.77,479.33 L162.08,478.64Z" fill="#000"/>
<path d="M168.42,477.49 L146.48,478.17 L147.12,476.61 L141.21,478.90 L147.25,480.84 L146.51,479.32 L168.46,478.64Z" fill="#000"/>
<path d="M174.81,477.49 L160.04,477.80 L160.70,476.24 L154.76,478.48 L160.79,480.47 L160.06,478.95 L174.83,478.64Z" fill="#000"/>
<path d="M187.61,477.49 L173.54,476.80 L174.31,475.29 L168.23,477.11 L174.10,479.52 L173.49,477.95 L187.55,478.64Z" fill="#000"/>
<path d="M193.99,477.49 L172.53,476.36 L173.30,474.86 L167.22,476.66 L173.08,479.08 L172.47,477.51 L193.93,478.64Z" fill="#000"/>
<path d="M200.37,477.49 L177.70,476.30 L178.47,474.80 L172.38,476.60 L178.24,479.02 L177.64,477.45 L200.31,478.64Z" fill="#000"/>
<path d="M206.75,477.49 L190.62,476.66 L191.39,475.15 L185.31,476.96 L191.17,479.38 L190.56,477.81 L206.69,478.64Z" fill="#000"/>
<path d="M225.84,477.49 L205.45,478.10 L206.09,476.54 L200.18,478.83 L206.22,480.77 L205.48,479.25 L225.88,478.64Z" fill="#000"/>
<path d="M232.22,477.49 L209.09,478.22 L209.73,476.66 L203.82,478.96 L209.87,480.89 L209.13,479.37 L232.26,478.64Z" fill="#000"/>
<path d="M238.60,477.49 L221.10,477.95 L221.75,476.39 L215.83,478.67 L221.86,480.62 L221.13,479.10 L238.64,478.64Z" fill="#000"/>
<path d="M149.30,485.46 L148.74,485.46 L149.30,484.20 L144.41,485.93 L149.30,487.66 L148.74,486.40 L149.30,486.40Z" fill="#000"/>
<path d="M155.68,485.36 L154.80,485.36 L155.49,483.81 L149.51,485.93 L155.49,488.05 L154.80,486.50 L155.68,486.50Z" fill="#000"/>
<path d="M162.06,485.36 L159.47,485.36 L160.16,483.81 L154.18,485.93 L160.16,488.05 L159.47,486.50 L162.06,486.50Z" fill="#000"/>
<path d="M168.44,485.36 L165.94,485.36 L166.63,483.81 L160.65,485.93 L166.63,488.05 L165.94,486.50 L168.44,486.50Z" fill="#000"/>
<path d="M174.82,485.36 L174.09,485.36 L174.78,483.81 L168.80,485.93 L174.78,488.05 L174.09,486.50 L174.82,486.50Z" fill="#000"/>
<path d="M181.20,485.46 L180.64,485.46 L181.20,484.20 L176.32,485.93 L181.20,487.66 L180.64,486.40 L181.20,486.40Z" fill="#000"/>
<path d="M187.58,485.37 L186.91,485.37 L187.58,483.86 L181.73,485.93 L187.58,488.00 L186.91,486.49 L187.58,486.49Z" fill="#000"/>
<path d="M193.96,485.36 L191.58,485.36 L192.27,483.81 L186.29,485.93 L192.27,488.05 L191.58,486.50 L193.96,486.50Z" fill="#000"/>
<path d="M200.34,485.36 L197.66,485.36 L198.35,483.81 L192.37,485.93 L198.35,488.05 L197.66,486.50 L200.34,486.50Z" fill="#000"/>
<path d="M206.72,485.36 L205.66,485.36 L206.35,483.81 L200.37,485.93 L206.35,488.05 L205.66,486.50 L206.72,486.50Z" fill="#000"/>
<path d="M213.10,485.46 L212.53,485.46 L213.10,484.18 L208.17,485.93 L213.10,487.68 L212.53,486.40 L213.10,486.40Z" fill="#000"/>
<path d="M219.48,485.40 L218.84,485.40 L219.48,483.97 L213.93,485.93 L219.48,487.89 L218.84,486.46 L219.48,486.46Z" fill="#000"/>
<path d="M225.86,485.36 L223.74,485.36 L224.43,483.81 L218.45,485.93 L224.43,488.05 L223.74,486.50 L225.86,486.50Z" fill="#000"/>
<path d="M232.24,485.36 L229.45,485.36 L230.14,483.81 L224.16,485.93 L230.14,488.05 L229.45,486.50 L232.24,486.50Z" fill="#000"/>
<path d="M238.62,485.36 L237.22,485.36 L237.91,483.81 L231.93,485.93 L237.91,488.05 L237.22,486.50 L238.62,486.50Z" fill="#000"/>
<path d="M245.00,485.44 L244.42,485.44 L245.00,484.14 L239.94,485.93 L245.00,487.72 L244.42,486.42 L245.00,486.42Z" fill="#000"/>
<path d="M162.01,524.67 L161.09,524.74 L161.65,523.15 L155.86,525.74 L161.99,527.37 L161.18,525.89 L162.11,525.81Z" fill="#000"/>
<path d="M168.39,524.67 L167.47,524.74 L168.03,523.15 L162.24,525.74 L168.37,527.37 L167.56,525.89 L168.49,525.81Z" fill="#000"/>
<path d="M187.53,524.67 L186.59,524.74 L187.15,523.15 L181.36,525.74 L187.49,527.37 L186.68,525.89 L187.63,525.81Z" fill="#000"/>
<path d="M193.92,524.67 L192.42,524.78 L192.99,523.19 L187.18,525.74 L193.30,527.41 L192.50,525.92 L194.00,525.81Z" fill="#000"/>
<path d="M200.31,524.67 L195.48,524.90 L196.09,523.33 L190.22,525.74 L196.30,527.56 L195.53,526.05 L200.37,525.81Z" fill="#000"/>
<path d="M206.69,524.67 L200.73,524.93 L201.35,523.36 L195.47,525.74 L201.54,527.59 L200.78,526.08 L206.75,525.81Z" fill="#000"/>
<path d="M225.81,524.67 L224.89,524.74 L225.45,523.15 L219.66,525.74 L225.79,527.37 L224.98,525.89 L225.91,525.81Z" fill="#000"/>
<path d="M232.19,524.67 L231.27,524.74 L231.83,523.15 L226.04,525.74 L232.17,527.37 L231.36,525.89 L232.29,525.81Z" fill="#000"/>
<path d="M155.70,532.53 L154.18,532.48 L154.92,530.96 L148.88,532.90 L154.80,535.19 L154.15,533.63 L155.66,533.68Z" fill="#000"/>
<path d="M162.08,532.53 L160.56,532.48 L161.30,530.96 L155.26,532.90 L161.18,535.19 L160.53,533.63 L162.04,533.68Z" fill="#000"/>
<path d="M168.46,532.53 L166.94,532.48 L167.68,530.96 L161.64,532.90 L167.56,535.19 L166.91,533.63 L168.42,533.68Z" fill="#000"/>
<path d="M174.84,532.53 L173.32,532.48 L174.06,530.96 L168.02,532.90 L173.94,535.19 L173.29,533.63 L174.80,533.68Z" fill="#000"/>
<path d="M187.60,532.53 L186.07,532.48 L186.80,530.96 L180.76,532.90 L186.68,535.19 L186.03,533.63 L187.56,533.68Z" fill="#000"/>
<path d="M193.98,532.53 L191.83,532.47 L192.56,530.95 L186.53,532.90 L192.45,535.18 L191.80,533.62 L193.94,533.68Z" fill="#000"/>
<path d="M200.35,532.53 L194.54,532.42 L195.26,530.89 L189.24,532.90 L195.18,535.13 L194.52,533.57 L200.33,533.68Z" fill="#000"/>
<path d="M206.73,532.53 L199.68,532.41 L200.40,530.88 L194.39,532.90 L200.33,535.11 L199.67,533.56 L206.71,533.68Z" fill="#000"/>
<path d="M225.88,532.53 L224.36,532.48 L225.10,530.96 L219.06,532.90 L224.97,535.19 L224.33,533.63 L225.84,533.68Z" fill="#000"/>
<path d="M232.26,532.53 L230.74,532.48 L231.48,530.96 L225.44,532.90 L231.36,535.19 L230.71,533.63 L232.22,533.68Z" fill="#000"/>
<path d="M238.64,532.53 L237.12,532.48 L237.86,530.96 L231.82,532.90 L237.74,535.19 L237.09,533.63 L238.60,533.68Z" fill="#000"/>
<path d="M155.68,580.09 L155.46,580.09 L155.68,579.60 L153.78,580.27 L155.68,580.95 L155.46,580.46 L155.68,580.46Z" fill="#000"/>
<path d="M174.82,580.09 L174.60,580.09 L174.82,579.60 L172.92,580.27 L174.82,580.95 L174.60,580.46 L174.82,580.46Z" fill="#000"/>
<path d="M193.96,580.09 L193.74,580.09 L193.96,579.60 L192.06,580.27 L193.96,580.95 L193.74,580.46 L193.96,580.46Z" fill="#000"/>
<path d="M238.62,580.09 L238.40,580.09 L238.62,579.60 L236.72,580.27 L238.62,580.95 L238.40,580.46 L238.62,580.46Z" fill="#000"/>
<path d="M155.68,587.95 L155.46,587.95 L155.68,587.46 L153.78,588.14 L155.68,588.81 L155.46,588.32 L155.68,588.32Z" fill="#000"/>
<path d="M174.82,587.95 L174.60,587.95 L174.82,587.46 L172.92,588.14 L174.82,588.81 L174.60,588.32 L174.82,588.32Z" fill="#000"/>
<path d="M193.96,587.95 L193.74,587.95 L193.96,587.46 L192.06,588.14 L193.96,588.81 L193.74,588.32 L193.96,588.32Z" fill="#000"/>
<path d="M219.48,587.95 L219.26,587.95 L219.48,587.46 L217.58,588.14 L219.48,588.81 L219.26,588.32 L219.48,588.32Z" fill="#000"/>
<path d="M238.62,587.95 L238.40,587.95 L238.62,587.46 L236.72,588.14 L238.62,588.81 L238.40,588.32 L238.62,588.32Z" fill="#000"/>
</g>
<rect x="148.5" y="368.2" width="99.0" height="226.59999999999997" fill="none" stroke="#000" stroke-width="1.6"/>
<text transform="translate(186.34,358.60) scale(1.1594,1)" font-size="16.8" ><tspan>(d)</tspan></text>
<clipPath id="ce"><rect x="275.9" y="368.2" width="99.0" height="226.59999999999997"/></clipPath>
<g clip-path="url(#ce)">
<g filter="url(#fe)">
<rect x="269.9" y="362.2" width="111.0" height="40" fill="url(#he1)"/>
<path d="M269.90,387.30 L271.78,388.09 L273.66,388.94 L275.54,389.83 L277.43,390.72 L279.31,391.59 L281.19,392.41 L283.07,393.15 L284.95,393.79 L286.83,394.31 L288.71,394.70 L290.59,394.93 L292.48,395.00 L294.36,394.91 L296.24,394.67 L298.12,394.28 L300.00,393.75 L301.88,393.10 L303.76,392.35 L305.65,391.52 L307.53,390.65 L309.41,389.76 L311.29,388.87 L313.17,388.02 L315.05,387.24 L316.93,386.54 L318.82,385.95 L320.70,385.49 L322.58,385.18 L324.46,385.02 L326.34,385.02 L328.22,385.18 L330.10,385.49 L331.98,385.95 L333.87,386.54 L335.75,387.24 L337.63,388.02 L339.51,388.87 L341.39,389.76 L343.27,390.65 L345.15,391.52 L347.04,392.35 L348.92,393.10 L350.80,393.75 L352.68,394.28 L354.56,394.67 L356.44,394.91 L358.32,395.00 L360.21,394.93 L362.09,394.70 L363.97,394.31 L365.85,393.79 L367.73,393.15 L369.61,392.41 L371.49,391.59 L373.37,390.72 L375.26,389.83 L377.14,388.94 L379.02,388.09 L380.90,387.30 L380.90,443.70 L379.02,442.91 L377.14,442.06 L375.26,441.17 L373.37,440.28 L371.49,439.41 L369.61,438.59 L367.73,437.85 L365.85,437.21 L363.97,436.69 L362.09,436.30 L360.21,436.07 L358.32,436.00 L356.44,436.09 L354.56,436.33 L352.68,436.72 L350.80,437.25 L348.92,437.90 L347.04,438.65 L345.15,439.48 L343.27,440.35 L341.39,441.24 L339.51,442.13 L337.63,442.98 L335.75,443.76 L333.87,444.46 L331.98,445.05 L330.10,445.51 L328.22,445.82 L326.34,445.98 L324.46,445.98 L322.58,445.82 L320.70,445.51 L318.82,445.05 L316.93,444.46 L315.05,443.76 L313.17,442.98 L311.29,442.13 L309.41,441.24 L307.53,440.35 L305.65,439.48 L303.76,438.65 L301.88,437.90 L300.00,437.25 L298.12,436.72 L296.24,436.33 L294.36,436.09 L292.48,436.00 L290.59,436.07 L288.71,436.30 L286.83,436.69 L284.95,437.21 L283.07,437.85 L281.19,438.59 L279.31,439.41 L277.43,440.28 L275.54,441.17 L273.66,442.06 L271.78,442.91 L269.90,443.70Z" fill="url(#he2)"/>
<path d="M269.90,443.70 L271.78,442.91 L273.66,442.06 L275.54,441.17 L277.43,440.28 L279.31,439.41 L281.19,438.59 L283.07,437.85 L284.95,437.21 L286.83,436.69 L288.71,436.30 L290.59,436.07 L292.48,436.00 L294.36,436.09 L296.24,436.33 L298.12,436.72 L300.00,437.25 L301.88,437.90 L303.76,438.65 L305.65,439.48 L307.53,440.35 L309.41,441.24 L311.29,442.13 L313.17,442.98 L315.05,443.76 L316.93,444.46 L318.82,445.05 L320.70,445.51 L322.58,445.82 L324.46,445.98 L326.34,445.98 L328.22,445.82 L330.10,445.51 L331.98,445.05 L333.87,444.46 L335.75,443.76 L337.63,442.98 L339.51,442.13 L341.39,441.24 L343.27,440.35 L345.15,439.48 L347.04,438.65 L348.92,437.90 L350.80,437.25 L352.68,436.72 L354.56,436.33 L356.44,436.09 L358.32,436.00 L360.21,436.07 L362.09,436.30 L363.97,436.69 L365.85,437.21 L367.73,437.85 L369.61,438.59 L371.49,439.41 L373.37,440.28 L375.26,441.17 L377.14,442.06 L379.02,442.91 L380.90,443.70 L380.90,500.43 L379.02,499.72 L377.14,498.95 L375.26,498.15 L373.37,497.35 L371.49,496.57 L369.61,495.83 L367.73,495.16 L365.85,494.58 L363.97,494.12 L362.09,493.77 L360.21,493.57 L358.32,493.50 L356.44,493.58 L354.56,493.80 L352.68,494.15 L350.80,494.63 L348.92,495.21 L347.04,495.89 L345.15,496.63 L343.27,497.41 L341.39,498.22 L339.51,499.01 L337.63,499.78 L335.75,500.49 L333.87,501.12 L331.98,501.64 L330.10,502.06 L328.22,502.34 L326.34,502.48 L324.46,502.48 L322.58,502.34 L320.70,502.06 L318.82,501.64 L316.93,501.12 L315.05,500.49 L313.17,499.78 L311.29,499.01 L309.41,498.22 L307.53,497.41 L305.65,496.63 L303.76,495.89 L301.88,495.21 L300.00,494.63 L298.12,494.15 L296.24,493.80 L294.36,493.58 L292.48,493.50 L290.59,493.57 L288.71,493.77 L286.83,494.12 L284.95,494.58 L283.07,495.16 L281.19,495.83 L279.31,496.57 L277.43,497.35 L275.54,498.15 L273.66,498.95 L271.78,499.72 L269.90,500.43Z" fill="url(#he3)"/>
<path d="M269.90,500.43 L271.78,499.72 L273.66,498.95 L275.54,498.15 L277.43,497.35 L279.31,496.57 L281.19,495.83 L283.07,495.16 L284.95,494.58 L286.83,494.12 L288.71,493.77 L290.59,493.57 L292.48,493.50 L294.36,493.58 L296.24,493.80 L298.12,494.15 L300.00,494.63 L301.88,495.21 L303.76,495.89 L305.65,496.63 L307.53,497.41 L309.41,498.22 L311.29,499.01 L313.17,499.78 L315.05,500.49 L316.93,501.12 L318.82,501.64 L320.70,502.06 L322.58,502.34 L324.46,502.48 L326.34,502.48 L328.22,502.34 L330.10,502.06 L331.98,501.64 L333.87,501.12 L335.75,500.49 L337.63,499.78 L339.51,499.01 L341.39,498.22 L343.27,497.41 L345.15,496.63 L347.04,495.89 L348.92,495.21 L350.80,494.63 L352.68,494.15 L354.56,493.80 L356.44,493.58 L358.32,493.50 L360.21,493.57 L362.09,493.77 L363.97,494.12 L365.85,494.58 L367.73,495.16 L369.61,495.83 L371.49,496.57 L373.37,497.35 L375.26,498.15 L377.14,498.95 L379.02,499.72 L380.90,500.43 L380.90,551.57 L379.02,552.28 L377.14,553.05 L375.26,553.85 L373.37,554.65 L371.49,555.43 L369.61,556.17 L367.73,556.84 L365.85,557.42 L363.97,557.88 L362.09,558.23 L360.21,558.43 L358.32,558.50 L356.44,558.42 L354.56,558.20 L352.68,557.85 L350.80,557.37 L348.92,556.79 L347.04,556.11 L345.15,555.37 L343.27,554.59 L341.39,553.78 L339.51,552.99 L337.63,552.22 L335.75,551.51 L333.87,550.88 L331.98,550.36 L330.10,549.94 L328.22,549.66 L326.34,549.52 L324.46,549.52 L322.58,549.66 L320.70,549.94 L318.82,550.36 L316.93,550.88 L315.05,551.51 L313.17,552.22 L311.29,552.99 L309.41,553.78 L307.53,554.59 L305.65,555.37 L303.76,556.11 L301.88,556.79 L300.00,557.37 L298.12,557.85 L296.24,558.20 L294.36,558.42 L292.48,558.50 L290.59,558.43 L288.71,558.23 L286.83,557.88 L284.95,557.42 L283.07,556.84 L281.19,556.17 L279.31,555.43 L277.43,554.65 L275.54,553.85 L273.66,553.05 L271.78,552.28 L269.90,551.57Z" fill="url(#he4)"/>
<path d="M269.90,551.57 L271.78,552.28 L273.66,553.05 L275.54,553.85 L277.43,554.65 L279.31,555.43 L281.19,556.17 L283.07,556.84 L284.95,557.42 L286.83,557.88 L288.71,558.23 L290.59,558.43 L292.48,558.50 L294.36,558.42 L296.24,558.20 L298.12,557.85 L300.00,557.37 L301.88,556.79 L303.76,556.11 L305.65,555.37 L307.53,554.59 L309.41,553.78 L311.29,552.99 L313.17,552.22 L315.05,551.51 L316.93,550.88 L318.82,550.36 L320.70,549.94 L322.58,549.66 L324.46,549.52 L326.34,549.52 L328.22,549.66 L330.10,549.94 L331.98,550.36 L333.87,550.88 L335.75,551.51 L337.63,552.22 L339.51,552.99 L341.39,553.78 L343.27,554.59 L345.15,555.37 L347.04,556.11 L348.92,556.79 L350.80,557.37 L352.68,557.85 L354.56,558.20 L356.44,558.42 L358.32,558.50 L360.21,558.43 L362.09,558.23 L363.97,557.88 L365.85,557.42 L367.73,556.84 L369.61,556.17 L371.49,555.43 L373.37,554.65 L375.26,553.85 L377.14,553.05 L379.02,552.28 L380.90,551.57 L380.90,602.80 L379.02,602.80 L377.14,602.80 L375.26,602.80 L373.37,602.80 L371.49,602.80 L369.61,602.80 L367.73,602.80 L365.85,602.80 L363.97,602.80 L362.09,602.80 L360.21,602.80 L358.32,602.80 L356.44,602.80 L354.56,602.80 L352.68,602.80 L350.80,602.80 L348.92,602.80 L347.04,602.80 L345.15,602.80 L343.27,602.80 L341.39,602.80 L339.51,602.80 L337.63,602.80 L335.75,602.80 L333.87,602.80 L331.98,602.80 L330.10,602.80 L328.22,602.80 L326.34,602.80 L324.46,602.80 L322.58,602.80 L320.70,602.80 L318.82,602.80 L316.93,602.80 L315.05,602.80 L313.17,602.80 L311.29,602.80 L309.41,602.80 L307.53,602.80 L305.65,602.80 L303.76,602.80 L301.88,602.80 L300.00,602.80 L298.12,602.80 L296.24,602.80 L294.36,602.80 L292.48,602.80 L290.59,602.80 L288.71,602.80 L286.83,602.80 L284.95,602.80 L283.07,602.80 L281.19,602.80 L279.31,602.80 L277.43,602.80 L275.54,602.80 L273.66,602.80 L271.78,602.80 L269.90,602.80Z" fill="url(#he5)"/>
</g>
<path d="M226.40,330.43L259.40,311.55M259.40,311.55L292.40,330.43M226.40,330.43L226.40,368.20M292.40,330.43L325.40,311.55M325.40,311.55L358.40,330.43M292.40,330.43L292.40,368.20M358.40,330.43L391.40,311.55M391.40,311.55L424.40,330.43M358.40,330.43L358.40,368.20M424.40,330.43L457.40,311.55M457.40,311.55L490.40,330.43M424.40,330.43L424.40,368.20M193.40,387.08L226.40,368.20M226.40,368.20L259.40,387.08M193.40,387.08L193.40,424.85M259.40,387.08L292.40,368.20M292.40,368.20L325.40,387.08M259.40,387.08L259.40,424.85M325.40,387.08L358.40,368.20M358.40,368.20L391.40,387.08M325.40,387.08L325.40,424.85M391.40,387.08L424.40,368.20M424.40,368.20L457.40,387.08M391.40,387.08L391.40,424.85M226.40,443.73L259.40,424.85M259.40,424.85L292.40,443.73M226.40,443.73L226.40,481.50M292.40,443.73L325.40,424.85M325.40,424.85L358.40,443.73M292.40,443.73L292.40,481.50M358.40,443.73L391.40,424.85M391.40,424.85L424.40,443.73M358.40,443.73L358.40,481.50M424.40,443.73L457.40,424.85M457.40,424.85L490.40,443.73M424.40,443.73L424.40,481.50M193.40,500.38L193.40,538.15M259.40,500.38L259.40,538.15M325.40,500.38L325.40,538.15M391.40,500.38L391.40,538.15M226.40,557.03L259.40,538.15M259.40,538.15L292.40,557.03M226.40,557.03L226.40,594.80M292.40,557.03L325.40,538.15M325.40,538.15L358.40,557.03M292.40,557.03L292.40,594.80M358.40,557.03L391.40,538.15M391.40,538.15L424.40,557.03M358.40,557.03L358.40,594.80M424.40,557.03L457.40,538.15M457.40,538.15L490.40,557.03M424.40,557.03L424.40,594.80M193.40,613.68L226.40,594.80M226.40,594.80L259.40,613.68M193.40,613.68L193.40,651.45M259.40,613.68L292.40,594.80M292.40,594.80L325.40,613.68M259.40,613.68L259.40,651.45M325.40,613.68L358.40,594.80M358.40,594.80L391.40,613.68M325.40,613.68L325.40,651.45M391.40,613.68L424.40,594.80M424.40,594.80L457.40,613.68M391.40,613.68L391.40,651.45" fill="none" stroke="#8c8c8c" stroke-width="1.35" stroke-linecap="round"/>
<path d="M193.40,500.38 L226.40,481.50 L259.40,500.38 L292.40,481.50 L325.40,500.38 L358.40,481.50 L391.40,500.38 L424.40,481.50 L457.40,500.38" fill="none" stroke="#d22a18" stroke-width="1.7" stroke-linejoin="miter"/>
<circle cx="277.67" cy="359.87" r="7.3" fill="#fff" stroke="#000" stroke-width="1.25"/><circle cx="307.13" cy="359.87" r="7.3" fill="#fff" stroke="#000" stroke-width="1.25"/><circle cx="343.67" cy="359.87" r="7.3" fill="#fff" stroke="#000" stroke-width="1.25"/><circle cx="373.13" cy="359.87" r="7.3" fill="#fff" stroke="#000" stroke-width="1.25"/><circle cx="292.40" cy="384.87" r="7.3" fill="#fff" stroke="#000" stroke-width="1.25"/><circle cx="274.13" cy="416.52" r="7.3" fill="#fff" stroke="#000" stroke-width="1.25"/><circle cx="274.13" cy="583.48" r="7.3" fill="#fff" stroke="#000" stroke-width="1.25"/><circle cx="310.67" cy="416.52" r="7.3" fill="#fff" stroke="#000" stroke-width="1.25"/><circle cx="310.67" cy="583.48" r="7.3" fill="#fff" stroke="#000" stroke-width="1.25"/><circle cx="358.40" cy="384.87" r="7.3" fill="#fff" stroke="#000" stroke-width="1.25"/><circle cx="340.13" cy="416.52" r="7.3" fill="#fff" stroke="#000" stroke-width="1.25"/><circle cx="340.13" cy="583.48" r="7.3" fill="#fff" stroke="#000" stroke-width="1.25"/><circle cx="376.67" cy="416.52" r="7.3" fill="#fff" stroke="#000" stroke-width="1.25"/><circle cx="376.67" cy="583.48" r="7.3" fill="#fff" stroke="#000" stroke-width="1.25"/><circle cx="277.67" cy="473.17" r="7.3" fill="#fff" stroke="#000" stroke-width="1.25"/><circle cx="277.67" cy="526.83" r="7.3" fill="#fff" stroke="#000" stroke-width="1.25"/><circle cx="325.40" cy="441.52" r="7.3" fill="#fff" stroke="#000" stroke-width="1.25"/><circle cx="325.40" cy="558.48" r="7.3" fill="#fff" stroke="#000" stroke-width="1.25"/><circle cx="307.13" cy="473.17" r="7.3" fill="#fff" stroke="#000" stroke-width="1.25"/><circle cx="307.13" cy="526.83" r="7.3" fill="#fff" stroke="#000" stroke-width="1.25"/><circle cx="343.67" cy="473.17" r="7.3" fill="#fff" stroke="#000" stroke-width="1.25"/><circle cx="343.67" cy="526.83" r="7.3" fill="#fff" stroke="#000" stroke-width="1.25"/><circle cx="373.13" cy="473.17" r="7.3" fill="#fff" stroke="#000" stroke-width="1.25"/><circle cx="373.13" cy="526.83" r="7.3" fill="#fff" stroke="#000" stroke-width="1.25"/><circle cx="292.40" cy="501.20" r="7.3" fill="#fff" stroke="#000" stroke-width="1.25"/><circle cx="358.40" cy="501.20" r="7.3" fill="#fff" stroke="#000" stroke-width="1.25"/>
<path d="M336.00,453.2 A10.2,10.2 0 0 1 315.60,457.5" fill="none" stroke="#000" stroke-width="1.5"/>
<path d="M313.10,446.4 L318.80,456.9 L309.80,456.9Z" fill="#000"/>
<path d="M335.80,540.5 A10.2,10.2 0 0 0 315.80,537.0" fill="none" stroke="#000" stroke-width="1.5"/>
<path d="M314.20,547.2 L317.00,537.8 L310.00,537.8Z" fill="#000"/>
</g>
<rect x="275.9" y="368.2" width="99.0" height="226.59999999999997" fill="none" stroke="#000" stroke-width="1.6"/>
<text transform="translate(314.58,358.90) scale(1.1066,1)" font-size="16.8" ><tspan>(e)</tspan></text>
<rect x="276.29999999999995" y="609.5" width="99.0" height="13.0" fill="url(#cbe)" stroke="#000" stroke-width="1.3"/><line x1="276.30" y1="622.5" x2="276.30" y2="629.9" stroke="#000" stroke-width="1.3"/><line x1="325.80" y1="622.5" x2="325.80" y2="629.9" stroke="#000" stroke-width="1.3"/><line x1="375.30" y1="622.5" x2="375.30" y2="629.9" stroke="#000" stroke-width="1.3"/><text transform="translate(262.96,648.40) scale(1.2392,1)" font-size="16.8" ><tspan>−π</tspan></text><text transform="translate(319.30,648.40) scale(1.0955,1)" font-size="16.8" ><tspan>0</tspan></text><text transform="translate(368.94,648.40) scale(1.1378,1)" font-size="16.8" ><tspan>π</tspan></text><text transform="translate(301.19,669.20) scale(1.3155,1)" font-size="16.8" ><tspan font-style="italic">ϕ</tspan><tspan>(</tspan><tspan font-style="italic">E</tspan><tspan font-style="italic" font-size="11.76" dy="2.52">z</tspan><tspan dy="-2.52">)</tspan></text>
<clipPath id="cf"><rect x="403.5" y="368.2" width="99.0" height="226.59999999999997"/></clipPath>
<g clip-path="url(#cf)">
<g filter="url(#fpiyg)">
<rect x="401.5" y="366.2" width="103.0" height="230.59999999999997" fill="#808080"/>
<rect x="398.5" y="395.5" width="109.0" height="22" fill="url(#vK)" opacity="0.100"/>
<rect x="398.5" y="414" width="109.0" height="22" fill="url(#vW)" opacity="0.100"/>
<rect x="398.5" y="445.5" width="109.0" height="32" fill="url(#vK)" opacity="0.420"/>
<rect x="398.5" y="468.5" width="109.0" height="32" fill="url(#vW)" opacity="0.400"/>
<rect x="398.5" y="507" width="109.0" height="20" fill="url(#vK)" opacity="0.130"/>
<rect x="398.5" y="524" width="109.0" height="24" fill="url(#vW)" opacity="0.090"/>
<rect x="398.5" y="569" width="109.0" height="26" fill="url(#vK)" opacity="0.080"/>
<ellipse cx="401.70" cy="407.50" rx="13" ry="6" fill="url(#sK)" opacity="0.100"/>
<ellipse cx="401.70" cy="425.50" rx="13" ry="6" fill="url(#sW)" opacity="0.080"/>
<ellipse cx="438.30" cy="407.50" rx="13" ry="6" fill="url(#sK)" opacity="0.100"/>
<ellipse cx="438.30" cy="425.50" rx="13" ry="6" fill="url(#sW)" opacity="0.080"/>
<ellipse cx="467.70" cy="407.50" rx="13" ry="6" fill="url(#sK)" opacity="0.100"/>
<ellipse cx="467.70" cy="425.50" rx="13" ry="6" fill="url(#sW)" opacity="0.080"/>
<ellipse cx="504.30" cy="407.50" rx="13" ry="6" fill="url(#sK)" opacity="0.100"/>
<ellipse cx="504.30" cy="425.50" rx="13" ry="6" fill="url(#sW)" opacity="0.080"/>
<ellipse cx="405.30" cy="465.20" rx="12" ry="6.2" fill="url(#sK)" opacity="0.950"/>
<ellipse cx="405.30" cy="481.60" rx="12" ry="6.2" fill="url(#sW)" opacity="0.950"/>
<ellipse cx="405.30" cy="517.50" rx="13" ry="6.5" fill="url(#sK)" opacity="0.300"/>
<ellipse cx="405.30" cy="536.50" rx="13" ry="7" fill="url(#sW)" opacity="0.100"/>
<ellipse cx="434.70" cy="465.20" rx="12" ry="6.2" fill="url(#sK)" opacity="0.950"/>
<ellipse cx="434.70" cy="481.60" rx="12" ry="6.2" fill="url(#sW)" opacity="0.950"/>
<ellipse cx="434.70" cy="517.50" rx="13" ry="6.5" fill="url(#sK)" opacity="0.300"/>
<ellipse cx="434.70" cy="536.50" rx="13" ry="7" fill="url(#sW)" opacity="0.100"/>
<ellipse cx="471.30" cy="465.20" rx="12" ry="6.2" fill="url(#sK)" opacity="0.950"/>
<ellipse cx="471.30" cy="481.60" rx="12" ry="6.2" fill="url(#sW)" opacity="0.950"/>
<ellipse cx="471.30" cy="517.50" rx="13" ry="6.5" fill="url(#sK)" opacity="0.300"/>
<ellipse cx="471.30" cy="536.50" rx="13" ry="7" fill="url(#sW)" opacity="0.100"/>
<ellipse cx="500.70" cy="465.20" rx="12" ry="6.2" fill="url(#sK)" opacity="0.950"/>
<ellipse cx="500.70" cy="481.60" rx="12" ry="6.2" fill="url(#sW)" opacity="0.950"/>
<ellipse cx="500.70" cy="517.50" rx="13" ry="6.5" fill="url(#sK)" opacity="0.300"/>
<ellipse cx="500.70" cy="536.50" rx="13" ry="7" fill="url(#sW)" opacity="0.100"/>
</g>
<path d="M354.00,330.43L387.00,311.55M387.00,311.55L420.00,330.43M354.00,330.43L354.00,368.20M420.00,330.43L453.00,311.55M453.00,311.55L486.00,330.43M420.00,330.43L420.00,368.20M486.00,330.43L519.00,311.55M519.00,311.55L552.00,330.43M486.00,330.43L486.00,368.20M552.00,330.43L585.00,311.55M585.00,311.55L618.00,330.43M552.00,330.43L552.00,368.20M321.00,387.08L354.00,368.20M354.00,368.20L387.00,387.08M321.00,387.08L321.00,424.85M387.00,387.08L420.00,368.20M420.00,368.20L453.00,387.08M387.00,387.08L387.00,424.85M453.00,387.08L486.00,368.20M486.00,368.20L519.00,387.08M453.00,387.08L453.00,424.85M519.00,387.08L552.00,368.20M552.00,368.20L585.00,387.08M519.00,387.08L519.00,424.85M354.00,443.73L387.00,424.85M387.00,424.85L420.00,443.73M354.00,443.73L354.00,481.50M420.00,443.73L453.00,424.85M453.00,424.85L486.00,443.73M420.00,443.73L420.00,481.50M486.00,443.73L519.00,424.85M519.00,424.85L552.00,443.73M486.00,443.73L486.00,481.50M552.00,443.73L585.00,424.85M585.00,424.85L618.00,443.73M552.00,443.73L552.00,481.50M321.00,500.38L321.00,538.15M387.00,500.38L387.00,538.15M453.00,500.38L453.00,538.15M519.00,500.38L519.00,538.15M354.00,557.03L387.00,538.15M387.00,538.15L420.00,557.03M354.00,557.03L354.00,594.80M420.00,557.03L453.00,538.15M453.00,538.15L486.00,557.03M420.00,557.03L420.00,594.80M486.00,557.03L519.00,538.15M519.00,538.15L552.00,557.03M486.00,557.03L486.00,594.80M552.00,557.03L585.00,538.15M585.00,538.15L618.00,557.03M552.00,557.03L552.00,594.80M321.00,613.68L354.00,594.80M354.00,594.80L387.00,613.68M321.00,613.68L321.00,651.45M387.00,613.68L420.00,594.80M420.00,594.80L453.00,613.68M387.00,613.68L387.00,651.45M453.00,613.68L486.00,594.80M486.00,594.80L519.00,613.68M453.00,613.68L453.00,651.45M519.00,613.68L552.00,594.80M552.00,594.80L585.00,613.68M519.00,613.68L519.00,651.45" fill="none" stroke="#939393" stroke-width="1.35" stroke-linecap="round"/>
<path d="M321.00,500.38 L354.00,481.50 L387.00,500.38 L420.00,481.50 L453.00,500.38 L486.00,481.50 L519.00,500.38 L552.00,481.50 L585.00,500.38" fill="none" stroke="#e8141c" stroke-width="1.7" stroke-linejoin="miter"/>
<circle cx="405.27" cy="359.87" r="7.3" fill="#fff" stroke="#000" stroke-width="1.25"/><circle cx="434.73" cy="359.87" r="7.3" fill="#fff" stroke="#000" stroke-width="1.25"/><circle cx="471.27" cy="359.87" r="7.3" fill="#fff" stroke="#000" stroke-width="1.25"/><circle cx="500.73" cy="359.87" r="7.3" fill="#fff" stroke="#000" stroke-width="1.25"/><circle cx="420.00" cy="384.87" r="7.3" fill="#fff" stroke="#000" stroke-width="1.25"/><circle cx="401.73" cy="416.52" r="7.3" fill="#fff" stroke="#000" stroke-width="1.25"/><circle cx="401.73" cy="583.48" r="7.3" fill="#fff" stroke="#000" stroke-width="1.25"/><circle cx="438.27" cy="416.52" r="7.3" fill="#fff" stroke="#000" stroke-width="1.25"/><circle cx="438.27" cy="583.48" r="7.3" fill="#fff" stroke="#000" stroke-width="1.25"/><circle cx="486.00" cy="384.87" r="7.3" fill="#fff" stroke="#000" stroke-width="1.25"/><circle cx="467.73" cy="416.52" r="7.3" fill="#fff" stroke="#000" stroke-width="1.25"/><circle cx="467.73" cy="583.48" r="7.3" fill="#fff" stroke="#000" stroke-width="1.25"/><circle cx="504.27" cy="416.52" r="7.3" fill="#fff" stroke="#000" stroke-width="1.25"/><circle cx="504.27" cy="583.48" r="7.3" fill="#fff" stroke="#000" stroke-width="1.25"/><circle cx="405.27" cy="473.17" r="7.3" fill="#fff" stroke="#000" stroke-width="1.25"/><circle cx="405.27" cy="526.83" r="7.3" fill="#fff" stroke="#000" stroke-width="1.25"/><circle cx="453.00" cy="441.52" r="7.3" fill="#fff" stroke="#000" stroke-width="1.25"/><circle cx="453.00" cy="558.48" r="7.3" fill="#fff" stroke="#000" stroke-width="1.25"/><circle cx="434.73" cy="473.17" r="7.3" fill="#fff" stroke="#000" stroke-width="1.25"/><circle cx="434.73" cy="526.83" r="7.3" fill="#fff" stroke="#000" stroke-width="1.25"/><circle cx="471.27" cy="473.17" r="7.3" fill="#fff" stroke="#000" stroke-width="1.25"/><circle cx="471.27" cy="526.83" r="7.3" fill="#fff" stroke="#000" stroke-width="1.25"/><circle cx="500.73" cy="473.17" r="7.3" fill="#fff" stroke="#000" stroke-width="1.25"/><circle cx="500.73" cy="526.83" r="7.3" fill="#fff" stroke="#000" stroke-width="1.25"/><circle cx="420.00" cy="501.20" r="7.3" fill="#fff" stroke="#000" stroke-width="1.25"/><circle cx="486.00" cy="501.20" r="7.3" fill="#fff" stroke="#000" stroke-width="1.25"/>
</g>
<rect x="403.5" y="368.2" width="99.0" height="226.59999999999997" fill="none" stroke="#000" stroke-width="1.6"/>
<text transform="translate(442.75,358.60) scale(1.1498,1)" font-size="16.8" ><tspan>(f)</tspan></text>
<rect x="403.2" y="609.5" width="99.0" height="13.0" fill="url(#cbf)" stroke="#000" stroke-width="1.3"/><line x1="403.20" y1="622.5" x2="403.20" y2="629.9" stroke="#000" stroke-width="1.3"/><line x1="452.70" y1="622.5" x2="452.70" y2="629.9" stroke="#000" stroke-width="1.3"/><line x1="502.20" y1="622.5" x2="502.20" y2="629.9" stroke="#000" stroke-width="1.3"/><text transform="translate(391.32,649.20) scale(1.1666,1)" font-size="16.8" ><tspan>−1</tspan></text><text transform="translate(447.40,649.20) scale(1.0955,1)" font-size="16.8" ><tspan>0</tspan></text><text transform="translate(494.68,649.20) scale(0.9637,1)" font-size="16.8" ><tspan>1</tspan></text><text transform="translate(441.75,667.90) scale(1.5001,1)" font-size="16.8" ><tspan font-style="italic">T</tspan><tspan font-style="italic" font-size="11.76" dy="2.52">z</tspan></text>
</svg>
</body></html>
